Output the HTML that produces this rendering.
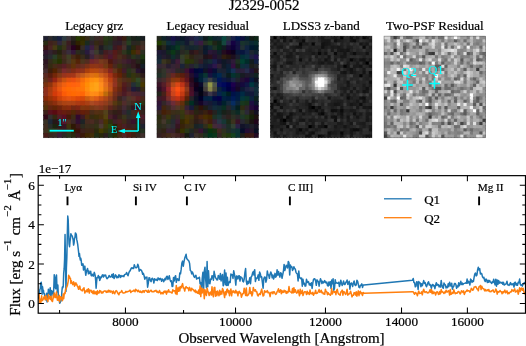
<!DOCTYPE html>
<html lang="en"><head><meta charset="utf-8"><title>J2329-0052</title>
<style>html,body{margin:0;padding:0;background:#fff}svg{display:block}text{font-family:'Liberation Serif','Times New Roman',Times,serif;fill:#000;stroke:#000;stroke-width:0.22px;paint-order:stroke fill}text.c{fill:#00ffff;stroke:#00ffff;stroke-width:0.08px}</style></head><body>
<svg width="526" height="346" viewBox="0 0 526 346">
<rect width="526" height="346" fill="#fff"/>
<text x="264.2" y="10.3" font-size="15.0" text-anchor="middle">J2329-0052</text>
<text x="94.2" y="29.8" font-size="13.0" text-anchor="middle">Legacy grz</text>
<g>
<rect x="43.30" y="36.10" width="5.82" height="5.82" fill="#1e1e2f"/>
<rect x="47.92" y="36.10" width="5.82" height="5.82" fill="#29282c"/>
<rect x="52.55" y="36.10" width="5.82" height="5.82" fill="#1a2430"/>
<rect x="57.17" y="36.10" width="5.82" height="5.82" fill="#161e3e"/>
<rect x="61.79" y="36.10" width="5.82" height="5.82" fill="#2c3b42"/>
<rect x="66.41" y="36.10" width="5.82" height="5.82" fill="#3b3438"/>
<rect x="71.04" y="36.10" width="5.82" height="5.82" fill="#28251f"/>
<rect x="75.66" y="36.10" width="5.82" height="5.82" fill="#263901"/>
<rect x="80.28" y="36.10" width="5.82" height="5.82" fill="#2e2b00"/>
<rect x="84.90" y="36.10" width="5.82" height="5.82" fill="#352a16"/>
<rect x="89.53" y="36.10" width="5.82" height="5.82" fill="#2e312b"/>
<rect x="94.15" y="36.10" width="5.82" height="5.82" fill="#382b27"/>
<rect x="98.77" y="36.10" width="5.82" height="5.82" fill="#3d2925"/>
<rect x="103.40" y="36.10" width="5.82" height="5.82" fill="#293a17"/>
<rect x="108.02" y="36.10" width="5.82" height="5.82" fill="#243318"/>
<rect x="112.64" y="36.10" width="5.82" height="5.82" fill="#32241e"/>
<rect x="117.26" y="36.10" width="5.82" height="5.82" fill="#32151e"/>
<rect x="121.89" y="36.10" width="5.82" height="5.82" fill="#381c10"/>
<rect x="126.51" y="36.10" width="5.82" height="5.82" fill="#1f3120"/>
<rect x="131.13" y="36.10" width="5.82" height="5.82" fill="#1a2118"/>
<rect x="135.75" y="36.10" width="5.82" height="5.82" fill="#14231b"/>
<rect x="140.38" y="36.10" width="4.62" height="5.82" fill="#171c20"/>
<rect x="43.30" y="40.72" width="5.82" height="5.82" fill="#282a11"/>
<rect x="47.92" y="40.72" width="5.82" height="5.82" fill="#41201c"/>
<rect x="52.55" y="40.72" width="5.82" height="5.82" fill="#3e281d"/>
<rect x="57.17" y="40.72" width="5.82" height="5.82" fill="#30273d"/>
<rect x="61.79" y="40.72" width="5.82" height="5.82" fill="#393627"/>
<rect x="66.41" y="40.72" width="5.82" height="5.82" fill="#3b1d20"/>
<rect x="71.04" y="40.72" width="5.82" height="5.82" fill="#201815"/>
<rect x="75.66" y="40.72" width="5.82" height="5.82" fill="#2f2100"/>
<rect x="80.28" y="40.72" width="5.82" height="5.82" fill="#352e00"/>
<rect x="84.90" y="40.72" width="5.82" height="5.82" fill="#1b2b1f"/>
<rect x="89.53" y="40.72" width="5.82" height="5.82" fill="#2f232b"/>
<rect x="94.15" y="40.72" width="5.82" height="5.82" fill="#352813"/>
<rect x="98.77" y="40.72" width="5.82" height="5.82" fill="#36221c"/>
<rect x="103.40" y="40.72" width="5.82" height="5.82" fill="#273115"/>
<rect x="108.02" y="40.72" width="5.82" height="5.82" fill="#262d21"/>
<rect x="112.64" y="40.72" width="5.82" height="5.82" fill="#301e28"/>
<rect x="117.26" y="40.72" width="5.82" height="5.82" fill="#2d1d29"/>
<rect x="121.89" y="40.72" width="5.82" height="5.82" fill="#3a2b25"/>
<rect x="126.51" y="40.72" width="5.82" height="5.82" fill="#263d20"/>
<rect x="131.13" y="40.72" width="5.82" height="5.82" fill="#2a2623"/>
<rect x="135.75" y="40.72" width="5.82" height="5.82" fill="#29281e"/>
<rect x="140.38" y="40.72" width="4.62" height="5.82" fill="#3b2f27"/>
<rect x="43.30" y="45.35" width="5.82" height="5.82" fill="#381313"/>
<rect x="47.92" y="45.35" width="5.82" height="5.82" fill="#4a2423"/>
<rect x="52.55" y="45.35" width="5.82" height="5.82" fill="#463a12"/>
<rect x="57.17" y="45.35" width="5.82" height="5.82" fill="#233114"/>
<rect x="61.79" y="45.35" width="5.82" height="5.82" fill="#393417"/>
<rect x="66.41" y="45.35" width="5.82" height="5.82" fill="#3a1d2d"/>
<rect x="71.04" y="45.35" width="5.82" height="5.82" fill="#290121"/>
<rect x="75.66" y="45.35" width="5.82" height="5.82" fill="#260c05"/>
<rect x="80.28" y="45.35" width="5.82" height="5.82" fill="#362b24"/>
<rect x="84.90" y="45.35" width="5.82" height="5.82" fill="#212546"/>
<rect x="89.53" y="45.35" width="5.82" height="5.82" fill="#3d1e42"/>
<rect x="94.15" y="45.35" width="5.82" height="5.82" fill="#3f2f20"/>
<rect x="98.77" y="45.35" width="5.82" height="5.82" fill="#201a23"/>
<rect x="103.40" y="45.35" width="5.82" height="5.82" fill="#272f27"/>
<rect x="108.02" y="45.35" width="5.82" height="5.82" fill="#24342f"/>
<rect x="112.64" y="45.35" width="5.82" height="5.82" fill="#3a1a22"/>
<rect x="117.26" y="45.35" width="5.82" height="5.82" fill="#481919"/>
<rect x="121.89" y="45.35" width="5.82" height="5.82" fill="#452f2b"/>
<rect x="126.51" y="45.35" width="5.82" height="5.82" fill="#182624"/>
<rect x="131.13" y="45.35" width="5.82" height="5.82" fill="#29290d"/>
<rect x="135.75" y="45.35" width="5.82" height="5.82" fill="#411f17"/>
<rect x="140.38" y="45.35" width="4.62" height="5.82" fill="#472e27"/>
<rect x="43.30" y="49.97" width="5.82" height="5.82" fill="#30162d"/>
<rect x="47.92" y="49.97" width="5.82" height="5.82" fill="#32222e"/>
<rect x="52.55" y="49.97" width="5.82" height="5.82" fill="#2e1e1d"/>
<rect x="57.17" y="49.97" width="5.82" height="5.82" fill="#25220d"/>
<rect x="61.79" y="49.97" width="5.82" height="5.82" fill="#392626"/>
<rect x="66.41" y="49.97" width="5.82" height="5.82" fill="#392c3b"/>
<rect x="71.04" y="49.97" width="5.82" height="5.82" fill="#331738"/>
<rect x="75.66" y="49.97" width="5.82" height="5.82" fill="#2b2a1c"/>
<rect x="80.28" y="49.97" width="5.82" height="5.82" fill="#262525"/>
<rect x="84.90" y="49.97" width="5.82" height="5.82" fill="#291b3d"/>
<rect x="89.53" y="49.97" width="5.82" height="5.82" fill="#433143"/>
<rect x="94.15" y="49.97" width="5.82" height="5.82" fill="#3c3b2c"/>
<rect x="98.77" y="49.97" width="5.82" height="5.82" fill="#272328"/>
<rect x="103.40" y="49.97" width="5.82" height="5.82" fill="#441c1f"/>
<rect x="108.02" y="49.97" width="5.82" height="5.82" fill="#45232c"/>
<rect x="112.64" y="49.97" width="5.82" height="5.82" fill="#551a18"/>
<rect x="117.26" y="49.97" width="5.82" height="5.82" fill="#412319"/>
<rect x="121.89" y="49.97" width="5.82" height="5.82" fill="#2f351e"/>
<rect x="126.51" y="49.97" width="5.82" height="5.82" fill="#1a2b16"/>
<rect x="131.13" y="49.97" width="5.82" height="5.82" fill="#3d2e01"/>
<rect x="135.75" y="49.97" width="5.82" height="5.82" fill="#502813"/>
<rect x="140.38" y="49.97" width="4.62" height="5.82" fill="#2c2e21"/>
<rect x="43.30" y="54.59" width="5.82" height="5.82" fill="#251e2b"/>
<rect x="47.92" y="54.59" width="5.82" height="5.82" fill="#292b2f"/>
<rect x="52.55" y="54.59" width="5.82" height="5.82" fill="#293e26"/>
<rect x="57.17" y="54.59" width="5.82" height="5.82" fill="#2f300e"/>
<rect x="61.79" y="54.59" width="5.82" height="5.82" fill="#422b1f"/>
<rect x="66.41" y="54.59" width="5.82" height="5.82" fill="#3f3f24"/>
<rect x="71.04" y="54.59" width="5.82" height="5.82" fill="#472a16"/>
<rect x="75.66" y="54.59" width="5.82" height="5.82" fill="#3c1f09"/>
<rect x="80.28" y="54.59" width="5.82" height="5.82" fill="#382b19"/>
<rect x="84.90" y="54.59" width="5.82" height="5.82" fill="#291e22"/>
<rect x="89.53" y="54.59" width="5.82" height="5.82" fill="#3e243c"/>
<rect x="94.15" y="54.59" width="5.82" height="5.82" fill="#512e29"/>
<rect x="98.77" y="54.59" width="5.82" height="5.82" fill="#492a1e"/>
<rect x="103.40" y="54.59" width="5.82" height="5.82" fill="#541e1f"/>
<rect x="108.02" y="54.59" width="5.82" height="5.82" fill="#4d182f"/>
<rect x="112.64" y="54.59" width="5.82" height="5.82" fill="#541e1b"/>
<rect x="117.26" y="54.59" width="5.82" height="5.82" fill="#492d1b"/>
<rect x="121.89" y="54.59" width="5.82" height="5.82" fill="#40221b"/>
<rect x="126.51" y="54.59" width="5.82" height="5.82" fill="#2d221e"/>
<rect x="131.13" y="54.59" width="5.82" height="5.82" fill="#29351d"/>
<rect x="135.75" y="54.59" width="5.82" height="5.82" fill="#292a25"/>
<rect x="140.38" y="54.59" width="4.62" height="5.82" fill="#1c360f"/>
<rect x="43.30" y="59.21" width="5.82" height="5.82" fill="#2d1520"/>
<rect x="47.92" y="59.21" width="5.82" height="5.82" fill="#332b1b"/>
<rect x="52.55" y="59.21" width="5.82" height="5.82" fill="#2e3812"/>
<rect x="57.17" y="59.21" width="5.82" height="5.82" fill="#253200"/>
<rect x="61.79" y="59.21" width="5.82" height="5.82" fill="#3c2a1b"/>
<rect x="66.41" y="59.21" width="5.82" height="5.82" fill="#493927"/>
<rect x="71.04" y="59.21" width="5.82" height="5.82" fill="#573710"/>
<rect x="75.66" y="59.21" width="5.82" height="5.82" fill="#532308"/>
<rect x="80.28" y="59.21" width="5.82" height="5.82" fill="#4c351d"/>
<rect x="84.90" y="59.21" width="5.82" height="5.82" fill="#522c20"/>
<rect x="89.53" y="59.21" width="5.82" height="5.82" fill="#71262c"/>
<rect x="94.15" y="59.21" width="5.82" height="5.82" fill="#742d27"/>
<rect x="98.77" y="59.21" width="5.82" height="5.82" fill="#773a1c"/>
<rect x="103.40" y="59.21" width="5.82" height="5.82" fill="#6d331b"/>
<rect x="108.02" y="59.21" width="5.82" height="5.82" fill="#4d170f"/>
<rect x="112.64" y="59.21" width="5.82" height="5.82" fill="#482026"/>
<rect x="117.26" y="59.21" width="5.82" height="5.82" fill="#442923"/>
<rect x="121.89" y="59.21" width="5.82" height="5.82" fill="#41222d"/>
<rect x="126.51" y="59.21" width="5.82" height="5.82" fill="#391a2e"/>
<rect x="131.13" y="59.21" width="5.82" height="5.82" fill="#321820"/>
<rect x="135.75" y="59.21" width="5.82" height="5.82" fill="#27241a"/>
<rect x="140.38" y="59.21" width="4.62" height="5.82" fill="#14210f"/>
<rect x="43.30" y="63.84" width="5.82" height="5.82" fill="#341d22"/>
<rect x="47.92" y="63.84" width="5.82" height="5.82" fill="#352a11"/>
<rect x="52.55" y="63.84" width="5.82" height="5.82" fill="#462a17"/>
<rect x="57.17" y="63.84" width="5.82" height="5.82" fill="#4b231b"/>
<rect x="61.79" y="63.84" width="5.82" height="5.82" fill="#571e25"/>
<rect x="66.41" y="63.84" width="5.82" height="5.82" fill="#582919"/>
<rect x="71.04" y="63.84" width="5.82" height="5.82" fill="#61320a"/>
<rect x="75.66" y="63.84" width="5.82" height="5.82" fill="#642b1c"/>
<rect x="80.28" y="63.84" width="5.82" height="5.82" fill="#6a2f21"/>
<rect x="84.90" y="63.84" width="5.82" height="5.82" fill="#7a3117"/>
<rect x="89.53" y="63.84" width="5.82" height="5.82" fill="#8e3415"/>
<rect x="94.15" y="63.84" width="5.82" height="5.82" fill="#8d3617"/>
<rect x="98.77" y="63.84" width="5.82" height="5.82" fill="#87311a"/>
<rect x="103.40" y="63.84" width="5.82" height="5.82" fill="#703913"/>
<rect x="108.02" y="63.84" width="5.82" height="5.82" fill="#64220b"/>
<rect x="112.64" y="63.84" width="5.82" height="5.82" fill="#49281f"/>
<rect x="117.26" y="63.84" width="5.82" height="5.82" fill="#39310f"/>
<rect x="121.89" y="63.84" width="5.82" height="5.82" fill="#362720"/>
<rect x="126.51" y="63.84" width="5.82" height="5.82" fill="#2d2520"/>
<rect x="131.13" y="63.84" width="5.82" height="5.82" fill="#341a20"/>
<rect x="135.75" y="63.84" width="5.82" height="5.82" fill="#241115"/>
<rect x="140.38" y="63.84" width="4.62" height="5.82" fill="#141e27"/>
<rect x="43.30" y="68.46" width="5.82" height="5.82" fill="#442c2d"/>
<rect x="47.92" y="68.46" width="5.82" height="5.82" fill="#3c1d0b"/>
<rect x="52.55" y="68.46" width="5.82" height="5.82" fill="#512200"/>
<rect x="57.17" y="68.46" width="5.82" height="5.82" fill="#592d1b"/>
<rect x="61.79" y="68.46" width="5.82" height="5.82" fill="#772a2c"/>
<rect x="66.41" y="68.46" width="5.82" height="5.82" fill="#6f2f23"/>
<rect x="71.04" y="68.46" width="5.82" height="5.82" fill="#7d2b16"/>
<rect x="75.66" y="68.46" width="5.82" height="5.82" fill="#8c2f1c"/>
<rect x="80.28" y="68.46" width="5.82" height="5.82" fill="#8f331a"/>
<rect x="84.90" y="68.46" width="5.82" height="5.82" fill="#a83f0d"/>
<rect x="89.53" y="68.46" width="5.82" height="5.82" fill="#b8480e"/>
<rect x="94.15" y="68.46" width="5.82" height="5.82" fill="#b64a10"/>
<rect x="98.77" y="68.46" width="5.82" height="5.82" fill="#ab461f"/>
<rect x="103.40" y="68.46" width="5.82" height="5.82" fill="#9a3a18"/>
<rect x="108.02" y="68.46" width="5.82" height="5.82" fill="#812621"/>
<rect x="112.64" y="68.46" width="5.82" height="5.82" fill="#633619"/>
<rect x="117.26" y="68.46" width="5.82" height="5.82" fill="#4e230a"/>
<rect x="121.89" y="68.46" width="5.82" height="5.82" fill="#401b2b"/>
<rect x="126.51" y="68.46" width="5.82" height="5.82" fill="#28341a"/>
<rect x="131.13" y="68.46" width="5.82" height="5.82" fill="#373225"/>
<rect x="135.75" y="68.46" width="5.82" height="5.82" fill="#28142e"/>
<rect x="140.38" y="68.46" width="4.62" height="5.82" fill="#1c0e1c"/>
<rect x="43.30" y="73.08" width="5.82" height="5.82" fill="#5a2922"/>
<rect x="47.92" y="73.08" width="5.82" height="5.82" fill="#571d0e"/>
<rect x="52.55" y="73.08" width="5.82" height="5.82" fill="#732708"/>
<rect x="57.17" y="73.08" width="5.82" height="5.82" fill="#813815"/>
<rect x="61.79" y="73.08" width="5.82" height="5.82" fill="#98341d"/>
<rect x="66.41" y="73.08" width="5.82" height="5.82" fill="#a23618"/>
<rect x="71.04" y="73.08" width="5.82" height="5.82" fill="#a4371a"/>
<rect x="75.66" y="73.08" width="5.82" height="5.82" fill="#b74e1f"/>
<rect x="80.28" y="73.08" width="5.82" height="5.82" fill="#c25b1b"/>
<rect x="84.90" y="73.08" width="5.82" height="5.82" fill="#d46717"/>
<rect x="89.53" y="73.08" width="5.82" height="5.82" fill="#de7014"/>
<rect x="94.15" y="73.08" width="5.82" height="5.82" fill="#db720c"/>
<rect x="98.77" y="73.08" width="5.82" height="5.82" fill="#ce601a"/>
<rect x="103.40" y="73.08" width="5.82" height="5.82" fill="#bf4f19"/>
<rect x="108.02" y="73.08" width="5.82" height="5.82" fill="#a53216"/>
<rect x="112.64" y="73.08" width="5.82" height="5.82" fill="#7a280e"/>
<rect x="117.26" y="73.08" width="5.82" height="5.82" fill="#612205"/>
<rect x="121.89" y="73.08" width="5.82" height="5.82" fill="#432313"/>
<rect x="126.51" y="73.08" width="5.82" height="5.82" fill="#253116"/>
<rect x="131.13" y="73.08" width="5.82" height="5.82" fill="#34350e"/>
<rect x="135.75" y="73.08" width="5.82" height="5.82" fill="#342b18"/>
<rect x="140.38" y="73.08" width="4.62" height="5.82" fill="#2d1b18"/>
<rect x="43.30" y="77.70" width="5.82" height="5.82" fill="#5e301a"/>
<rect x="47.92" y="77.70" width="5.82" height="5.82" fill="#6b241d"/>
<rect x="52.55" y="77.70" width="5.82" height="5.82" fill="#942514"/>
<rect x="57.17" y="77.70" width="5.82" height="5.82" fill="#af4015"/>
<rect x="61.79" y="77.70" width="5.82" height="5.82" fill="#c7520f"/>
<rect x="66.41" y="77.70" width="5.82" height="5.82" fill="#e0510f"/>
<rect x="71.04" y="77.70" width="5.82" height="5.82" fill="#e84f11"/>
<rect x="75.66" y="77.70" width="5.82" height="5.82" fill="#e75c11"/>
<rect x="80.28" y="77.70" width="5.82" height="5.82" fill="#f66d0b"/>
<rect x="84.90" y="77.70" width="5.82" height="5.82" fill="#ff8009"/>
<rect x="89.53" y="77.70" width="5.82" height="5.82" fill="#ff8e0e"/>
<rect x="94.15" y="77.70" width="5.82" height="5.82" fill="#ff930f"/>
<rect x="98.77" y="77.70" width="5.82" height="5.82" fill="#f5811a"/>
<rect x="103.40" y="77.70" width="5.82" height="5.82" fill="#da621a"/>
<rect x="108.02" y="77.70" width="5.82" height="5.82" fill="#bb4212"/>
<rect x="112.64" y="77.70" width="5.82" height="5.82" fill="#8d341b"/>
<rect x="117.26" y="77.70" width="5.82" height="5.82" fill="#613414"/>
<rect x="121.89" y="77.70" width="5.82" height="5.82" fill="#522d1c"/>
<rect x="126.51" y="77.70" width="5.82" height="5.82" fill="#4a2f15"/>
<rect x="131.13" y="77.70" width="5.82" height="5.82" fill="#383811"/>
<rect x="135.75" y="77.70" width="5.82" height="5.82" fill="#314826"/>
<rect x="140.38" y="77.70" width="4.62" height="5.82" fill="#43331b"/>
<rect x="43.30" y="82.33" width="5.82" height="5.82" fill="#79310f"/>
<rect x="47.92" y="82.33" width="5.82" height="5.82" fill="#8e350e"/>
<rect x="52.55" y="82.33" width="5.82" height="5.82" fill="#bb4210"/>
<rect x="57.17" y="82.33" width="5.82" height="5.82" fill="#d85614"/>
<rect x="61.79" y="82.33" width="5.82" height="5.82" fill="#f06010"/>
<rect x="66.41" y="82.33" width="5.82" height="5.82" fill="#ff6309"/>
<rect x="71.04" y="82.33" width="5.82" height="5.82" fill="#ff620f"/>
<rect x="75.66" y="82.33" width="5.82" height="5.82" fill="#ff660e"/>
<rect x="80.28" y="82.33" width="5.82" height="5.82" fill="#ff7906"/>
<rect x="84.90" y="82.33" width="5.82" height="5.82" fill="#ff8d05"/>
<rect x="89.53" y="82.33" width="5.82" height="5.82" fill="#ff9d12"/>
<rect x="94.15" y="82.33" width="5.82" height="5.82" fill="#ffa418"/>
<rect x="98.77" y="82.33" width="5.82" height="5.82" fill="#ff8d1e"/>
<rect x="103.40" y="82.33" width="5.82" height="5.82" fill="#e56d1d"/>
<rect x="108.02" y="82.33" width="5.82" height="5.82" fill="#bd4f1c"/>
<rect x="112.64" y="82.33" width="5.82" height="5.82" fill="#913422"/>
<rect x="117.26" y="82.33" width="5.82" height="5.82" fill="#683212"/>
<rect x="121.89" y="82.33" width="5.82" height="5.82" fill="#531d1d"/>
<rect x="126.51" y="82.33" width="5.82" height="5.82" fill="#462721"/>
<rect x="131.13" y="82.33" width="5.82" height="5.82" fill="#242f36"/>
<rect x="135.75" y="82.33" width="5.82" height="5.82" fill="#263d26"/>
<rect x="140.38" y="82.33" width="4.62" height="5.82" fill="#483700"/>
<rect x="43.30" y="86.95" width="5.82" height="5.82" fill="#8d2f1a"/>
<rect x="47.92" y="86.95" width="5.82" height="5.82" fill="#a73c10"/>
<rect x="52.55" y="86.95" width="5.82" height="5.82" fill="#cd420f"/>
<rect x="57.17" y="86.95" width="5.82" height="5.82" fill="#e85610"/>
<rect x="61.79" y="86.95" width="5.82" height="5.82" fill="#ff6509"/>
<rect x="66.41" y="86.95" width="5.82" height="5.82" fill="#ff6c03"/>
<rect x="71.04" y="86.95" width="5.82" height="5.82" fill="#ff6d0a"/>
<rect x="75.66" y="86.95" width="5.82" height="5.82" fill="#ff730a"/>
<rect x="80.28" y="86.95" width="5.82" height="5.82" fill="#ff7707"/>
<rect x="84.90" y="86.95" width="5.82" height="5.82" fill="#ff8d0d"/>
<rect x="89.53" y="86.95" width="5.82" height="5.82" fill="#ffa012"/>
<rect x="94.15" y="86.95" width="5.82" height="5.82" fill="#ffa319"/>
<rect x="98.77" y="86.95" width="5.82" height="5.82" fill="#ff9015"/>
<rect x="103.40" y="86.95" width="5.82" height="5.82" fill="#df7414"/>
<rect x="108.02" y="86.95" width="5.82" height="5.82" fill="#c35416"/>
<rect x="112.64" y="86.95" width="5.82" height="5.82" fill="#842f13"/>
<rect x="117.26" y="86.95" width="5.82" height="5.82" fill="#65280f"/>
<rect x="121.89" y="86.95" width="5.82" height="5.82" fill="#4d171e"/>
<rect x="126.51" y="86.95" width="5.82" height="5.82" fill="#412329"/>
<rect x="131.13" y="86.95" width="5.82" height="5.82" fill="#1f1a39"/>
<rect x="135.75" y="86.95" width="5.82" height="5.82" fill="#221e2a"/>
<rect x="140.38" y="86.95" width="4.62" height="5.82" fill="#3a2a13"/>
<rect x="43.30" y="91.57" width="5.82" height="5.82" fill="#8d301d"/>
<rect x="47.92" y="91.57" width="5.82" height="5.82" fill="#ac3c12"/>
<rect x="52.55" y="91.57" width="5.82" height="5.82" fill="#d33a0a"/>
<rect x="57.17" y="91.57" width="5.82" height="5.82" fill="#e3480e"/>
<rect x="61.79" y="91.57" width="5.82" height="5.82" fill="#fb5b07"/>
<rect x="66.41" y="91.57" width="5.82" height="5.82" fill="#ff6506"/>
<rect x="71.04" y="91.57" width="5.82" height="5.82" fill="#ff6902"/>
<rect x="75.66" y="91.57" width="5.82" height="5.82" fill="#ff6908"/>
<rect x="80.28" y="91.57" width="5.82" height="5.82" fill="#ff6607"/>
<rect x="84.90" y="91.57" width="5.82" height="5.82" fill="#ff7f11"/>
<rect x="89.53" y="91.57" width="5.82" height="5.82" fill="#ff8d16"/>
<rect x="94.15" y="91.57" width="5.82" height="5.82" fill="#ff8a16"/>
<rect x="98.77" y="91.57" width="5.82" height="5.82" fill="#ee7a0c"/>
<rect x="103.40" y="91.57" width="5.82" height="5.82" fill="#bc6a0b"/>
<rect x="108.02" y="91.57" width="5.82" height="5.82" fill="#a04a10"/>
<rect x="112.64" y="91.57" width="5.82" height="5.82" fill="#742e1b"/>
<rect x="117.26" y="91.57" width="5.82" height="5.82" fill="#5b261f"/>
<rect x="121.89" y="91.57" width="5.82" height="5.82" fill="#4c1b25"/>
<rect x="126.51" y="91.57" width="5.82" height="5.82" fill="#582928"/>
<rect x="131.13" y="91.57" width="5.82" height="5.82" fill="#4c252f"/>
<rect x="135.75" y="91.57" width="5.82" height="5.82" fill="#462430"/>
<rect x="140.38" y="91.57" width="4.62" height="5.82" fill="#3d2731"/>
<rect x="43.30" y="96.20" width="5.82" height="5.82" fill="#872908"/>
<rect x="47.92" y="96.20" width="5.82" height="5.82" fill="#993307"/>
<rect x="52.55" y="96.20" width="5.82" height="5.82" fill="#b03108"/>
<rect x="57.17" y="96.20" width="5.82" height="5.82" fill="#cb430a"/>
<rect x="61.79" y="96.20" width="5.82" height="5.82" fill="#dc4d0d"/>
<rect x="66.41" y="96.20" width="5.82" height="5.82" fill="#e45311"/>
<rect x="71.04" y="96.20" width="5.82" height="5.82" fill="#e35009"/>
<rect x="75.66" y="96.20" width="5.82" height="5.82" fill="#dd4709"/>
<rect x="80.28" y="96.20" width="5.82" height="5.82" fill="#d44909"/>
<rect x="84.90" y="96.20" width="5.82" height="5.82" fill="#cc5c10"/>
<rect x="89.53" y="96.20" width="5.82" height="5.82" fill="#dd6713"/>
<rect x="94.15" y="96.20" width="5.82" height="5.82" fill="#dc5c16"/>
<rect x="98.77" y="96.20" width="5.82" height="5.82" fill="#c54e14"/>
<rect x="103.40" y="96.20" width="5.82" height="5.82" fill="#ac4716"/>
<rect x="108.02" y="96.20" width="5.82" height="5.82" fill="#8e3b1c"/>
<rect x="112.64" y="96.20" width="5.82" height="5.82" fill="#672b1a"/>
<rect x="117.26" y="96.20" width="5.82" height="5.82" fill="#3b2420"/>
<rect x="121.89" y="96.20" width="5.82" height="5.82" fill="#422d33"/>
<rect x="126.51" y="96.20" width="5.82" height="5.82" fill="#4e3728"/>
<rect x="131.13" y="96.20" width="5.82" height="5.82" fill="#5a3029"/>
<rect x="135.75" y="96.20" width="5.82" height="5.82" fill="#5a1f22"/>
<rect x="140.38" y="96.20" width="4.62" height="5.82" fill="#46271b"/>
<rect x="43.30" y="100.82" width="5.82" height="5.82" fill="#682d0d"/>
<rect x="47.92" y="100.82" width="5.82" height="5.82" fill="#7a2d0c"/>
<rect x="52.55" y="100.82" width="5.82" height="5.82" fill="#8b2e0e"/>
<rect x="57.17" y="100.82" width="5.82" height="5.82" fill="#9c3e16"/>
<rect x="61.79" y="100.82" width="5.82" height="5.82" fill="#ab4213"/>
<rect x="66.41" y="100.82" width="5.82" height="5.82" fill="#ac4417"/>
<rect x="71.04" y="100.82" width="5.82" height="5.82" fill="#ae4215"/>
<rect x="75.66" y="100.82" width="5.82" height="5.82" fill="#ab3a14"/>
<rect x="80.28" y="100.82" width="5.82" height="5.82" fill="#aa370e"/>
<rect x="84.90" y="100.82" width="5.82" height="5.82" fill="#a93f14"/>
<rect x="89.53" y="100.82" width="5.82" height="5.82" fill="#aa4a23"/>
<rect x="94.15" y="100.82" width="5.82" height="5.82" fill="#a84220"/>
<rect x="98.77" y="100.82" width="5.82" height="5.82" fill="#9d3d1f"/>
<rect x="103.40" y="100.82" width="5.82" height="5.82" fill="#903c1c"/>
<rect x="108.02" y="100.82" width="5.82" height="5.82" fill="#783b20"/>
<rect x="112.64" y="100.82" width="5.82" height="5.82" fill="#563810"/>
<rect x="117.26" y="100.82" width="5.82" height="5.82" fill="#3f3014"/>
<rect x="121.89" y="100.82" width="5.82" height="5.82" fill="#512c2b"/>
<rect x="126.51" y="100.82" width="5.82" height="5.82" fill="#423329"/>
<rect x="131.13" y="100.82" width="5.82" height="5.82" fill="#472a1e"/>
<rect x="135.75" y="100.82" width="5.82" height="5.82" fill="#41201a"/>
<rect x="140.38" y="100.82" width="4.62" height="5.82" fill="#303114"/>
<rect x="43.30" y="105.44" width="5.82" height="5.82" fill="#533108"/>
<rect x="47.92" y="105.44" width="5.82" height="5.82" fill="#622410"/>
<rect x="52.55" y="105.44" width="5.82" height="5.82" fill="#5f2406"/>
<rect x="57.17" y="105.44" width="5.82" height="5.82" fill="#6e230c"/>
<rect x="61.79" y="105.44" width="5.82" height="5.82" fill="#802c0c"/>
<rect x="66.41" y="105.44" width="5.82" height="5.82" fill="#872a0e"/>
<rect x="71.04" y="105.44" width="5.82" height="5.82" fill="#722813"/>
<rect x="75.66" y="105.44" width="5.82" height="5.82" fill="#7c2513"/>
<rect x="80.28" y="105.44" width="5.82" height="5.82" fill="#7d360f"/>
<rect x="84.90" y="105.44" width="5.82" height="5.82" fill="#80320d"/>
<rect x="89.53" y="105.44" width="5.82" height="5.82" fill="#783816"/>
<rect x="94.15" y="105.44" width="5.82" height="5.82" fill="#7f3b1d"/>
<rect x="98.77" y="105.44" width="5.82" height="5.82" fill="#80341c"/>
<rect x="103.40" y="105.44" width="5.82" height="5.82" fill="#703518"/>
<rect x="108.02" y="105.44" width="5.82" height="5.82" fill="#5d251d"/>
<rect x="112.64" y="105.44" width="5.82" height="5.82" fill="#4a2919"/>
<rect x="117.26" y="105.44" width="5.82" height="5.82" fill="#3b241f"/>
<rect x="121.89" y="105.44" width="5.82" height="5.82" fill="#422a34"/>
<rect x="126.51" y="105.44" width="5.82" height="5.82" fill="#312923"/>
<rect x="131.13" y="105.44" width="5.82" height="5.82" fill="#301622"/>
<rect x="135.75" y="105.44" width="5.82" height="5.82" fill="#380c1e"/>
<rect x="140.38" y="105.44" width="4.62" height="5.82" fill="#2f1c15"/>
<rect x="43.30" y="110.06" width="5.82" height="5.82" fill="#3d2019"/>
<rect x="47.92" y="110.06" width="5.82" height="5.82" fill="#58111d"/>
<rect x="52.55" y="110.06" width="5.82" height="5.82" fill="#590b12"/>
<rect x="57.17" y="110.06" width="5.82" height="5.82" fill="#671816"/>
<rect x="61.79" y="110.06" width="5.82" height="5.82" fill="#661d0f"/>
<rect x="66.41" y="110.06" width="5.82" height="5.82" fill="#5e1f0e"/>
<rect x="71.04" y="110.06" width="5.82" height="5.82" fill="#522706"/>
<rect x="75.66" y="110.06" width="5.82" height="5.82" fill="#571d13"/>
<rect x="80.28" y="110.06" width="5.82" height="5.82" fill="#641e0a"/>
<rect x="84.90" y="110.06" width="5.82" height="5.82" fill="#5e220c"/>
<rect x="89.53" y="110.06" width="5.82" height="5.82" fill="#4a2c19"/>
<rect x="94.15" y="110.06" width="5.82" height="5.82" fill="#542f14"/>
<rect x="98.77" y="110.06" width="5.82" height="5.82" fill="#4f3012"/>
<rect x="103.40" y="110.06" width="5.82" height="5.82" fill="#52411b"/>
<rect x="108.02" y="110.06" width="5.82" height="5.82" fill="#3e251d"/>
<rect x="112.64" y="110.06" width="5.82" height="5.82" fill="#301f16"/>
<rect x="117.26" y="110.06" width="5.82" height="5.82" fill="#361b1a"/>
<rect x="121.89" y="110.06" width="5.82" height="5.82" fill="#342532"/>
<rect x="126.51" y="110.06" width="5.82" height="5.82" fill="#212d2c"/>
<rect x="131.13" y="110.06" width="5.82" height="5.82" fill="#3d2a22"/>
<rect x="135.75" y="110.06" width="5.82" height="5.82" fill="#511e10"/>
<rect x="140.38" y="110.06" width="4.62" height="5.82" fill="#34231d"/>
<rect x="43.30" y="114.69" width="5.82" height="5.82" fill="#300918"/>
<rect x="47.92" y="114.69" width="5.82" height="5.82" fill="#332f2e"/>
<rect x="52.55" y="114.69" width="5.82" height="5.82" fill="#342710"/>
<rect x="57.17" y="114.69" width="5.82" height="5.82" fill="#531c26"/>
<rect x="61.79" y="114.69" width="5.82" height="5.82" fill="#570f23"/>
<rect x="66.41" y="114.69" width="5.82" height="5.82" fill="#431909"/>
<rect x="71.04" y="114.69" width="5.82" height="5.82" fill="#3d2a15"/>
<rect x="75.66" y="114.69" width="5.82" height="5.82" fill="#32092d"/>
<rect x="80.28" y="114.69" width="5.82" height="5.82" fill="#3e1a23"/>
<rect x="84.90" y="114.69" width="5.82" height="5.82" fill="#4f2c0a"/>
<rect x="89.53" y="114.69" width="5.82" height="5.82" fill="#372c10"/>
<rect x="94.15" y="114.69" width="5.82" height="5.82" fill="#3c2e09"/>
<rect x="98.77" y="114.69" width="5.82" height="5.82" fill="#482e0b"/>
<rect x="103.40" y="114.69" width="5.82" height="5.82" fill="#544210"/>
<rect x="108.02" y="114.69" width="5.82" height="5.82" fill="#491f2a"/>
<rect x="112.64" y="114.69" width="5.82" height="5.82" fill="#361523"/>
<rect x="117.26" y="114.69" width="5.82" height="5.82" fill="#342418"/>
<rect x="121.89" y="114.69" width="5.82" height="5.82" fill="#39341b"/>
<rect x="126.51" y="114.69" width="5.82" height="5.82" fill="#2d2b29"/>
<rect x="131.13" y="114.69" width="5.82" height="5.82" fill="#372b26"/>
<rect x="135.75" y="114.69" width="5.82" height="5.82" fill="#491f12"/>
<rect x="140.38" y="114.69" width="4.62" height="5.82" fill="#4c1c28"/>
<rect x="43.30" y="119.31" width="5.82" height="5.82" fill="#373023"/>
<rect x="47.92" y="119.31" width="5.82" height="5.82" fill="#1d2635"/>
<rect x="52.55" y="119.31" width="5.82" height="5.82" fill="#251816"/>
<rect x="57.17" y="119.31" width="5.82" height="5.82" fill="#351221"/>
<rect x="61.79" y="119.31" width="5.82" height="5.82" fill="#57182e"/>
<rect x="66.41" y="119.31" width="5.82" height="5.82" fill="#4a2b1f"/>
<rect x="71.04" y="119.31" width="5.82" height="5.82" fill="#3b2625"/>
<rect x="75.66" y="119.31" width="5.82" height="5.82" fill="#30102f"/>
<rect x="80.28" y="119.31" width="5.82" height="5.82" fill="#1d2325"/>
<rect x="84.90" y="119.31" width="5.82" height="5.82" fill="#452a1f"/>
<rect x="89.53" y="119.31" width="5.82" height="5.82" fill="#4b2a22"/>
<rect x="94.15" y="119.31" width="5.82" height="5.82" fill="#392a1b"/>
<rect x="98.77" y="119.31" width="5.82" height="5.82" fill="#4a2a29"/>
<rect x="103.40" y="119.31" width="5.82" height="5.82" fill="#473401"/>
<rect x="108.02" y="119.31" width="5.82" height="5.82" fill="#2e2e0f"/>
<rect x="112.64" y="119.31" width="5.82" height="5.82" fill="#3f2126"/>
<rect x="117.26" y="119.31" width="5.82" height="5.82" fill="#4c201f"/>
<rect x="121.89" y="119.31" width="5.82" height="5.82" fill="#402a18"/>
<rect x="126.51" y="119.31" width="5.82" height="5.82" fill="#361f24"/>
<rect x="131.13" y="119.31" width="5.82" height="5.82" fill="#39132a"/>
<rect x="135.75" y="119.31" width="5.82" height="5.82" fill="#242618"/>
<rect x="140.38" y="119.31" width="4.62" height="5.82" fill="#362229"/>
<rect x="43.30" y="123.93" width="5.82" height="5.82" fill="#3e2c1f"/>
<rect x="47.92" y="123.93" width="5.82" height="5.82" fill="#262c28"/>
<rect x="52.55" y="123.93" width="5.82" height="5.82" fill="#1a2410"/>
<rect x="57.17" y="123.93" width="5.82" height="5.82" fill="#2e1816"/>
<rect x="61.79" y="123.93" width="5.82" height="5.82" fill="#351422"/>
<rect x="66.41" y="123.93" width="5.82" height="5.82" fill="#3c320b"/>
<rect x="71.04" y="123.93" width="5.82" height="5.82" fill="#2e1805"/>
<rect x="75.66" y="123.93" width="5.82" height="5.82" fill="#3d181b"/>
<rect x="80.28" y="123.93" width="5.82" height="5.82" fill="#2d2b1e"/>
<rect x="84.90" y="123.93" width="5.82" height="5.82" fill="#3b2c1b"/>
<rect x="89.53" y="123.93" width="5.82" height="5.82" fill="#382d1b"/>
<rect x="94.15" y="123.93" width="5.82" height="5.82" fill="#343216"/>
<rect x="98.77" y="123.93" width="5.82" height="5.82" fill="#4c3a32"/>
<rect x="103.40" y="123.93" width="5.82" height="5.82" fill="#3d380b"/>
<rect x="108.02" y="123.93" width="5.82" height="5.82" fill="#29460c"/>
<rect x="112.64" y="123.93" width="5.82" height="5.82" fill="#282108"/>
<rect x="117.26" y="123.93" width="5.82" height="5.82" fill="#4a1f13"/>
<rect x="121.89" y="123.93" width="5.82" height="5.82" fill="#491f24"/>
<rect x="126.51" y="123.93" width="5.82" height="5.82" fill="#3a1e1e"/>
<rect x="131.13" y="123.93" width="5.82" height="5.82" fill="#372421"/>
<rect x="135.75" y="123.93" width="5.82" height="5.82" fill="#1c3319"/>
<rect x="140.38" y="123.93" width="4.62" height="5.82" fill="#1e222f"/>
<rect x="43.30" y="128.55" width="5.82" height="5.82" fill="#3d301e"/>
<rect x="47.92" y="128.55" width="5.82" height="5.82" fill="#2f3d1c"/>
<rect x="52.55" y="128.55" width="5.82" height="5.82" fill="#39351e"/>
<rect x="57.17" y="128.55" width="5.82" height="5.82" fill="#412421"/>
<rect x="61.79" y="128.55" width="5.82" height="5.82" fill="#381e20"/>
<rect x="66.41" y="128.55" width="5.82" height="5.82" fill="#3e2a14"/>
<rect x="71.04" y="128.55" width="5.82" height="5.82" fill="#301d03"/>
<rect x="75.66" y="128.55" width="5.82" height="5.82" fill="#391109"/>
<rect x="80.28" y="128.55" width="5.82" height="5.82" fill="#3d211c"/>
<rect x="84.90" y="128.55" width="5.82" height="5.82" fill="#3d2514"/>
<rect x="89.53" y="128.55" width="5.82" height="5.82" fill="#3e2516"/>
<rect x="94.15" y="128.55" width="5.82" height="5.82" fill="#2a2a0d"/>
<rect x="98.77" y="128.55" width="5.82" height="5.82" fill="#433b00"/>
<rect x="103.40" y="128.55" width="5.82" height="5.82" fill="#313409"/>
<rect x="108.02" y="128.55" width="5.82" height="5.82" fill="#273a20"/>
<rect x="112.64" y="128.55" width="5.82" height="5.82" fill="#202008"/>
<rect x="117.26" y="128.55" width="5.82" height="5.82" fill="#44190b"/>
<rect x="121.89" y="128.55" width="5.82" height="5.82" fill="#541f0d"/>
<rect x="126.51" y="128.55" width="5.82" height="5.82" fill="#4e220c"/>
<rect x="131.13" y="128.55" width="5.82" height="5.82" fill="#3f210f"/>
<rect x="135.75" y="128.55" width="5.82" height="5.82" fill="#1e2916"/>
<rect x="140.38" y="128.55" width="4.62" height="5.82" fill="#233120"/>
<rect x="43.30" y="133.18" width="5.82" height="4.62" fill="#471d19"/>
<rect x="47.92" y="133.18" width="5.82" height="4.62" fill="#3a251e"/>
<rect x="52.55" y="133.18" width="5.82" height="4.62" fill="#382a24"/>
<rect x="57.17" y="133.18" width="5.82" height="4.62" fill="#3c1e36"/>
<rect x="61.79" y="133.18" width="5.82" height="4.62" fill="#2d2924"/>
<rect x="66.41" y="133.18" width="5.82" height="4.62" fill="#2a331c"/>
<rect x="71.04" y="133.18" width="5.82" height="4.62" fill="#2b2910"/>
<rect x="75.66" y="133.18" width="5.82" height="4.62" fill="#3b181c"/>
<rect x="80.28" y="133.18" width="5.82" height="4.62" fill="#3a1908"/>
<rect x="84.90" y="133.18" width="5.82" height="4.62" fill="#3f2700"/>
<rect x="89.53" y="133.18" width="5.82" height="4.62" fill="#422e09"/>
<rect x="94.15" y="133.18" width="5.82" height="4.62" fill="#212e15"/>
<rect x="98.77" y="133.18" width="5.82" height="4.62" fill="#28280a"/>
<rect x="103.40" y="133.18" width="5.82" height="4.62" fill="#2b1f1f"/>
<rect x="108.02" y="133.18" width="5.82" height="4.62" fill="#1d331a"/>
<rect x="112.64" y="133.18" width="5.82" height="4.62" fill="#282b03"/>
<rect x="117.26" y="133.18" width="5.82" height="4.62" fill="#442712"/>
<rect x="121.89" y="133.18" width="5.82" height="4.62" fill="#522526"/>
<rect x="126.51" y="133.18" width="5.82" height="4.62" fill="#521912"/>
<rect x="131.13" y="133.18" width="5.82" height="4.62" fill="#3e1e0f"/>
<rect x="135.75" y="133.18" width="5.82" height="4.62" fill="#36251c"/>
<rect x="140.38" y="133.18" width="4.62" height="4.62" fill="#3f302c"/>
</g>
<rect x="43.30" y="36.10" width="101.70" height="101.70" fill="none" stroke="#000" stroke-opacity="0.55" stroke-width="0.5"/>
<text x="207.8" y="29.8" font-size="13.0" text-anchor="middle">Legacy residual</text>
<g>
<rect x="156.90" y="36.10" width="5.82" height="5.82" fill="#22271c"/>
<rect x="161.52" y="36.10" width="5.82" height="5.82" fill="#0e2428"/>
<rect x="166.15" y="36.10" width="5.82" height="5.82" fill="#141a2e"/>
<rect x="170.77" y="36.10" width="5.82" height="5.82" fill="#161048"/>
<rect x="175.39" y="36.10" width="5.82" height="5.82" fill="#131333"/>
<rect x="180.01" y="36.10" width="5.82" height="5.82" fill="#081728"/>
<rect x="184.64" y="36.10" width="5.82" height="5.82" fill="#151834"/>
<rect x="189.26" y="36.10" width="5.82" height="5.82" fill="#221e3f"/>
<rect x="193.88" y="36.10" width="5.82" height="5.82" fill="#1f284d"/>
<rect x="198.50" y="36.10" width="5.82" height="5.82" fill="#152c3e"/>
<rect x="203.13" y="36.10" width="5.82" height="5.82" fill="#0f1b1f"/>
<rect x="207.75" y="36.10" width="5.82" height="5.82" fill="#082f22"/>
<rect x="212.37" y="36.10" width="5.82" height="5.82" fill="#0d262f"/>
<rect x="217.00" y="36.10" width="5.82" height="5.82" fill="#132834"/>
<rect x="221.62" y="36.10" width="5.82" height="5.82" fill="#094940"/>
<rect x="226.24" y="36.10" width="5.82" height="5.82" fill="#26363b"/>
<rect x="230.86" y="36.10" width="5.82" height="5.82" fill="#182049"/>
<rect x="235.49" y="36.10" width="5.82" height="5.82" fill="#00194b"/>
<rect x="240.11" y="36.10" width="5.82" height="5.82" fill="#0d0f3f"/>
<rect x="244.73" y="36.10" width="5.82" height="5.82" fill="#071f2d"/>
<rect x="249.35" y="36.10" width="5.82" height="5.82" fill="#111c15"/>
<rect x="253.98" y="36.10" width="4.62" height="5.82" fill="#0d2516"/>
<rect x="156.90" y="40.72" width="5.82" height="5.82" fill="#203b00"/>
<rect x="161.52" y="40.72" width="5.82" height="5.82" fill="#24361d"/>
<rect x="166.15" y="40.72" width="5.82" height="5.82" fill="#0f2e3a"/>
<rect x="170.77" y="40.72" width="5.82" height="5.82" fill="#18223f"/>
<rect x="175.39" y="40.72" width="5.82" height="5.82" fill="#0c2a29"/>
<rect x="180.01" y="40.72" width="5.82" height="5.82" fill="#112830"/>
<rect x="184.64" y="40.72" width="5.82" height="5.82" fill="#141930"/>
<rect x="189.26" y="40.72" width="5.82" height="5.82" fill="#293133"/>
<rect x="193.88" y="40.72" width="5.82" height="5.82" fill="#292145"/>
<rect x="198.50" y="40.72" width="5.82" height="5.82" fill="#391b3f"/>
<rect x="203.13" y="40.72" width="5.82" height="5.82" fill="#262f24"/>
<rect x="207.75" y="40.72" width="5.82" height="5.82" fill="#203d1c"/>
<rect x="212.37" y="40.72" width="5.82" height="5.82" fill="#1f2316"/>
<rect x="217.00" y="40.72" width="5.82" height="5.82" fill="#0e2418"/>
<rect x="221.62" y="40.72" width="5.82" height="5.82" fill="#15473e"/>
<rect x="226.24" y="40.72" width="5.82" height="5.82" fill="#29254b"/>
<rect x="230.86" y="40.72" width="5.82" height="5.82" fill="#160242"/>
<rect x="235.49" y="40.72" width="5.82" height="5.82" fill="#121443"/>
<rect x="240.11" y="40.72" width="5.82" height="5.82" fill="#19332c"/>
<rect x="244.73" y="40.72" width="5.82" height="5.82" fill="#162d30"/>
<rect x="249.35" y="40.72" width="5.82" height="5.82" fill="#0a2732"/>
<rect x="253.98" y="40.72" width="4.62" height="5.82" fill="#082d2c"/>
<rect x="156.90" y="45.35" width="5.82" height="5.82" fill="#19170d"/>
<rect x="161.52" y="45.35" width="5.82" height="5.82" fill="#25231e"/>
<rect x="166.15" y="45.35" width="5.82" height="5.82" fill="#0a1d25"/>
<rect x="170.77" y="45.35" width="5.82" height="5.82" fill="#062825"/>
<rect x="175.39" y="45.35" width="5.82" height="5.82" fill="#0a3821"/>
<rect x="180.01" y="45.35" width="5.82" height="5.82" fill="#242e27"/>
<rect x="184.64" y="45.35" width="5.82" height="5.82" fill="#19252c"/>
<rect x="189.26" y="45.35" width="5.82" height="5.82" fill="#14252f"/>
<rect x="193.88" y="45.35" width="5.82" height="5.82" fill="#18282d"/>
<rect x="198.50" y="45.35" width="5.82" height="5.82" fill="#242527"/>
<rect x="203.13" y="45.35" width="5.82" height="5.82" fill="#0c1a2a"/>
<rect x="207.75" y="45.35" width="5.82" height="5.82" fill="#112835"/>
<rect x="212.37" y="45.35" width="5.82" height="5.82" fill="#1d3224"/>
<rect x="217.00" y="45.35" width="5.82" height="5.82" fill="#072a18"/>
<rect x="221.62" y="45.35" width="5.82" height="5.82" fill="#121b21"/>
<rect x="226.24" y="45.35" width="5.82" height="5.82" fill="#180934"/>
<rect x="230.86" y="45.35" width="5.82" height="5.82" fill="#0e0038"/>
<rect x="235.49" y="45.35" width="5.82" height="5.82" fill="#151242"/>
<rect x="240.11" y="45.35" width="5.82" height="5.82" fill="#212f33"/>
<rect x="244.73" y="45.35" width="5.82" height="5.82" fill="#102340"/>
<rect x="249.35" y="45.35" width="5.82" height="5.82" fill="#00182e"/>
<rect x="253.98" y="45.35" width="4.62" height="5.82" fill="#001b27"/>
<rect x="156.90" y="49.97" width="5.82" height="5.82" fill="#1e1835"/>
<rect x="161.52" y="49.97" width="5.82" height="5.82" fill="#1b182c"/>
<rect x="166.15" y="49.97" width="5.82" height="5.82" fill="#11261f"/>
<rect x="170.77" y="49.97" width="5.82" height="5.82" fill="#0b3716"/>
<rect x="175.39" y="49.97" width="5.82" height="5.82" fill="#142522"/>
<rect x="180.01" y="49.97" width="5.82" height="5.82" fill="#292823"/>
<rect x="184.64" y="49.97" width="5.82" height="5.82" fill="#263021"/>
<rect x="189.26" y="49.97" width="5.82" height="5.82" fill="#28161c"/>
<rect x="193.88" y="49.97" width="5.82" height="5.82" fill="#371b1b"/>
<rect x="198.50" y="49.97" width="5.82" height="5.82" fill="#262022"/>
<rect x="203.13" y="49.97" width="5.82" height="5.82" fill="#0c192d"/>
<rect x="207.75" y="49.97" width="5.82" height="5.82" fill="#2a1736"/>
<rect x="212.37" y="49.97" width="5.82" height="5.82" fill="#22172f"/>
<rect x="217.00" y="49.97" width="5.82" height="5.82" fill="#101f2a"/>
<rect x="221.62" y="49.97" width="5.82" height="5.82" fill="#240c1f"/>
<rect x="226.24" y="49.97" width="5.82" height="5.82" fill="#1b001f"/>
<rect x="230.86" y="49.97" width="5.82" height="5.82" fill="#0c001d"/>
<rect x="235.49" y="49.97" width="5.82" height="5.82" fill="#0a183a"/>
<rect x="240.11" y="49.97" width="5.82" height="5.82" fill="#08153e"/>
<rect x="244.73" y="49.97" width="5.82" height="5.82" fill="#122447"/>
<rect x="249.35" y="49.97" width="5.82" height="5.82" fill="#1d2630"/>
<rect x="253.98" y="49.97" width="4.62" height="5.82" fill="#10222f"/>
<rect x="156.90" y="54.59" width="5.82" height="5.82" fill="#162133"/>
<rect x="161.52" y="54.59" width="5.82" height="5.82" fill="#231c2f"/>
<rect x="166.15" y="54.59" width="5.82" height="5.82" fill="#1c1b25"/>
<rect x="170.77" y="54.59" width="5.82" height="5.82" fill="#0f2d2b"/>
<rect x="175.39" y="54.59" width="5.82" height="5.82" fill="#1e2128"/>
<rect x="180.01" y="54.59" width="5.82" height="5.82" fill="#343f29"/>
<rect x="184.64" y="54.59" width="5.82" height="5.82" fill="#383815"/>
<rect x="189.26" y="54.59" width="5.82" height="5.82" fill="#2e2514"/>
<rect x="193.88" y="54.59" width="5.82" height="5.82" fill="#302822"/>
<rect x="198.50" y="54.59" width="5.82" height="5.82" fill="#2f2927"/>
<rect x="203.13" y="54.59" width="5.82" height="5.82" fill="#1e1219"/>
<rect x="207.75" y="54.59" width="5.82" height="5.82" fill="#29111b"/>
<rect x="212.37" y="54.59" width="5.82" height="5.82" fill="#221031"/>
<rect x="217.00" y="54.59" width="5.82" height="5.82" fill="#201b29"/>
<rect x="221.62" y="54.59" width="5.82" height="5.82" fill="#301d0e"/>
<rect x="226.24" y="54.59" width="5.82" height="5.82" fill="#25150e"/>
<rect x="230.86" y="54.59" width="5.82" height="5.82" fill="#1d0f1e"/>
<rect x="235.49" y="54.59" width="5.82" height="5.82" fill="#1a1e30"/>
<rect x="240.11" y="54.59" width="5.82" height="5.82" fill="#033038"/>
<rect x="244.73" y="54.59" width="5.82" height="5.82" fill="#0b3140"/>
<rect x="249.35" y="54.59" width="5.82" height="5.82" fill="#202042"/>
<rect x="253.98" y="54.59" width="4.62" height="5.82" fill="#1f134c"/>
<rect x="156.90" y="59.21" width="5.82" height="5.82" fill="#182b38"/>
<rect x="161.52" y="59.21" width="5.82" height="5.82" fill="#3b361f"/>
<rect x="166.15" y="59.21" width="5.82" height="5.82" fill="#2f2918"/>
<rect x="170.77" y="59.21" width="5.82" height="5.82" fill="#201c2e"/>
<rect x="175.39" y="59.21" width="5.82" height="5.82" fill="#3e1c37"/>
<rect x="180.01" y="59.21" width="5.82" height="5.82" fill="#353b33"/>
<rect x="184.64" y="59.21" width="5.82" height="5.82" fill="#283806"/>
<rect x="189.26" y="59.21" width="5.82" height="5.82" fill="#2c340d"/>
<rect x="193.88" y="59.21" width="5.82" height="5.82" fill="#2b2a20"/>
<rect x="198.50" y="59.21" width="5.82" height="5.82" fill="#311c27"/>
<rect x="203.13" y="59.21" width="5.82" height="5.82" fill="#15202c"/>
<rect x="207.75" y="59.21" width="5.82" height="5.82" fill="#152b33"/>
<rect x="212.37" y="59.21" width="5.82" height="5.82" fill="#1a1f4a"/>
<rect x="217.00" y="59.21" width="5.82" height="5.82" fill="#181433"/>
<rect x="221.62" y="59.21" width="5.82" height="5.82" fill="#0f1826"/>
<rect x="226.24" y="59.21" width="5.82" height="5.82" fill="#1a192d"/>
<rect x="230.86" y="59.21" width="5.82" height="5.82" fill="#2d1b37"/>
<rect x="235.49" y="59.21" width="5.82" height="5.82" fill="#1d3020"/>
<rect x="240.11" y="59.21" width="5.82" height="5.82" fill="#014032"/>
<rect x="244.73" y="59.21" width="5.82" height="5.82" fill="#012c29"/>
<rect x="249.35" y="59.21" width="5.82" height="5.82" fill="#131c1f"/>
<rect x="253.98" y="59.21" width="4.62" height="5.82" fill="#101e40"/>
<rect x="156.90" y="63.84" width="5.82" height="5.82" fill="#352736"/>
<rect x="161.52" y="63.84" width="5.82" height="5.82" fill="#392b30"/>
<rect x="166.15" y="63.84" width="5.82" height="5.82" fill="#281e2e"/>
<rect x="170.77" y="63.84" width="5.82" height="5.82" fill="#342434"/>
<rect x="175.39" y="63.84" width="5.82" height="5.82" fill="#3a212e"/>
<rect x="180.01" y="63.84" width="5.82" height="5.82" fill="#1b2338"/>
<rect x="184.64" y="63.84" width="5.82" height="5.82" fill="#28281f"/>
<rect x="189.26" y="63.84" width="5.82" height="5.82" fill="#272133"/>
<rect x="193.88" y="63.84" width="5.82" height="5.82" fill="#222f2e"/>
<rect x="198.50" y="63.84" width="5.82" height="5.82" fill="#1a2139"/>
<rect x="203.13" y="63.84" width="5.82" height="5.82" fill="#111b32"/>
<rect x="207.75" y="63.84" width="5.82" height="5.82" fill="#19143c"/>
<rect x="212.37" y="63.84" width="5.82" height="5.82" fill="#2d174a"/>
<rect x="217.00" y="63.84" width="5.82" height="5.82" fill="#322134"/>
<rect x="221.62" y="63.84" width="5.82" height="5.82" fill="#101a27"/>
<rect x="226.24" y="63.84" width="5.82" height="5.82" fill="#0e2037"/>
<rect x="230.86" y="63.84" width="5.82" height="5.82" fill="#33103e"/>
<rect x="235.49" y="63.84" width="5.82" height="5.82" fill="#162219"/>
<rect x="240.11" y="63.84" width="5.82" height="5.82" fill="#0d303c"/>
<rect x="244.73" y="63.84" width="5.82" height="5.82" fill="#132a3f"/>
<rect x="249.35" y="63.84" width="5.82" height="5.82" fill="#1d1f1b"/>
<rect x="253.98" y="63.84" width="4.62" height="5.82" fill="#222428"/>
<rect x="156.90" y="68.46" width="5.82" height="5.82" fill="#2a2923"/>
<rect x="161.52" y="68.46" width="5.82" height="5.82" fill="#32352a"/>
<rect x="166.15" y="68.46" width="5.82" height="5.82" fill="#422c34"/>
<rect x="170.77" y="68.46" width="5.82" height="5.82" fill="#3e2538"/>
<rect x="175.39" y="68.46" width="5.82" height="5.82" fill="#2c2726"/>
<rect x="180.01" y="68.46" width="5.82" height="5.82" fill="#2b2327"/>
<rect x="184.64" y="68.46" width="5.82" height="5.82" fill="#3d1131"/>
<rect x="189.26" y="68.46" width="5.82" height="5.82" fill="#1c0038"/>
<rect x="193.88" y="68.46" width="5.82" height="5.82" fill="#000736"/>
<rect x="198.50" y="68.46" width="5.82" height="5.82" fill="#000a3e"/>
<rect x="203.13" y="68.46" width="5.82" height="5.82" fill="#101324"/>
<rect x="207.75" y="68.46" width="5.82" height="5.82" fill="#1c0434"/>
<rect x="212.37" y="68.46" width="5.82" height="5.82" fill="#070e35"/>
<rect x="217.00" y="68.46" width="5.82" height="5.82" fill="#192334"/>
<rect x="221.62" y="68.46" width="5.82" height="5.82" fill="#1b2132"/>
<rect x="226.24" y="68.46" width="5.82" height="5.82" fill="#082237"/>
<rect x="230.86" y="68.46" width="5.82" height="5.82" fill="#152f52"/>
<rect x="235.49" y="68.46" width="5.82" height="5.82" fill="#28203a"/>
<rect x="240.11" y="68.46" width="5.82" height="5.82" fill="#2b203c"/>
<rect x="244.73" y="68.46" width="5.82" height="5.82" fill="#252b4b"/>
<rect x="249.35" y="68.46" width="5.82" height="5.82" fill="#201436"/>
<rect x="253.98" y="68.46" width="4.62" height="5.82" fill="#231319"/>
<rect x="156.90" y="73.08" width="5.82" height="5.82" fill="#203027"/>
<rect x="161.52" y="73.08" width="5.82" height="5.82" fill="#30342b"/>
<rect x="166.15" y="73.08" width="5.82" height="5.82" fill="#4a3027"/>
<rect x="170.77" y="73.08" width="5.82" height="5.82" fill="#672722"/>
<rect x="175.39" y="73.08" width="5.82" height="5.82" fill="#59270f"/>
<rect x="180.01" y="73.08" width="5.82" height="5.82" fill="#5a1d0d"/>
<rect x="184.64" y="73.08" width="5.82" height="5.82" fill="#4d1820"/>
<rect x="189.26" y="73.08" width="5.82" height="5.82" fill="#240e2d"/>
<rect x="193.88" y="73.08" width="5.82" height="5.82" fill="#0c0b3d"/>
<rect x="198.50" y="73.08" width="5.82" height="5.82" fill="#002034"/>
<rect x="203.13" y="73.08" width="5.82" height="5.82" fill="#0a3431"/>
<rect x="207.75" y="73.08" width="5.82" height="5.82" fill="#161340"/>
<rect x="212.37" y="73.08" width="5.82" height="5.82" fill="#001d3e"/>
<rect x="217.00" y="73.08" width="5.82" height="5.82" fill="#002850"/>
<rect x="221.62" y="73.08" width="5.82" height="5.82" fill="#182737"/>
<rect x="226.24" y="73.08" width="5.82" height="5.82" fill="#0b1c1e"/>
<rect x="230.86" y="73.08" width="5.82" height="5.82" fill="#04332f"/>
<rect x="235.49" y="73.08" width="5.82" height="5.82" fill="#112b26"/>
<rect x="240.11" y="73.08" width="5.82" height="5.82" fill="#171c22"/>
<rect x="244.73" y="73.08" width="5.82" height="5.82" fill="#20192c"/>
<rect x="249.35" y="73.08" width="5.82" height="5.82" fill="#191e2c"/>
<rect x="253.98" y="73.08" width="4.62" height="5.82" fill="#102421"/>
<rect x="156.90" y="77.70" width="5.82" height="5.82" fill="#3a292f"/>
<rect x="161.52" y="77.70" width="5.82" height="5.82" fill="#472c2b"/>
<rect x="166.15" y="77.70" width="5.82" height="5.82" fill="#622c21"/>
<rect x="170.77" y="77.70" width="5.82" height="5.82" fill="#823810"/>
<rect x="175.39" y="77.70" width="5.82" height="5.82" fill="#8e350c"/>
<rect x="180.01" y="77.70" width="5.82" height="5.82" fill="#812513"/>
<rect x="184.64" y="77.70" width="5.82" height="5.82" fill="#5f151d"/>
<rect x="189.26" y="77.70" width="5.82" height="5.82" fill="#28091b"/>
<rect x="193.88" y="77.70" width="5.82" height="5.82" fill="#030b24"/>
<rect x="198.50" y="77.70" width="5.82" height="5.82" fill="#002138"/>
<rect x="203.13" y="77.70" width="5.82" height="5.82" fill="#1b364d"/>
<rect x="207.75" y="77.70" width="5.82" height="5.82" fill="#3c4043"/>
<rect x="212.37" y="77.70" width="5.82" height="5.82" fill="#182940"/>
<rect x="217.00" y="77.70" width="5.82" height="5.82" fill="#001755"/>
<rect x="221.62" y="77.70" width="5.82" height="5.82" fill="#0c1746"/>
<rect x="226.24" y="77.70" width="5.82" height="5.82" fill="#0f1737"/>
<rect x="230.86" y="77.70" width="5.82" height="5.82" fill="#1c2543"/>
<rect x="235.49" y="77.70" width="5.82" height="5.82" fill="#1f212d"/>
<rect x="240.11" y="77.70" width="5.82" height="5.82" fill="#230f34"/>
<rect x="244.73" y="77.70" width="5.82" height="5.82" fill="#1d0539"/>
<rect x="249.35" y="77.70" width="5.82" height="5.82" fill="#08193b"/>
<rect x="253.98" y="77.70" width="4.62" height="5.82" fill="#0e1021"/>
<rect x="156.90" y="82.33" width="5.82" height="5.82" fill="#3b1427"/>
<rect x="161.52" y="82.33" width="5.82" height="5.82" fill="#561f28"/>
<rect x="166.15" y="82.33" width="5.82" height="5.82" fill="#7c2c21"/>
<rect x="170.77" y="82.33" width="5.82" height="5.82" fill="#b24819"/>
<rect x="175.39" y="82.33" width="5.82" height="5.82" fill="#d94716"/>
<rect x="180.01" y="82.33" width="5.82" height="5.82" fill="#be3418"/>
<rect x="184.64" y="82.33" width="5.82" height="5.82" fill="#7d261a"/>
<rect x="189.26" y="82.33" width="5.82" height="5.82" fill="#2f0d26"/>
<rect x="193.88" y="82.33" width="5.82" height="5.82" fill="#150017"/>
<rect x="198.50" y="82.33" width="5.82" height="5.82" fill="#0a092b"/>
<rect x="203.13" y="82.33" width="5.82" height="5.82" fill="#464d45"/>
<rect x="207.75" y="82.33" width="5.82" height="5.82" fill="#929648"/>
<rect x="212.37" y="82.33" width="5.82" height="5.82" fill="#4e554a"/>
<rect x="217.00" y="82.33" width="5.82" height="5.82" fill="#09105b"/>
<rect x="221.62" y="82.33" width="5.82" height="5.82" fill="#00085b"/>
<rect x="226.24" y="82.33" width="5.82" height="5.82" fill="#00004c"/>
<rect x="230.86" y="82.33" width="5.82" height="5.82" fill="#1d004c"/>
<rect x="235.49" y="82.33" width="5.82" height="5.82" fill="#180b32"/>
<rect x="240.11" y="82.33" width="5.82" height="5.82" fill="#150a3d"/>
<rect x="244.73" y="82.33" width="5.82" height="5.82" fill="#101743"/>
<rect x="249.35" y="82.33" width="5.82" height="5.82" fill="#00373e"/>
<rect x="253.98" y="82.33" width="4.62" height="5.82" fill="#0d2432"/>
<rect x="156.90" y="86.95" width="5.82" height="5.82" fill="#2d1024"/>
<rect x="161.52" y="86.95" width="5.82" height="5.82" fill="#4f1529"/>
<rect x="166.15" y="86.95" width="5.82" height="5.82" fill="#942429"/>
<rect x="170.77" y="86.95" width="5.82" height="5.82" fill="#d6491c"/>
<rect x="175.39" y="86.95" width="5.82" height="5.82" fill="#fb5012"/>
<rect x="180.01" y="86.95" width="5.82" height="5.82" fill="#d84617"/>
<rect x="184.64" y="86.95" width="5.82" height="5.82" fill="#8e381c"/>
<rect x="189.26" y="86.95" width="5.82" height="5.82" fill="#441025"/>
<rect x="193.88" y="86.95" width="5.82" height="5.82" fill="#0b001e"/>
<rect x="198.50" y="86.95" width="5.82" height="5.82" fill="#000518"/>
<rect x="203.13" y="86.95" width="5.82" height="5.82" fill="#433e3b"/>
<rect x="207.75" y="86.95" width="5.82" height="5.82" fill="#86844c"/>
<rect x="212.37" y="86.95" width="5.82" height="5.82" fill="#4e4c39"/>
<rect x="217.00" y="86.95" width="5.82" height="5.82" fill="#0b223b"/>
<rect x="221.62" y="86.95" width="5.82" height="5.82" fill="#001249"/>
<rect x="226.24" y="86.95" width="5.82" height="5.82" fill="#000040"/>
<rect x="230.86" y="86.95" width="5.82" height="5.82" fill="#120043"/>
<rect x="235.49" y="86.95" width="5.82" height="5.82" fill="#160827"/>
<rect x="240.11" y="86.95" width="5.82" height="5.82" fill="#0d1833"/>
<rect x="244.73" y="86.95" width="5.82" height="5.82" fill="#1d2041"/>
<rect x="249.35" y="86.95" width="5.82" height="5.82" fill="#232a42"/>
<rect x="253.98" y="86.95" width="4.62" height="5.82" fill="#102e3a"/>
<rect x="156.90" y="91.57" width="5.82" height="5.82" fill="#22231b"/>
<rect x="161.52" y="91.57" width="5.82" height="5.82" fill="#482119"/>
<rect x="166.15" y="91.57" width="5.82" height="5.82" fill="#88271c"/>
<rect x="170.77" y="91.57" width="5.82" height="5.82" fill="#ca441c"/>
<rect x="175.39" y="91.57" width="5.82" height="5.82" fill="#ef4511"/>
<rect x="180.01" y="91.57" width="5.82" height="5.82" fill="#c43a12"/>
<rect x="184.64" y="91.57" width="5.82" height="5.82" fill="#7c2b0e"/>
<rect x="189.26" y="91.57" width="5.82" height="5.82" fill="#4a102a"/>
<rect x="193.88" y="91.57" width="5.82" height="5.82" fill="#1a0f29"/>
<rect x="198.50" y="91.57" width="5.82" height="5.82" fill="#040413"/>
<rect x="203.13" y="91.57" width="5.82" height="5.82" fill="#1f172a"/>
<rect x="207.75" y="91.57" width="5.82" height="5.82" fill="#3b3649"/>
<rect x="212.37" y="91.57" width="5.82" height="5.82" fill="#22213a"/>
<rect x="217.00" y="91.57" width="5.82" height="5.82" fill="#06234d"/>
<rect x="221.62" y="91.57" width="5.82" height="5.82" fill="#002d39"/>
<rect x="226.24" y="91.57" width="5.82" height="5.82" fill="#001e22"/>
<rect x="230.86" y="91.57" width="5.82" height="5.82" fill="#001249"/>
<rect x="235.49" y="91.57" width="5.82" height="5.82" fill="#001a44"/>
<rect x="240.11" y="91.57" width="5.82" height="5.82" fill="#002a43"/>
<rect x="244.73" y="91.57" width="5.82" height="5.82" fill="#0c1c36"/>
<rect x="249.35" y="91.57" width="5.82" height="5.82" fill="#13193a"/>
<rect x="253.98" y="91.57" width="4.62" height="5.82" fill="#132a38"/>
<rect x="156.90" y="96.20" width="5.82" height="5.82" fill="#3d1a2a"/>
<rect x="161.52" y="96.20" width="5.82" height="5.82" fill="#471823"/>
<rect x="166.15" y="96.20" width="5.82" height="5.82" fill="#752d2b"/>
<rect x="170.77" y="96.20" width="5.82" height="5.82" fill="#a6351f"/>
<rect x="175.39" y="96.20" width="5.82" height="5.82" fill="#bd3114"/>
<rect x="180.01" y="96.20" width="5.82" height="5.82" fill="#9e2a11"/>
<rect x="184.64" y="96.20" width="5.82" height="5.82" fill="#572009"/>
<rect x="189.26" y="96.20" width="5.82" height="5.82" fill="#272228"/>
<rect x="193.88" y="96.20" width="5.82" height="5.82" fill="#0a1124"/>
<rect x="198.50" y="96.20" width="5.82" height="5.82" fill="#000028"/>
<rect x="203.13" y="96.20" width="5.82" height="5.82" fill="#042243"/>
<rect x="207.75" y="96.20" width="5.82" height="5.82" fill="#022541"/>
<rect x="212.37" y="96.20" width="5.82" height="5.82" fill="#000844"/>
<rect x="217.00" y="96.20" width="5.82" height="5.82" fill="#060047"/>
<rect x="221.62" y="96.20" width="5.82" height="5.82" fill="#012041"/>
<rect x="226.24" y="96.20" width="5.82" height="5.82" fill="#001c3e"/>
<rect x="230.86" y="96.20" width="5.82" height="5.82" fill="#001b56"/>
<rect x="235.49" y="96.20" width="5.82" height="5.82" fill="#001d43"/>
<rect x="240.11" y="96.20" width="5.82" height="5.82" fill="#04363b"/>
<rect x="244.73" y="96.20" width="5.82" height="5.82" fill="#08352d"/>
<rect x="249.35" y="96.20" width="5.82" height="5.82" fill="#0d243d"/>
<rect x="253.98" y="96.20" width="4.62" height="5.82" fill="#0b211d"/>
<rect x="156.90" y="100.82" width="5.82" height="5.82" fill="#301335"/>
<rect x="161.52" y="100.82" width="5.82" height="5.82" fill="#322729"/>
<rect x="166.15" y="100.82" width="5.82" height="5.82" fill="#492938"/>
<rect x="170.77" y="100.82" width="5.82" height="5.82" fill="#6c2c37"/>
<rect x="175.39" y="100.82" width="5.82" height="5.82" fill="#762e1d"/>
<rect x="180.01" y="100.82" width="5.82" height="5.82" fill="#622f0c"/>
<rect x="184.64" y="100.82" width="5.82" height="5.82" fill="#292c14"/>
<rect x="189.26" y="100.82" width="5.82" height="5.82" fill="#012e22"/>
<rect x="193.88" y="100.82" width="5.82" height="5.82" fill="#0f1321"/>
<rect x="198.50" y="100.82" width="5.82" height="5.82" fill="#160428"/>
<rect x="203.13" y="100.82" width="5.82" height="5.82" fill="#1e183c"/>
<rect x="207.75" y="100.82" width="5.82" height="5.82" fill="#161934"/>
<rect x="212.37" y="100.82" width="5.82" height="5.82" fill="#0b1d3a"/>
<rect x="217.00" y="100.82" width="5.82" height="5.82" fill="#090f37"/>
<rect x="221.62" y="100.82" width="5.82" height="5.82" fill="#00212c"/>
<rect x="226.24" y="100.82" width="5.82" height="5.82" fill="#142a3c"/>
<rect x="230.86" y="100.82" width="5.82" height="5.82" fill="#072c60"/>
<rect x="235.49" y="100.82" width="5.82" height="5.82" fill="#0d253a"/>
<rect x="240.11" y="100.82" width="5.82" height="5.82" fill="#17371e"/>
<rect x="244.73" y="100.82" width="5.82" height="5.82" fill="#193119"/>
<rect x="249.35" y="100.82" width="5.82" height="5.82" fill="#1c0e40"/>
<rect x="253.98" y="100.82" width="4.62" height="5.82" fill="#0c162b"/>
<rect x="156.90" y="105.44" width="5.82" height="5.82" fill="#2b1a3c"/>
<rect x="161.52" y="105.44" width="5.82" height="5.82" fill="#41250f"/>
<rect x="166.15" y="105.44" width="5.82" height="5.82" fill="#3c2920"/>
<rect x="170.77" y="105.44" width="5.82" height="5.82" fill="#502e32"/>
<rect x="175.39" y="105.44" width="5.82" height="5.82" fill="#523726"/>
<rect x="180.01" y="105.44" width="5.82" height="5.82" fill="#4a3515"/>
<rect x="184.64" y="105.44" width="5.82" height="5.82" fill="#362135"/>
<rect x="189.26" y="105.44" width="5.82" height="5.82" fill="#181a39"/>
<rect x="193.88" y="105.44" width="5.82" height="5.82" fill="#212014"/>
<rect x="198.50" y="105.44" width="5.82" height="5.82" fill="#2d1209"/>
<rect x="203.13" y="105.44" width="5.82" height="5.82" fill="#1e1c16"/>
<rect x="207.75" y="105.44" width="5.82" height="5.82" fill="#1b202f"/>
<rect x="212.37" y="105.44" width="5.82" height="5.82" fill="#132b3a"/>
<rect x="217.00" y="105.44" width="5.82" height="5.82" fill="#112a32"/>
<rect x="221.62" y="105.44" width="5.82" height="5.82" fill="#092e21"/>
<rect x="226.24" y="105.44" width="5.82" height="5.82" fill="#26242d"/>
<rect x="230.86" y="105.44" width="5.82" height="5.82" fill="#102a3b"/>
<rect x="235.49" y="105.44" width="5.82" height="5.82" fill="#041f1e"/>
<rect x="240.11" y="105.44" width="5.82" height="5.82" fill="#2e2b12"/>
<rect x="244.73" y="105.44" width="5.82" height="5.82" fill="#2d232a"/>
<rect x="249.35" y="105.44" width="5.82" height="5.82" fill="#240a3b"/>
<rect x="253.98" y="105.44" width="4.62" height="5.82" fill="#180032"/>
<rect x="156.90" y="110.06" width="5.82" height="5.82" fill="#362623"/>
<rect x="161.52" y="110.06" width="5.82" height="5.82" fill="#451f07"/>
<rect x="166.15" y="110.06" width="5.82" height="5.82" fill="#442710"/>
<rect x="170.77" y="110.06" width="5.82" height="5.82" fill="#3c2d19"/>
<rect x="175.39" y="110.06" width="5.82" height="5.82" fill="#372f1a"/>
<rect x="180.01" y="110.06" width="5.82" height="5.82" fill="#383811"/>
<rect x="184.64" y="110.06" width="5.82" height="5.82" fill="#462826"/>
<rect x="189.26" y="110.06" width="5.82" height="5.82" fill="#3e1d20"/>
<rect x="193.88" y="110.06" width="5.82" height="5.82" fill="#292412"/>
<rect x="198.50" y="110.06" width="5.82" height="5.82" fill="#2d1c17"/>
<rect x="203.13" y="110.06" width="5.82" height="5.82" fill="#392010"/>
<rect x="207.75" y="110.06" width="5.82" height="5.82" fill="#351212"/>
<rect x="212.37" y="110.06" width="5.82" height="5.82" fill="#242220"/>
<rect x="217.00" y="110.06" width="5.82" height="5.82" fill="#102c2c"/>
<rect x="221.62" y="110.06" width="5.82" height="5.82" fill="#182119"/>
<rect x="226.24" y="110.06" width="5.82" height="5.82" fill="#21211e"/>
<rect x="230.86" y="110.06" width="5.82" height="5.82" fill="#1b2d24"/>
<rect x="235.49" y="110.06" width="5.82" height="5.82" fill="#0c2a25"/>
<rect x="240.11" y="110.06" width="5.82" height="5.82" fill="#2d3924"/>
<rect x="244.73" y="110.06" width="5.82" height="5.82" fill="#2b2836"/>
<rect x="249.35" y="110.06" width="5.82" height="5.82" fill="#211b15"/>
<rect x="253.98" y="110.06" width="4.62" height="5.82" fill="#120f21"/>
<rect x="156.90" y="114.69" width="5.82" height="5.82" fill="#272a0d"/>
<rect x="161.52" y="114.69" width="5.82" height="5.82" fill="#3b2a1f"/>
<rect x="166.15" y="114.69" width="5.82" height="5.82" fill="#3a360d"/>
<rect x="170.77" y="114.69" width="5.82" height="5.82" fill="#2d2b22"/>
<rect x="175.39" y="114.69" width="5.82" height="5.82" fill="#392725"/>
<rect x="180.01" y="114.69" width="5.82" height="5.82" fill="#333611"/>
<rect x="184.64" y="114.69" width="5.82" height="5.82" fill="#48340a"/>
<rect x="189.26" y="114.69" width="5.82" height="5.82" fill="#3e330d"/>
<rect x="193.88" y="114.69" width="5.82" height="5.82" fill="#361d13"/>
<rect x="198.50" y="114.69" width="5.82" height="5.82" fill="#48250e"/>
<rect x="203.13" y="114.69" width="5.82" height="5.82" fill="#482e00"/>
<rect x="207.75" y="114.69" width="5.82" height="5.82" fill="#3f2600"/>
<rect x="212.37" y="114.69" width="5.82" height="5.82" fill="#1e3126"/>
<rect x="217.00" y="114.69" width="5.82" height="5.82" fill="#193735"/>
<rect x="221.62" y="114.69" width="5.82" height="5.82" fill="#292829"/>
<rect x="226.24" y="114.69" width="5.82" height="5.82" fill="#2e211e"/>
<rect x="230.86" y="114.69" width="5.82" height="5.82" fill="#2c3024"/>
<rect x="235.49" y="114.69" width="5.82" height="5.82" fill="#292728"/>
<rect x="240.11" y="114.69" width="5.82" height="5.82" fill="#1e3828"/>
<rect x="244.73" y="114.69" width="5.82" height="5.82" fill="#223618"/>
<rect x="249.35" y="114.69" width="5.82" height="5.82" fill="#152108"/>
<rect x="253.98" y="114.69" width="4.62" height="5.82" fill="#1d100d"/>
<rect x="156.90" y="119.31" width="5.82" height="5.82" fill="#302d16"/>
<rect x="161.52" y="119.31" width="5.82" height="5.82" fill="#44372c"/>
<rect x="166.15" y="119.31" width="5.82" height="5.82" fill="#2a331d"/>
<rect x="170.77" y="119.31" width="5.82" height="5.82" fill="#272a30"/>
<rect x="175.39" y="119.31" width="5.82" height="5.82" fill="#3d1d30"/>
<rect x="180.01" y="119.31" width="5.82" height="5.82" fill="#342802"/>
<rect x="184.64" y="119.31" width="5.82" height="5.82" fill="#493400"/>
<rect x="189.26" y="119.31" width="5.82" height="5.82" fill="#3b2b15"/>
<rect x="193.88" y="119.31" width="5.82" height="5.82" fill="#2c1e17"/>
<rect x="198.50" y="119.31" width="5.82" height="5.82" fill="#362220"/>
<rect x="203.13" y="119.31" width="5.82" height="5.82" fill="#492d1b"/>
<rect x="207.75" y="119.31" width="5.82" height="5.82" fill="#411e0d"/>
<rect x="212.37" y="119.31" width="5.82" height="5.82" fill="#362234"/>
<rect x="217.00" y="119.31" width="5.82" height="5.82" fill="#293545"/>
<rect x="221.62" y="119.31" width="5.82" height="5.82" fill="#163734"/>
<rect x="226.24" y="119.31" width="5.82" height="5.82" fill="#1c2a18"/>
<rect x="230.86" y="119.31" width="5.82" height="5.82" fill="#3a321e"/>
<rect x="235.49" y="119.31" width="5.82" height="5.82" fill="#381327"/>
<rect x="240.11" y="119.31" width="5.82" height="5.82" fill="#282832"/>
<rect x="244.73" y="119.31" width="5.82" height="5.82" fill="#26291e"/>
<rect x="249.35" y="119.31" width="5.82" height="5.82" fill="#1b1312"/>
<rect x="253.98" y="119.31" width="4.62" height="5.82" fill="#20051a"/>
<rect x="156.90" y="123.93" width="5.82" height="5.82" fill="#2a2e1b"/>
<rect x="161.52" y="123.93" width="5.82" height="5.82" fill="#322f20"/>
<rect x="166.15" y="123.93" width="5.82" height="5.82" fill="#33312e"/>
<rect x="170.77" y="123.93" width="5.82" height="5.82" fill="#2d2c33"/>
<rect x="175.39" y="123.93" width="5.82" height="5.82" fill="#371521"/>
<rect x="180.01" y="123.93" width="5.82" height="5.82" fill="#38220a"/>
<rect x="184.64" y="123.93" width="5.82" height="5.82" fill="#3b2b15"/>
<rect x="189.26" y="123.93" width="5.82" height="5.82" fill="#382f15"/>
<rect x="193.88" y="123.93" width="5.82" height="5.82" fill="#1a2325"/>
<rect x="198.50" y="123.93" width="5.82" height="5.82" fill="#1a282b"/>
<rect x="203.13" y="123.93" width="5.82" height="5.82" fill="#312e1c"/>
<rect x="207.75" y="123.93" width="5.82" height="5.82" fill="#393c02"/>
<rect x="212.37" y="123.93" width="5.82" height="5.82" fill="#442a37"/>
<rect x="217.00" y="123.93" width="5.82" height="5.82" fill="#3f2841"/>
<rect x="221.62" y="123.93" width="5.82" height="5.82" fill="#2c2b37"/>
<rect x="226.24" y="123.93" width="5.82" height="5.82" fill="#1c2e26"/>
<rect x="230.86" y="123.93" width="5.82" height="5.82" fill="#304033"/>
<rect x="235.49" y="123.93" width="5.82" height="5.82" fill="#2b2144"/>
<rect x="240.11" y="123.93" width="5.82" height="5.82" fill="#121328"/>
<rect x="244.73" y="123.93" width="5.82" height="5.82" fill="#161b2d"/>
<rect x="249.35" y="123.93" width="5.82" height="5.82" fill="#1e1f29"/>
<rect x="253.98" y="123.93" width="4.62" height="5.82" fill="#161222"/>
<rect x="156.90" y="128.55" width="5.82" height="5.82" fill="#31271e"/>
<rect x="161.52" y="128.55" width="5.82" height="5.82" fill="#302314"/>
<rect x="166.15" y="128.55" width="5.82" height="5.82" fill="#3a2233"/>
<rect x="170.77" y="128.55" width="5.82" height="5.82" fill="#38222f"/>
<rect x="175.39" y="128.55" width="5.82" height="5.82" fill="#2c1d10"/>
<rect x="180.01" y="128.55" width="5.82" height="5.82" fill="#353100"/>
<rect x="184.64" y="128.55" width="5.82" height="5.82" fill="#283616"/>
<rect x="189.26" y="128.55" width="5.82" height="5.82" fill="#222822"/>
<rect x="193.88" y="128.55" width="5.82" height="5.82" fill="#2e221e"/>
<rect x="198.50" y="128.55" width="5.82" height="5.82" fill="#361332"/>
<rect x="203.13" y="128.55" width="5.82" height="5.82" fill="#182123"/>
<rect x="207.75" y="128.55" width="5.82" height="5.82" fill="#09330d"/>
<rect x="212.37" y="128.55" width="5.82" height="5.82" fill="#162e11"/>
<rect x="217.00" y="128.55" width="5.82" height="5.82" fill="#402820"/>
<rect x="221.62" y="128.55" width="5.82" height="5.82" fill="#2e3120"/>
<rect x="226.24" y="128.55" width="5.82" height="5.82" fill="#202c27"/>
<rect x="230.86" y="128.55" width="5.82" height="5.82" fill="#183132"/>
<rect x="235.49" y="128.55" width="5.82" height="5.82" fill="#0d3232"/>
<rect x="240.11" y="128.55" width="5.82" height="5.82" fill="#060d29"/>
<rect x="244.73" y="128.55" width="5.82" height="5.82" fill="#220d32"/>
<rect x="249.35" y="128.55" width="5.82" height="5.82" fill="#261529"/>
<rect x="253.98" y="128.55" width="4.62" height="5.82" fill="#070f20"/>
<rect x="156.90" y="133.18" width="5.82" height="4.62" fill="#342122"/>
<rect x="161.52" y="133.18" width="5.82" height="4.62" fill="#3c241b"/>
<rect x="166.15" y="133.18" width="5.82" height="4.62" fill="#432c18"/>
<rect x="170.77" y="133.18" width="5.82" height="4.62" fill="#482c27"/>
<rect x="175.39" y="133.18" width="5.82" height="4.62" fill="#422423"/>
<rect x="180.01" y="133.18" width="5.82" height="4.62" fill="#3b1e1e"/>
<rect x="184.64" y="133.18" width="5.82" height="4.62" fill="#171a11"/>
<rect x="189.26" y="133.18" width="5.82" height="4.62" fill="#202232"/>
<rect x="193.88" y="133.18" width="5.82" height="4.62" fill="#3b302a"/>
<rect x="198.50" y="133.18" width="5.82" height="4.62" fill="#312b1c"/>
<rect x="203.13" y="133.18" width="5.82" height="4.62" fill="#1a311f"/>
<rect x="207.75" y="133.18" width="5.82" height="4.62" fill="#00341c"/>
<rect x="212.37" y="133.18" width="5.82" height="4.62" fill="#0b361a"/>
<rect x="217.00" y="133.18" width="5.82" height="4.62" fill="#342525"/>
<rect x="221.62" y="133.18" width="5.82" height="4.62" fill="#2e3715"/>
<rect x="226.24" y="133.18" width="5.82" height="4.62" fill="#21390d"/>
<rect x="230.86" y="133.18" width="5.82" height="4.62" fill="#15411d"/>
<rect x="235.49" y="133.18" width="5.82" height="4.62" fill="#0a3331"/>
<rect x="240.11" y="133.18" width="5.82" height="4.62" fill="#1f2019"/>
<rect x="244.73" y="133.18" width="5.82" height="4.62" fill="#35180f"/>
<rect x="249.35" y="133.18" width="5.82" height="4.62" fill="#3b1a15"/>
<rect x="253.98" y="133.18" width="4.62" height="4.62" fill="#230a22"/>
</g>
<rect x="156.90" y="36.10" width="101.70" height="101.70" fill="none" stroke="#000" stroke-opacity="0.55" stroke-width="0.5"/>
<text x="321.2" y="29.8" font-size="13.0" text-anchor="middle">LDSS3 z-band</text>
<g>
<rect x="270.30" y="36.10" width="4.38" height="4.38" fill="#2a2a2a"/>
<rect x="273.48" y="36.10" width="4.38" height="4.38" fill="#000000"/>
<rect x="276.66" y="36.10" width="4.38" height="4.38" fill="#2e2e2e"/>
<rect x="279.83" y="36.10" width="4.38" height="4.38" fill="#161616"/>
<rect x="283.01" y="36.10" width="4.38" height="4.38" fill="#0e0e0e"/>
<rect x="286.19" y="36.10" width="4.38" height="4.38" fill="#252525"/>
<rect x="289.37" y="36.10" width="4.38" height="4.38" fill="#2a2a2a"/>
<rect x="292.55" y="36.10" width="4.38" height="4.38" fill="#1d1d1d"/>
<rect x="295.73" y="36.10" width="4.38" height="4.38" fill="#151515"/>
<rect x="298.90" y="36.10" width="4.38" height="4.38" fill="#222222"/>
<rect x="302.08" y="36.10" width="4.38" height="4.38" fill="#212121"/>
<rect x="305.26" y="36.10" width="4.38" height="4.38" fill="#333333"/>
<rect x="308.44" y="36.10" width="4.38" height="4.38" fill="#2b2b2b"/>
<rect x="311.62" y="36.10" width="4.38" height="4.38" fill="#242424"/>
<rect x="314.79" y="36.10" width="4.38" height="4.38" fill="#2f2f2f"/>
<rect x="317.97" y="36.10" width="4.38" height="4.38" fill="#202020"/>
<rect x="321.15" y="36.10" width="4.38" height="4.38" fill="#171717"/>
<rect x="324.33" y="36.10" width="4.38" height="4.38" fill="#292929"/>
<rect x="327.51" y="36.10" width="4.38" height="4.38" fill="#292929"/>
<rect x="330.68" y="36.10" width="4.38" height="4.38" fill="#1f1f1f"/>
<rect x="333.86" y="36.10" width="4.38" height="4.38" fill="#191919"/>
<rect x="337.04" y="36.10" width="4.38" height="4.38" fill="#252525"/>
<rect x="340.22" y="36.10" width="4.38" height="4.38" fill="#040404"/>
<rect x="343.40" y="36.10" width="4.38" height="4.38" fill="#2a2a2a"/>
<rect x="346.58" y="36.10" width="4.38" height="4.38" fill="#282828"/>
<rect x="349.75" y="36.10" width="4.38" height="4.38" fill="#0e0e0e"/>
<rect x="352.93" y="36.10" width="4.38" height="4.38" fill="#232323"/>
<rect x="356.11" y="36.10" width="4.38" height="4.38" fill="#161616"/>
<rect x="359.29" y="36.10" width="4.38" height="4.38" fill="#2b2b2b"/>
<rect x="362.47" y="36.10" width="4.38" height="4.38" fill="#090909"/>
<rect x="365.64" y="36.10" width="4.38" height="4.38" fill="#171717"/>
<rect x="368.82" y="36.10" width="3.18" height="4.38" fill="#2b2b2b"/>
<rect x="270.30" y="39.28" width="4.38" height="4.38" fill="#1c1c1c"/>
<rect x="273.48" y="39.28" width="4.38" height="4.38" fill="#262626"/>
<rect x="276.66" y="39.28" width="4.38" height="4.38" fill="#1b1b1b"/>
<rect x="279.83" y="39.28" width="4.38" height="4.38" fill="#353535"/>
<rect x="283.01" y="39.28" width="4.38" height="4.38" fill="#141414"/>
<rect x="286.19" y="39.28" width="4.38" height="4.38" fill="#262626"/>
<rect x="289.37" y="39.28" width="4.38" height="4.38" fill="#151515"/>
<rect x="292.55" y="39.28" width="4.38" height="4.38" fill="#333333"/>
<rect x="295.73" y="39.28" width="4.38" height="4.38" fill="#222222"/>
<rect x="298.90" y="39.28" width="4.38" height="4.38" fill="#1e1e1e"/>
<rect x="302.08" y="39.28" width="4.38" height="4.38" fill="#0d0d0d"/>
<rect x="305.26" y="39.28" width="4.38" height="4.38" fill="#363636"/>
<rect x="308.44" y="39.28" width="4.38" height="4.38" fill="#2b2b2b"/>
<rect x="311.62" y="39.28" width="4.38" height="4.38" fill="#2b2b2b"/>
<rect x="314.79" y="39.28" width="4.38" height="4.38" fill="#303030"/>
<rect x="317.97" y="39.28" width="4.38" height="4.38" fill="#262626"/>
<rect x="321.15" y="39.28" width="4.38" height="4.38" fill="#1a1a1a"/>
<rect x="324.33" y="39.28" width="4.38" height="4.38" fill="#181818"/>
<rect x="327.51" y="39.28" width="4.38" height="4.38" fill="#181818"/>
<rect x="330.68" y="39.28" width="4.38" height="4.38" fill="#333333"/>
<rect x="333.86" y="39.28" width="4.38" height="4.38" fill="#101010"/>
<rect x="337.04" y="39.28" width="4.38" height="4.38" fill="#1b1b1b"/>
<rect x="340.22" y="39.28" width="4.38" height="4.38" fill="#1e1e1e"/>
<rect x="343.40" y="39.28" width="4.38" height="4.38" fill="#252525"/>
<rect x="346.58" y="39.28" width="4.38" height="4.38" fill="#292929"/>
<rect x="349.75" y="39.28" width="4.38" height="4.38" fill="#131313"/>
<rect x="352.93" y="39.28" width="4.38" height="4.38" fill="#0d0d0d"/>
<rect x="356.11" y="39.28" width="4.38" height="4.38" fill="#222222"/>
<rect x="359.29" y="39.28" width="4.38" height="4.38" fill="#313131"/>
<rect x="362.47" y="39.28" width="4.38" height="4.38" fill="#2b2b2b"/>
<rect x="365.64" y="39.28" width="4.38" height="4.38" fill="#252525"/>
<rect x="368.82" y="39.28" width="3.18" height="4.38" fill="#1e1e1e"/>
<rect x="270.30" y="42.46" width="4.38" height="4.38" fill="#2c2c2c"/>
<rect x="273.48" y="42.46" width="4.38" height="4.38" fill="#181818"/>
<rect x="276.66" y="42.46" width="4.38" height="4.38" fill="#242424"/>
<rect x="279.83" y="42.46" width="4.38" height="4.38" fill="#212121"/>
<rect x="283.01" y="42.46" width="4.38" height="4.38" fill="#292929"/>
<rect x="286.19" y="42.46" width="4.38" height="4.38" fill="#252525"/>
<rect x="289.37" y="42.46" width="4.38" height="4.38" fill="#414141"/>
<rect x="292.55" y="42.46" width="4.38" height="4.38" fill="#343434"/>
<rect x="295.73" y="42.46" width="4.38" height="4.38" fill="#343434"/>
<rect x="298.90" y="42.46" width="4.38" height="4.38" fill="#090909"/>
<rect x="302.08" y="42.46" width="4.38" height="4.38" fill="#1e1e1e"/>
<rect x="305.26" y="42.46" width="4.38" height="4.38" fill="#1b1b1b"/>
<rect x="308.44" y="42.46" width="4.38" height="4.38" fill="#282828"/>
<rect x="311.62" y="42.46" width="4.38" height="4.38" fill="#070707"/>
<rect x="314.79" y="42.46" width="4.38" height="4.38" fill="#303030"/>
<rect x="317.97" y="42.46" width="4.38" height="4.38" fill="#2f2f2f"/>
<rect x="321.15" y="42.46" width="4.38" height="4.38" fill="#121212"/>
<rect x="324.33" y="42.46" width="4.38" height="4.38" fill="#161616"/>
<rect x="327.51" y="42.46" width="4.38" height="4.38" fill="#181818"/>
<rect x="330.68" y="42.46" width="4.38" height="4.38" fill="#232323"/>
<rect x="333.86" y="42.46" width="4.38" height="4.38" fill="#2a2a2a"/>
<rect x="337.04" y="42.46" width="4.38" height="4.38" fill="#3b3b3b"/>
<rect x="340.22" y="42.46" width="4.38" height="4.38" fill="#202020"/>
<rect x="343.40" y="42.46" width="4.38" height="4.38" fill="#2b2b2b"/>
<rect x="346.58" y="42.46" width="4.38" height="4.38" fill="#242424"/>
<rect x="349.75" y="42.46" width="4.38" height="4.38" fill="#373737"/>
<rect x="352.93" y="42.46" width="4.38" height="4.38" fill="#2b2b2b"/>
<rect x="356.11" y="42.46" width="4.38" height="4.38" fill="#333333"/>
<rect x="359.29" y="42.46" width="4.38" height="4.38" fill="#151515"/>
<rect x="362.47" y="42.46" width="4.38" height="4.38" fill="#202020"/>
<rect x="365.64" y="42.46" width="4.38" height="4.38" fill="#181818"/>
<rect x="368.82" y="42.46" width="3.18" height="4.38" fill="#343434"/>
<rect x="270.30" y="45.63" width="4.38" height="4.38" fill="#1d1d1d"/>
<rect x="273.48" y="45.63" width="4.38" height="4.38" fill="#282828"/>
<rect x="276.66" y="45.63" width="4.38" height="4.38" fill="#1a1a1a"/>
<rect x="279.83" y="45.63" width="4.38" height="4.38" fill="#171717"/>
<rect x="283.01" y="45.63" width="4.38" height="4.38" fill="#282828"/>
<rect x="286.19" y="45.63" width="4.38" height="4.38" fill="#404040"/>
<rect x="289.37" y="45.63" width="4.38" height="4.38" fill="#1f1f1f"/>
<rect x="292.55" y="45.63" width="4.38" height="4.38" fill="#1b1b1b"/>
<rect x="295.73" y="45.63" width="4.38" height="4.38" fill="#141414"/>
<rect x="298.90" y="45.63" width="4.38" height="4.38" fill="#121212"/>
<rect x="302.08" y="45.63" width="4.38" height="4.38" fill="#282828"/>
<rect x="305.26" y="45.63" width="4.38" height="4.38" fill="#2c2c2c"/>
<rect x="308.44" y="45.63" width="4.38" height="4.38" fill="#222222"/>
<rect x="311.62" y="45.63" width="4.38" height="4.38" fill="#262626"/>
<rect x="314.79" y="45.63" width="4.38" height="4.38" fill="#232323"/>
<rect x="317.97" y="45.63" width="4.38" height="4.38" fill="#242424"/>
<rect x="321.15" y="45.63" width="4.38" height="4.38" fill="#101010"/>
<rect x="324.33" y="45.63" width="4.38" height="4.38" fill="#1d1d1d"/>
<rect x="327.51" y="45.63" width="4.38" height="4.38" fill="#232323"/>
<rect x="330.68" y="45.63" width="4.38" height="4.38" fill="#191919"/>
<rect x="333.86" y="45.63" width="4.38" height="4.38" fill="#1c1c1c"/>
<rect x="337.04" y="45.63" width="4.38" height="4.38" fill="#181818"/>
<rect x="340.22" y="45.63" width="4.38" height="4.38" fill="#1e1e1e"/>
<rect x="343.40" y="45.63" width="4.38" height="4.38" fill="#2c2c2c"/>
<rect x="346.58" y="45.63" width="4.38" height="4.38" fill="#1d1d1d"/>
<rect x="349.75" y="45.63" width="4.38" height="4.38" fill="#202020"/>
<rect x="352.93" y="45.63" width="4.38" height="4.38" fill="#2c2c2c"/>
<rect x="356.11" y="45.63" width="4.38" height="4.38" fill="#2a2a2a"/>
<rect x="359.29" y="45.63" width="4.38" height="4.38" fill="#363636"/>
<rect x="362.47" y="45.63" width="4.38" height="4.38" fill="#090909"/>
<rect x="365.64" y="45.63" width="4.38" height="4.38" fill="#2c2c2c"/>
<rect x="368.82" y="45.63" width="3.18" height="4.38" fill="#1c1c1c"/>
<rect x="270.30" y="48.81" width="4.38" height="4.38" fill="#2f2f2f"/>
<rect x="273.48" y="48.81" width="4.38" height="4.38" fill="#2f2f2f"/>
<rect x="276.66" y="48.81" width="4.38" height="4.38" fill="#242424"/>
<rect x="279.83" y="48.81" width="4.38" height="4.38" fill="#353535"/>
<rect x="283.01" y="48.81" width="4.38" height="4.38" fill="#1f1f1f"/>
<rect x="286.19" y="48.81" width="4.38" height="4.38" fill="#202020"/>
<rect x="289.37" y="48.81" width="4.38" height="4.38" fill="#2c2c2c"/>
<rect x="292.55" y="48.81" width="4.38" height="4.38" fill="#1b1b1b"/>
<rect x="295.73" y="48.81" width="4.38" height="4.38" fill="#3c3c3c"/>
<rect x="298.90" y="48.81" width="4.38" height="4.38" fill="#2e2e2e"/>
<rect x="302.08" y="48.81" width="4.38" height="4.38" fill="#3c3c3c"/>
<rect x="305.26" y="48.81" width="4.38" height="4.38" fill="#222222"/>
<rect x="308.44" y="48.81" width="4.38" height="4.38" fill="#1d1d1d"/>
<rect x="311.62" y="48.81" width="4.38" height="4.38" fill="#242424"/>
<rect x="314.79" y="48.81" width="4.38" height="4.38" fill="#2b2b2b"/>
<rect x="317.97" y="48.81" width="4.38" height="4.38" fill="#1b1b1b"/>
<rect x="321.15" y="48.81" width="4.38" height="4.38" fill="#272727"/>
<rect x="324.33" y="48.81" width="4.38" height="4.38" fill="#222222"/>
<rect x="327.51" y="48.81" width="4.38" height="4.38" fill="#363636"/>
<rect x="330.68" y="48.81" width="4.38" height="4.38" fill="#1a1a1a"/>
<rect x="333.86" y="48.81" width="4.38" height="4.38" fill="#2f2f2f"/>
<rect x="337.04" y="48.81" width="4.38" height="4.38" fill="#1a1a1a"/>
<rect x="340.22" y="48.81" width="4.38" height="4.38" fill="#161616"/>
<rect x="343.40" y="48.81" width="4.38" height="4.38" fill="#191919"/>
<rect x="346.58" y="48.81" width="4.38" height="4.38" fill="#141414"/>
<rect x="349.75" y="48.81" width="4.38" height="4.38" fill="#242424"/>
<rect x="352.93" y="48.81" width="4.38" height="4.38" fill="#2e2e2e"/>
<rect x="356.11" y="48.81" width="4.38" height="4.38" fill="#242424"/>
<rect x="359.29" y="48.81" width="4.38" height="4.38" fill="#2a2a2a"/>
<rect x="362.47" y="48.81" width="4.38" height="4.38" fill="#363636"/>
<rect x="365.64" y="48.81" width="4.38" height="4.38" fill="#252525"/>
<rect x="368.82" y="48.81" width="3.18" height="4.38" fill="#242424"/>
<rect x="270.30" y="51.99" width="4.38" height="4.38" fill="#2b2b2b"/>
<rect x="273.48" y="51.99" width="4.38" height="4.38" fill="#0d0d0d"/>
<rect x="276.66" y="51.99" width="4.38" height="4.38" fill="#2a2a2a"/>
<rect x="279.83" y="51.99" width="4.38" height="4.38" fill="#222222"/>
<rect x="283.01" y="51.99" width="4.38" height="4.38" fill="#303030"/>
<rect x="286.19" y="51.99" width="4.38" height="4.38" fill="#212121"/>
<rect x="289.37" y="51.99" width="4.38" height="4.38" fill="#181818"/>
<rect x="292.55" y="51.99" width="4.38" height="4.38" fill="#272727"/>
<rect x="295.73" y="51.99" width="4.38" height="4.38" fill="#1c1c1c"/>
<rect x="298.90" y="51.99" width="4.38" height="4.38" fill="#202020"/>
<rect x="302.08" y="51.99" width="4.38" height="4.38" fill="#232323"/>
<rect x="305.26" y="51.99" width="4.38" height="4.38" fill="#212121"/>
<rect x="308.44" y="51.99" width="4.38" height="4.38" fill="#202020"/>
<rect x="311.62" y="51.99" width="4.38" height="4.38" fill="#181818"/>
<rect x="314.79" y="51.99" width="4.38" height="4.38" fill="#202020"/>
<rect x="317.97" y="51.99" width="4.38" height="4.38" fill="#090909"/>
<rect x="321.15" y="51.99" width="4.38" height="4.38" fill="#212121"/>
<rect x="324.33" y="51.99" width="4.38" height="4.38" fill="#141414"/>
<rect x="327.51" y="51.99" width="4.38" height="4.38" fill="#303030"/>
<rect x="330.68" y="51.99" width="4.38" height="4.38" fill="#323232"/>
<rect x="333.86" y="51.99" width="4.38" height="4.38" fill="#0b0b0b"/>
<rect x="337.04" y="51.99" width="4.38" height="4.38" fill="#242424"/>
<rect x="340.22" y="51.99" width="4.38" height="4.38" fill="#212121"/>
<rect x="343.40" y="51.99" width="4.38" height="4.38" fill="#151515"/>
<rect x="346.58" y="51.99" width="4.38" height="4.38" fill="#282828"/>
<rect x="349.75" y="51.99" width="4.38" height="4.38" fill="#1c1c1c"/>
<rect x="352.93" y="51.99" width="4.38" height="4.38" fill="#0d0d0d"/>
<rect x="356.11" y="51.99" width="4.38" height="4.38" fill="#1f1f1f"/>
<rect x="359.29" y="51.99" width="4.38" height="4.38" fill="#202020"/>
<rect x="362.47" y="51.99" width="4.38" height="4.38" fill="#232323"/>
<rect x="365.64" y="51.99" width="4.38" height="4.38" fill="#131313"/>
<rect x="368.82" y="51.99" width="3.18" height="4.38" fill="#292929"/>
<rect x="270.30" y="55.17" width="4.38" height="4.38" fill="#1a1a1a"/>
<rect x="273.48" y="55.17" width="4.38" height="4.38" fill="#212121"/>
<rect x="276.66" y="55.17" width="4.38" height="4.38" fill="#1b1b1b"/>
<rect x="279.83" y="55.17" width="4.38" height="4.38" fill="#373737"/>
<rect x="283.01" y="55.17" width="4.38" height="4.38" fill="#252525"/>
<rect x="286.19" y="55.17" width="4.38" height="4.38" fill="#161616"/>
<rect x="289.37" y="55.17" width="4.38" height="4.38" fill="#191919"/>
<rect x="292.55" y="55.17" width="4.38" height="4.38" fill="#222222"/>
<rect x="295.73" y="55.17" width="4.38" height="4.38" fill="#3e3e3e"/>
<rect x="298.90" y="55.17" width="4.38" height="4.38" fill="#212121"/>
<rect x="302.08" y="55.17" width="4.38" height="4.38" fill="#242424"/>
<rect x="305.26" y="55.17" width="4.38" height="4.38" fill="#292929"/>
<rect x="308.44" y="55.17" width="4.38" height="4.38" fill="#222222"/>
<rect x="311.62" y="55.17" width="4.38" height="4.38" fill="#3f3f3f"/>
<rect x="314.79" y="55.17" width="4.38" height="4.38" fill="#1d1d1d"/>
<rect x="317.97" y="55.17" width="4.38" height="4.38" fill="#2c2c2c"/>
<rect x="321.15" y="55.17" width="4.38" height="4.38" fill="#252525"/>
<rect x="324.33" y="55.17" width="4.38" height="4.38" fill="#2b2b2b"/>
<rect x="327.51" y="55.17" width="4.38" height="4.38" fill="#151515"/>
<rect x="330.68" y="55.17" width="4.38" height="4.38" fill="#383838"/>
<rect x="333.86" y="55.17" width="4.38" height="4.38" fill="#212121"/>
<rect x="337.04" y="55.17" width="4.38" height="4.38" fill="#232323"/>
<rect x="340.22" y="55.17" width="4.38" height="4.38" fill="#171717"/>
<rect x="343.40" y="55.17" width="4.38" height="4.38" fill="#191919"/>
<rect x="346.58" y="55.17" width="4.38" height="4.38" fill="#292929"/>
<rect x="349.75" y="55.17" width="4.38" height="4.38" fill="#2e2e2e"/>
<rect x="352.93" y="55.17" width="4.38" height="4.38" fill="#2b2b2b"/>
<rect x="356.11" y="55.17" width="4.38" height="4.38" fill="#313131"/>
<rect x="359.29" y="55.17" width="4.38" height="4.38" fill="#2b2b2b"/>
<rect x="362.47" y="55.17" width="4.38" height="4.38" fill="#222222"/>
<rect x="365.64" y="55.17" width="4.38" height="4.38" fill="#2c2c2c"/>
<rect x="368.82" y="55.17" width="3.18" height="4.38" fill="#292929"/>
<rect x="270.30" y="58.35" width="4.38" height="4.38" fill="#323232"/>
<rect x="273.48" y="58.35" width="4.38" height="4.38" fill="#252525"/>
<rect x="276.66" y="58.35" width="4.38" height="4.38" fill="#1e1e1e"/>
<rect x="279.83" y="58.35" width="4.38" height="4.38" fill="#2b2b2b"/>
<rect x="283.01" y="58.35" width="4.38" height="4.38" fill="#3a3a3a"/>
<rect x="286.19" y="58.35" width="4.38" height="4.38" fill="#212121"/>
<rect x="289.37" y="58.35" width="4.38" height="4.38" fill="#222222"/>
<rect x="292.55" y="58.35" width="4.38" height="4.38" fill="#222222"/>
<rect x="295.73" y="58.35" width="4.38" height="4.38" fill="#323232"/>
<rect x="298.90" y="58.35" width="4.38" height="4.38" fill="#0d0d0d"/>
<rect x="302.08" y="58.35" width="4.38" height="4.38" fill="#282828"/>
<rect x="305.26" y="58.35" width="4.38" height="4.38" fill="#323232"/>
<rect x="308.44" y="58.35" width="4.38" height="4.38" fill="#1a1a1a"/>
<rect x="311.62" y="58.35" width="4.38" height="4.38" fill="#373737"/>
<rect x="314.79" y="58.35" width="4.38" height="4.38" fill="#2c2c2c"/>
<rect x="317.97" y="58.35" width="4.38" height="4.38" fill="#1f1f1f"/>
<rect x="321.15" y="58.35" width="4.38" height="4.38" fill="#282828"/>
<rect x="324.33" y="58.35" width="4.38" height="4.38" fill="#121212"/>
<rect x="327.51" y="58.35" width="4.38" height="4.38" fill="#1d1d1d"/>
<rect x="330.68" y="58.35" width="4.38" height="4.38" fill="#3a3a3a"/>
<rect x="333.86" y="58.35" width="4.38" height="4.38" fill="#181818"/>
<rect x="337.04" y="58.35" width="4.38" height="4.38" fill="#393939"/>
<rect x="340.22" y="58.35" width="4.38" height="4.38" fill="#212121"/>
<rect x="343.40" y="58.35" width="4.38" height="4.38" fill="#2e2e2e"/>
<rect x="346.58" y="58.35" width="4.38" height="4.38" fill="#232323"/>
<rect x="349.75" y="58.35" width="4.38" height="4.38" fill="#070707"/>
<rect x="352.93" y="58.35" width="4.38" height="4.38" fill="#1b1b1b"/>
<rect x="356.11" y="58.35" width="4.38" height="4.38" fill="#242424"/>
<rect x="359.29" y="58.35" width="4.38" height="4.38" fill="#141414"/>
<rect x="362.47" y="58.35" width="4.38" height="4.38" fill="#121212"/>
<rect x="365.64" y="58.35" width="4.38" height="4.38" fill="#262626"/>
<rect x="368.82" y="58.35" width="3.18" height="4.38" fill="#1a1a1a"/>
<rect x="270.30" y="61.53" width="4.38" height="4.38" fill="#2d2d2d"/>
<rect x="273.48" y="61.53" width="4.38" height="4.38" fill="#1d1d1d"/>
<rect x="276.66" y="61.53" width="4.38" height="4.38" fill="#2e2e2e"/>
<rect x="279.83" y="61.53" width="4.38" height="4.38" fill="#363636"/>
<rect x="283.01" y="61.53" width="4.38" height="4.38" fill="#252525"/>
<rect x="286.19" y="61.53" width="4.38" height="4.38" fill="#171717"/>
<rect x="289.37" y="61.53" width="4.38" height="4.38" fill="#151515"/>
<rect x="292.55" y="61.53" width="4.38" height="4.38" fill="#252525"/>
<rect x="295.73" y="61.53" width="4.38" height="4.38" fill="#303030"/>
<rect x="298.90" y="61.53" width="4.38" height="4.38" fill="#282828"/>
<rect x="302.08" y="61.53" width="4.38" height="4.38" fill="#2c2c2c"/>
<rect x="305.26" y="61.53" width="4.38" height="4.38" fill="#212121"/>
<rect x="308.44" y="61.53" width="4.38" height="4.38" fill="#2a2a2a"/>
<rect x="311.62" y="61.53" width="4.38" height="4.38" fill="#222222"/>
<rect x="314.79" y="61.53" width="4.38" height="4.38" fill="#252525"/>
<rect x="317.97" y="61.53" width="4.38" height="4.38" fill="#1a1a1a"/>
<rect x="321.15" y="61.53" width="4.38" height="4.38" fill="#161616"/>
<rect x="324.33" y="61.53" width="4.38" height="4.38" fill="#232323"/>
<rect x="327.51" y="61.53" width="4.38" height="4.38" fill="#1a1a1a"/>
<rect x="330.68" y="61.53" width="4.38" height="4.38" fill="#1a1a1a"/>
<rect x="333.86" y="61.53" width="4.38" height="4.38" fill="#2c2c2c"/>
<rect x="337.04" y="61.53" width="4.38" height="4.38" fill="#222222"/>
<rect x="340.22" y="61.53" width="4.38" height="4.38" fill="#464646"/>
<rect x="343.40" y="61.53" width="4.38" height="4.38" fill="#2d2d2d"/>
<rect x="346.58" y="61.53" width="4.38" height="4.38" fill="#1a1a1a"/>
<rect x="349.75" y="61.53" width="4.38" height="4.38" fill="#2b2b2b"/>
<rect x="352.93" y="61.53" width="4.38" height="4.38" fill="#262626"/>
<rect x="356.11" y="61.53" width="4.38" height="4.38" fill="#1a1a1a"/>
<rect x="359.29" y="61.53" width="4.38" height="4.38" fill="#2f2f2f"/>
<rect x="362.47" y="61.53" width="4.38" height="4.38" fill="#191919"/>
<rect x="365.64" y="61.53" width="4.38" height="4.38" fill="#000000"/>
<rect x="368.82" y="61.53" width="3.18" height="4.38" fill="#2c2c2c"/>
<rect x="270.30" y="64.70" width="4.38" height="4.38" fill="#1b1b1b"/>
<rect x="273.48" y="64.70" width="4.38" height="4.38" fill="#151515"/>
<rect x="276.66" y="64.70" width="4.38" height="4.38" fill="#373737"/>
<rect x="279.83" y="64.70" width="4.38" height="4.38" fill="#181818"/>
<rect x="283.01" y="64.70" width="4.38" height="4.38" fill="#292929"/>
<rect x="286.19" y="64.70" width="4.38" height="4.38" fill="#393939"/>
<rect x="289.37" y="64.70" width="4.38" height="4.38" fill="#292929"/>
<rect x="292.55" y="64.70" width="4.38" height="4.38" fill="#272727"/>
<rect x="295.73" y="64.70" width="4.38" height="4.38" fill="#292929"/>
<rect x="298.90" y="64.70" width="4.38" height="4.38" fill="#323232"/>
<rect x="302.08" y="64.70" width="4.38" height="4.38" fill="#1f1f1f"/>
<rect x="305.26" y="64.70" width="4.38" height="4.38" fill="#313131"/>
<rect x="308.44" y="64.70" width="4.38" height="4.38" fill="#323232"/>
<rect x="311.62" y="64.70" width="4.38" height="4.38" fill="#4a4a4a"/>
<rect x="314.79" y="64.70" width="4.38" height="4.38" fill="#2c2c2c"/>
<rect x="317.97" y="64.70" width="4.38" height="4.38" fill="#262626"/>
<rect x="321.15" y="64.70" width="4.38" height="4.38" fill="#3a3a3a"/>
<rect x="324.33" y="64.70" width="4.38" height="4.38" fill="#2a2a2a"/>
<rect x="327.51" y="64.70" width="4.38" height="4.38" fill="#2f2f2f"/>
<rect x="330.68" y="64.70" width="4.38" height="4.38" fill="#2a2a2a"/>
<rect x="333.86" y="64.70" width="4.38" height="4.38" fill="#343434"/>
<rect x="337.04" y="64.70" width="4.38" height="4.38" fill="#1c1c1c"/>
<rect x="340.22" y="64.70" width="4.38" height="4.38" fill="#222222"/>
<rect x="343.40" y="64.70" width="4.38" height="4.38" fill="#040404"/>
<rect x="346.58" y="64.70" width="4.38" height="4.38" fill="#171717"/>
<rect x="349.75" y="64.70" width="4.38" height="4.38" fill="#353535"/>
<rect x="352.93" y="64.70" width="4.38" height="4.38" fill="#1a1a1a"/>
<rect x="356.11" y="64.70" width="4.38" height="4.38" fill="#1a1a1a"/>
<rect x="359.29" y="64.70" width="4.38" height="4.38" fill="#131313"/>
<rect x="362.47" y="64.70" width="4.38" height="4.38" fill="#292929"/>
<rect x="365.64" y="64.70" width="4.38" height="4.38" fill="#242424"/>
<rect x="368.82" y="64.70" width="3.18" height="4.38" fill="#141414"/>
<rect x="270.30" y="67.88" width="4.38" height="4.38" fill="#2d2d2d"/>
<rect x="273.48" y="67.88" width="4.38" height="4.38" fill="#1d1d1d"/>
<rect x="276.66" y="67.88" width="4.38" height="4.38" fill="#3b3b3b"/>
<rect x="279.83" y="67.88" width="4.38" height="4.38" fill="#2d2d2d"/>
<rect x="283.01" y="67.88" width="4.38" height="4.38" fill="#282828"/>
<rect x="286.19" y="67.88" width="4.38" height="4.38" fill="#262626"/>
<rect x="289.37" y="67.88" width="4.38" height="4.38" fill="#2b2b2b"/>
<rect x="292.55" y="67.88" width="4.38" height="4.38" fill="#393939"/>
<rect x="295.73" y="67.88" width="4.38" height="4.38" fill="#2b2b2b"/>
<rect x="298.90" y="67.88" width="4.38" height="4.38" fill="#3b3b3b"/>
<rect x="302.08" y="67.88" width="4.38" height="4.38" fill="#353535"/>
<rect x="305.26" y="67.88" width="4.38" height="4.38" fill="#404040"/>
<rect x="308.44" y="67.88" width="4.38" height="4.38" fill="#3c3c3c"/>
<rect x="311.62" y="67.88" width="4.38" height="4.38" fill="#373737"/>
<rect x="314.79" y="67.88" width="4.38" height="4.38" fill="#252525"/>
<rect x="317.97" y="67.88" width="4.38" height="4.38" fill="#434343"/>
<rect x="321.15" y="67.88" width="4.38" height="4.38" fill="#484848"/>
<rect x="324.33" y="67.88" width="4.38" height="4.38" fill="#3c3c3c"/>
<rect x="327.51" y="67.88" width="4.38" height="4.38" fill="#3b3b3b"/>
<rect x="330.68" y="67.88" width="4.38" height="4.38" fill="#282828"/>
<rect x="333.86" y="67.88" width="4.38" height="4.38" fill="#252525"/>
<rect x="337.04" y="67.88" width="4.38" height="4.38" fill="#1b1b1b"/>
<rect x="340.22" y="67.88" width="4.38" height="4.38" fill="#343434"/>
<rect x="343.40" y="67.88" width="4.38" height="4.38" fill="#252525"/>
<rect x="346.58" y="67.88" width="4.38" height="4.38" fill="#1c1c1c"/>
<rect x="349.75" y="67.88" width="4.38" height="4.38" fill="#121212"/>
<rect x="352.93" y="67.88" width="4.38" height="4.38" fill="#202020"/>
<rect x="356.11" y="67.88" width="4.38" height="4.38" fill="#333333"/>
<rect x="359.29" y="67.88" width="4.38" height="4.38" fill="#282828"/>
<rect x="362.47" y="67.88" width="4.38" height="4.38" fill="#191919"/>
<rect x="365.64" y="67.88" width="4.38" height="4.38" fill="#333333"/>
<rect x="368.82" y="67.88" width="3.18" height="4.38" fill="#333333"/>
<rect x="270.30" y="71.06" width="4.38" height="4.38" fill="#323232"/>
<rect x="273.48" y="71.06" width="4.38" height="4.38" fill="#2c2c2c"/>
<rect x="276.66" y="71.06" width="4.38" height="4.38" fill="#323232"/>
<rect x="279.83" y="71.06" width="4.38" height="4.38" fill="#222222"/>
<rect x="283.01" y="71.06" width="4.38" height="4.38" fill="#424242"/>
<rect x="286.19" y="71.06" width="4.38" height="4.38" fill="#383838"/>
<rect x="289.37" y="71.06" width="4.38" height="4.38" fill="#515151"/>
<rect x="292.55" y="71.06" width="4.38" height="4.38" fill="#222222"/>
<rect x="295.73" y="71.06" width="4.38" height="4.38" fill="#424242"/>
<rect x="298.90" y="71.06" width="4.38" height="4.38" fill="#434343"/>
<rect x="302.08" y="71.06" width="4.38" height="4.38" fill="#323232"/>
<rect x="305.26" y="71.06" width="4.38" height="4.38" fill="#3d3d3d"/>
<rect x="308.44" y="71.06" width="4.38" height="4.38" fill="#464646"/>
<rect x="311.62" y="71.06" width="4.38" height="4.38" fill="#4e4e4e"/>
<rect x="314.79" y="71.06" width="4.38" height="4.38" fill="#4e4e4e"/>
<rect x="317.97" y="71.06" width="4.38" height="4.38" fill="#5d5d5d"/>
<rect x="321.15" y="71.06" width="4.38" height="4.38" fill="#696969"/>
<rect x="324.33" y="71.06" width="4.38" height="4.38" fill="#606060"/>
<rect x="327.51" y="71.06" width="4.38" height="4.38" fill="#434343"/>
<rect x="330.68" y="71.06" width="4.38" height="4.38" fill="#373737"/>
<rect x="333.86" y="71.06" width="4.38" height="4.38" fill="#303030"/>
<rect x="337.04" y="71.06" width="4.38" height="4.38" fill="#353535"/>
<rect x="340.22" y="71.06" width="4.38" height="4.38" fill="#181818"/>
<rect x="343.40" y="71.06" width="4.38" height="4.38" fill="#131313"/>
<rect x="346.58" y="71.06" width="4.38" height="4.38" fill="#242424"/>
<rect x="349.75" y="71.06" width="4.38" height="4.38" fill="#151515"/>
<rect x="352.93" y="71.06" width="4.38" height="4.38" fill="#1b1b1b"/>
<rect x="356.11" y="71.06" width="4.38" height="4.38" fill="#232323"/>
<rect x="359.29" y="71.06" width="4.38" height="4.38" fill="#282828"/>
<rect x="362.47" y="71.06" width="4.38" height="4.38" fill="#151515"/>
<rect x="365.64" y="71.06" width="4.38" height="4.38" fill="#2c2c2c"/>
<rect x="368.82" y="71.06" width="3.18" height="4.38" fill="#0d0d0d"/>
<rect x="270.30" y="74.24" width="4.38" height="4.38" fill="#161616"/>
<rect x="273.48" y="74.24" width="4.38" height="4.38" fill="#2f2f2f"/>
<rect x="276.66" y="74.24" width="4.38" height="4.38" fill="#272727"/>
<rect x="279.83" y="74.24" width="4.38" height="4.38" fill="#282828"/>
<rect x="283.01" y="74.24" width="4.38" height="4.38" fill="#353535"/>
<rect x="286.19" y="74.24" width="4.38" height="4.38" fill="#4b4b4b"/>
<rect x="289.37" y="74.24" width="4.38" height="4.38" fill="#4e4e4e"/>
<rect x="292.55" y="74.24" width="4.38" height="4.38" fill="#525252"/>
<rect x="295.73" y="74.24" width="4.38" height="4.38" fill="#5c5c5c"/>
<rect x="298.90" y="74.24" width="4.38" height="4.38" fill="#404040"/>
<rect x="302.08" y="74.24" width="4.38" height="4.38" fill="#3d3d3d"/>
<rect x="305.26" y="74.24" width="4.38" height="4.38" fill="#3d3d3d"/>
<rect x="308.44" y="74.24" width="4.38" height="4.38" fill="#5a5a5a"/>
<rect x="311.62" y="74.24" width="4.38" height="4.38" fill="#6d6d6d"/>
<rect x="314.79" y="74.24" width="4.38" height="4.38" fill="#929292"/>
<rect x="317.97" y="74.24" width="4.38" height="4.38" fill="#9d9d9d"/>
<rect x="321.15" y="74.24" width="4.38" height="4.38" fill="#989898"/>
<rect x="324.33" y="74.24" width="4.38" height="4.38" fill="#848484"/>
<rect x="327.51" y="74.24" width="4.38" height="4.38" fill="#535353"/>
<rect x="330.68" y="74.24" width="4.38" height="4.38" fill="#4a4a4a"/>
<rect x="333.86" y="74.24" width="4.38" height="4.38" fill="#3b3b3b"/>
<rect x="337.04" y="74.24" width="4.38" height="4.38" fill="#222222"/>
<rect x="340.22" y="74.24" width="4.38" height="4.38" fill="#252525"/>
<rect x="343.40" y="74.24" width="4.38" height="4.38" fill="#222222"/>
<rect x="346.58" y="74.24" width="4.38" height="4.38" fill="#383838"/>
<rect x="349.75" y="74.24" width="4.38" height="4.38" fill="#414141"/>
<rect x="352.93" y="74.24" width="4.38" height="4.38" fill="#212121"/>
<rect x="356.11" y="74.24" width="4.38" height="4.38" fill="#222222"/>
<rect x="359.29" y="74.24" width="4.38" height="4.38" fill="#060606"/>
<rect x="362.47" y="74.24" width="4.38" height="4.38" fill="#252525"/>
<rect x="365.64" y="74.24" width="4.38" height="4.38" fill="#222222"/>
<rect x="368.82" y="74.24" width="3.18" height="4.38" fill="#151515"/>
<rect x="270.30" y="77.42" width="4.38" height="4.38" fill="#242424"/>
<rect x="273.48" y="77.42" width="4.38" height="4.38" fill="#2b2b2b"/>
<rect x="276.66" y="77.42" width="4.38" height="4.38" fill="#212121"/>
<rect x="279.83" y="77.42" width="4.38" height="4.38" fill="#444444"/>
<rect x="283.01" y="77.42" width="4.38" height="4.38" fill="#575757"/>
<rect x="286.19" y="77.42" width="4.38" height="4.38" fill="#4d4d4d"/>
<rect x="289.37" y="77.42" width="4.38" height="4.38" fill="#5e5e5e"/>
<rect x="292.55" y="77.42" width="4.38" height="4.38" fill="#7d7d7d"/>
<rect x="295.73" y="77.42" width="4.38" height="4.38" fill="#6f6f6f"/>
<rect x="298.90" y="77.42" width="4.38" height="4.38" fill="#525252"/>
<rect x="302.08" y="77.42" width="4.38" height="4.38" fill="#505050"/>
<rect x="305.26" y="77.42" width="4.38" height="4.38" fill="#4e4e4e"/>
<rect x="308.44" y="77.42" width="4.38" height="4.38" fill="#5a5a5a"/>
<rect x="311.62" y="77.42" width="4.38" height="4.38" fill="#8c8c8c"/>
<rect x="314.79" y="77.42" width="4.38" height="4.38" fill="#c8c8c8"/>
<rect x="317.97" y="77.42" width="4.38" height="4.38" fill="#ffffff"/>
<rect x="321.15" y="77.42" width="4.38" height="4.38" fill="#ffffff"/>
<rect x="324.33" y="77.42" width="4.38" height="4.38" fill="#bdbdbd"/>
<rect x="327.51" y="77.42" width="4.38" height="4.38" fill="#808080"/>
<rect x="330.68" y="77.42" width="4.38" height="4.38" fill="#5b5b5b"/>
<rect x="333.86" y="77.42" width="4.38" height="4.38" fill="#404040"/>
<rect x="337.04" y="77.42" width="4.38" height="4.38" fill="#1e1e1e"/>
<rect x="340.22" y="77.42" width="4.38" height="4.38" fill="#323232"/>
<rect x="343.40" y="77.42" width="4.38" height="4.38" fill="#252525"/>
<rect x="346.58" y="77.42" width="4.38" height="4.38" fill="#363636"/>
<rect x="349.75" y="77.42" width="4.38" height="4.38" fill="#232323"/>
<rect x="352.93" y="77.42" width="4.38" height="4.38" fill="#282828"/>
<rect x="356.11" y="77.42" width="4.38" height="4.38" fill="#262626"/>
<rect x="359.29" y="77.42" width="4.38" height="4.38" fill="#363636"/>
<rect x="362.47" y="77.42" width="4.38" height="4.38" fill="#242424"/>
<rect x="365.64" y="77.42" width="4.38" height="4.38" fill="#1f1f1f"/>
<rect x="368.82" y="77.42" width="3.18" height="4.38" fill="#262626"/>
<rect x="270.30" y="80.59" width="4.38" height="4.38" fill="#272727"/>
<rect x="273.48" y="80.59" width="4.38" height="4.38" fill="#2e2e2e"/>
<rect x="276.66" y="80.59" width="4.38" height="4.38" fill="#4a4a4a"/>
<rect x="279.83" y="80.59" width="4.38" height="4.38" fill="#3c3c3c"/>
<rect x="283.01" y="80.59" width="4.38" height="4.38" fill="#595959"/>
<rect x="286.19" y="80.59" width="4.38" height="4.38" fill="#737373"/>
<rect x="289.37" y="80.59" width="4.38" height="4.38" fill="#979797"/>
<rect x="292.55" y="80.59" width="4.38" height="4.38" fill="#8a8a8a"/>
<rect x="295.73" y="80.59" width="4.38" height="4.38" fill="#868686"/>
<rect x="298.90" y="80.59" width="4.38" height="4.38" fill="#777777"/>
<rect x="302.08" y="80.59" width="4.38" height="4.38" fill="#686868"/>
<rect x="305.26" y="80.59" width="4.38" height="4.38" fill="#585858"/>
<rect x="308.44" y="80.59" width="4.38" height="4.38" fill="#606060"/>
<rect x="311.62" y="80.59" width="4.38" height="4.38" fill="#8e8e8e"/>
<rect x="314.79" y="80.59" width="4.38" height="4.38" fill="#f6f6f6"/>
<rect x="317.97" y="80.59" width="4.38" height="4.38" fill="#ffffff"/>
<rect x="321.15" y="80.59" width="4.38" height="4.38" fill="#ffffff"/>
<rect x="324.33" y="80.59" width="4.38" height="4.38" fill="#dfdfdf"/>
<rect x="327.51" y="80.59" width="4.38" height="4.38" fill="#8a8a8a"/>
<rect x="330.68" y="80.59" width="4.38" height="4.38" fill="#464646"/>
<rect x="333.86" y="80.59" width="4.38" height="4.38" fill="#363636"/>
<rect x="337.04" y="80.59" width="4.38" height="4.38" fill="#2b2b2b"/>
<rect x="340.22" y="80.59" width="4.38" height="4.38" fill="#2b2b2b"/>
<rect x="343.40" y="80.59" width="4.38" height="4.38" fill="#242424"/>
<rect x="346.58" y="80.59" width="4.38" height="4.38" fill="#141414"/>
<rect x="349.75" y="80.59" width="4.38" height="4.38" fill="#303030"/>
<rect x="352.93" y="80.59" width="4.38" height="4.38" fill="#373737"/>
<rect x="356.11" y="80.59" width="4.38" height="4.38" fill="#1f1f1f"/>
<rect x="359.29" y="80.59" width="4.38" height="4.38" fill="#272727"/>
<rect x="362.47" y="80.59" width="4.38" height="4.38" fill="#252525"/>
<rect x="365.64" y="80.59" width="4.38" height="4.38" fill="#2b2b2b"/>
<rect x="368.82" y="80.59" width="3.18" height="4.38" fill="#101010"/>
<rect x="270.30" y="83.77" width="4.38" height="4.38" fill="#363636"/>
<rect x="273.48" y="83.77" width="4.38" height="4.38" fill="#2d2d2d"/>
<rect x="276.66" y="83.77" width="4.38" height="4.38" fill="#2f2f2f"/>
<rect x="279.83" y="83.77" width="4.38" height="4.38" fill="#424242"/>
<rect x="283.01" y="83.77" width="4.38" height="4.38" fill="#686868"/>
<rect x="286.19" y="83.77" width="4.38" height="4.38" fill="#737373"/>
<rect x="289.37" y="83.77" width="4.38" height="4.38" fill="#959595"/>
<rect x="292.55" y="83.77" width="4.38" height="4.38" fill="#9f9f9f"/>
<rect x="295.73" y="83.77" width="4.38" height="4.38" fill="#848484"/>
<rect x="298.90" y="83.77" width="4.38" height="4.38" fill="#8f8f8f"/>
<rect x="302.08" y="83.77" width="4.38" height="4.38" fill="#6d6d6d"/>
<rect x="305.26" y="83.77" width="4.38" height="4.38" fill="#5a5a5a"/>
<rect x="308.44" y="83.77" width="4.38" height="4.38" fill="#737373"/>
<rect x="311.62" y="83.77" width="4.38" height="4.38" fill="#868686"/>
<rect x="314.79" y="83.77" width="4.38" height="4.38" fill="#e0e0e0"/>
<rect x="317.97" y="83.77" width="4.38" height="4.38" fill="#ffffff"/>
<rect x="321.15" y="83.77" width="4.38" height="4.38" fill="#ffffff"/>
<rect x="324.33" y="83.77" width="4.38" height="4.38" fill="#b4b4b4"/>
<rect x="327.51" y="83.77" width="4.38" height="4.38" fill="#565656"/>
<rect x="330.68" y="83.77" width="4.38" height="4.38" fill="#434343"/>
<rect x="333.86" y="83.77" width="4.38" height="4.38" fill="#464646"/>
<rect x="337.04" y="83.77" width="4.38" height="4.38" fill="#282828"/>
<rect x="340.22" y="83.77" width="4.38" height="4.38" fill="#252525"/>
<rect x="343.40" y="83.77" width="4.38" height="4.38" fill="#2c2c2c"/>
<rect x="346.58" y="83.77" width="4.38" height="4.38" fill="#181818"/>
<rect x="349.75" y="83.77" width="4.38" height="4.38" fill="#252525"/>
<rect x="352.93" y="83.77" width="4.38" height="4.38" fill="#2c2c2c"/>
<rect x="356.11" y="83.77" width="4.38" height="4.38" fill="#282828"/>
<rect x="359.29" y="83.77" width="4.38" height="4.38" fill="#272727"/>
<rect x="362.47" y="83.77" width="4.38" height="4.38" fill="#1b1b1b"/>
<rect x="365.64" y="83.77" width="4.38" height="4.38" fill="#282828"/>
<rect x="368.82" y="83.77" width="3.18" height="4.38" fill="#1d1d1d"/>
<rect x="270.30" y="86.95" width="4.38" height="4.38" fill="#1e1e1e"/>
<rect x="273.48" y="86.95" width="4.38" height="4.38" fill="#111111"/>
<rect x="276.66" y="86.95" width="4.38" height="4.38" fill="#2d2d2d"/>
<rect x="279.83" y="86.95" width="4.38" height="4.38" fill="#454545"/>
<rect x="283.01" y="86.95" width="4.38" height="4.38" fill="#626262"/>
<rect x="286.19" y="86.95" width="4.38" height="4.38" fill="#7e7e7e"/>
<rect x="289.37" y="86.95" width="4.38" height="4.38" fill="#7f7f7f"/>
<rect x="292.55" y="86.95" width="4.38" height="4.38" fill="#888888"/>
<rect x="295.73" y="86.95" width="4.38" height="4.38" fill="#979797"/>
<rect x="298.90" y="86.95" width="4.38" height="4.38" fill="#656565"/>
<rect x="302.08" y="86.95" width="4.38" height="4.38" fill="#6a6a6a"/>
<rect x="305.26" y="86.95" width="4.38" height="4.38" fill="#505050"/>
<rect x="308.44" y="86.95" width="4.38" height="4.38" fill="#616161"/>
<rect x="311.62" y="86.95" width="4.38" height="4.38" fill="#7d7d7d"/>
<rect x="314.79" y="86.95" width="4.38" height="4.38" fill="#adadad"/>
<rect x="317.97" y="86.95" width="4.38" height="4.38" fill="#d5d5d5"/>
<rect x="321.15" y="86.95" width="4.38" height="4.38" fill="#bababa"/>
<rect x="324.33" y="86.95" width="4.38" height="4.38" fill="#9b9b9b"/>
<rect x="327.51" y="86.95" width="4.38" height="4.38" fill="#666666"/>
<rect x="330.68" y="86.95" width="4.38" height="4.38" fill="#494949"/>
<rect x="333.86" y="86.95" width="4.38" height="4.38" fill="#444444"/>
<rect x="337.04" y="86.95" width="4.38" height="4.38" fill="#292929"/>
<rect x="340.22" y="86.95" width="4.38" height="4.38" fill="#1e1e1e"/>
<rect x="343.40" y="86.95" width="4.38" height="4.38" fill="#1b1b1b"/>
<rect x="346.58" y="86.95" width="4.38" height="4.38" fill="#1f1f1f"/>
<rect x="349.75" y="86.95" width="4.38" height="4.38" fill="#2b2b2b"/>
<rect x="352.93" y="86.95" width="4.38" height="4.38" fill="#181818"/>
<rect x="356.11" y="86.95" width="4.38" height="4.38" fill="#303030"/>
<rect x="359.29" y="86.95" width="4.38" height="4.38" fill="#262626"/>
<rect x="362.47" y="86.95" width="4.38" height="4.38" fill="#1f1f1f"/>
<rect x="365.64" y="86.95" width="4.38" height="4.38" fill="#121212"/>
<rect x="368.82" y="86.95" width="3.18" height="4.38" fill="#252525"/>
<rect x="270.30" y="90.13" width="4.38" height="4.38" fill="#343434"/>
<rect x="273.48" y="90.13" width="4.38" height="4.38" fill="#3d3d3d"/>
<rect x="276.66" y="90.13" width="4.38" height="4.38" fill="#333333"/>
<rect x="279.83" y="90.13" width="4.38" height="4.38" fill="#3e3e3e"/>
<rect x="283.01" y="90.13" width="4.38" height="4.38" fill="#636363"/>
<rect x="286.19" y="90.13" width="4.38" height="4.38" fill="#676767"/>
<rect x="289.37" y="90.13" width="4.38" height="4.38" fill="#5c5c5c"/>
<rect x="292.55" y="90.13" width="4.38" height="4.38" fill="#6d6d6d"/>
<rect x="295.73" y="90.13" width="4.38" height="4.38" fill="#656565"/>
<rect x="298.90" y="90.13" width="4.38" height="4.38" fill="#585858"/>
<rect x="302.08" y="90.13" width="4.38" height="4.38" fill="#303030"/>
<rect x="305.26" y="90.13" width="4.38" height="4.38" fill="#4f4f4f"/>
<rect x="308.44" y="90.13" width="4.38" height="4.38" fill="#414141"/>
<rect x="311.62" y="90.13" width="4.38" height="4.38" fill="#575757"/>
<rect x="314.79" y="90.13" width="4.38" height="4.38" fill="#686868"/>
<rect x="317.97" y="90.13" width="4.38" height="4.38" fill="#858585"/>
<rect x="321.15" y="90.13" width="4.38" height="4.38" fill="#747474"/>
<rect x="324.33" y="90.13" width="4.38" height="4.38" fill="#595959"/>
<rect x="327.51" y="90.13" width="4.38" height="4.38" fill="#525252"/>
<rect x="330.68" y="90.13" width="4.38" height="4.38" fill="#4c4c4c"/>
<rect x="333.86" y="90.13" width="4.38" height="4.38" fill="#2c2c2c"/>
<rect x="337.04" y="90.13" width="4.38" height="4.38" fill="#3a3a3a"/>
<rect x="340.22" y="90.13" width="4.38" height="4.38" fill="#292929"/>
<rect x="343.40" y="90.13" width="4.38" height="4.38" fill="#1d1d1d"/>
<rect x="346.58" y="90.13" width="4.38" height="4.38" fill="#353535"/>
<rect x="349.75" y="90.13" width="4.38" height="4.38" fill="#181818"/>
<rect x="352.93" y="90.13" width="4.38" height="4.38" fill="#2e2e2e"/>
<rect x="356.11" y="90.13" width="4.38" height="4.38" fill="#1c1c1c"/>
<rect x="359.29" y="90.13" width="4.38" height="4.38" fill="#272727"/>
<rect x="362.47" y="90.13" width="4.38" height="4.38" fill="#131313"/>
<rect x="365.64" y="90.13" width="4.38" height="4.38" fill="#181818"/>
<rect x="368.82" y="90.13" width="3.18" height="4.38" fill="#2f2f2f"/>
<rect x="270.30" y="93.31" width="4.38" height="4.38" fill="#202020"/>
<rect x="273.48" y="93.31" width="4.38" height="4.38" fill="#2d2d2d"/>
<rect x="276.66" y="93.31" width="4.38" height="4.38" fill="#1a1a1a"/>
<rect x="279.83" y="93.31" width="4.38" height="4.38" fill="#232323"/>
<rect x="283.01" y="93.31" width="4.38" height="4.38" fill="#363636"/>
<rect x="286.19" y="93.31" width="4.38" height="4.38" fill="#373737"/>
<rect x="289.37" y="93.31" width="4.38" height="4.38" fill="#404040"/>
<rect x="292.55" y="93.31" width="4.38" height="4.38" fill="#4b4b4b"/>
<rect x="295.73" y="93.31" width="4.38" height="4.38" fill="#474747"/>
<rect x="298.90" y="93.31" width="4.38" height="4.38" fill="#404040"/>
<rect x="302.08" y="93.31" width="4.38" height="4.38" fill="#505050"/>
<rect x="305.26" y="93.31" width="4.38" height="4.38" fill="#464646"/>
<rect x="308.44" y="93.31" width="4.38" height="4.38" fill="#4a4a4a"/>
<rect x="311.62" y="93.31" width="4.38" height="4.38" fill="#404040"/>
<rect x="314.79" y="93.31" width="4.38" height="4.38" fill="#424242"/>
<rect x="317.97" y="93.31" width="4.38" height="4.38" fill="#3b3b3b"/>
<rect x="321.15" y="93.31" width="4.38" height="4.38" fill="#474747"/>
<rect x="324.33" y="93.31" width="4.38" height="4.38" fill="#2b2b2b"/>
<rect x="327.51" y="93.31" width="4.38" height="4.38" fill="#333333"/>
<rect x="330.68" y="93.31" width="4.38" height="4.38" fill="#3b3b3b"/>
<rect x="333.86" y="93.31" width="4.38" height="4.38" fill="#3f3f3f"/>
<rect x="337.04" y="93.31" width="4.38" height="4.38" fill="#333333"/>
<rect x="340.22" y="93.31" width="4.38" height="4.38" fill="#1a1a1a"/>
<rect x="343.40" y="93.31" width="4.38" height="4.38" fill="#292929"/>
<rect x="346.58" y="93.31" width="4.38" height="4.38" fill="#191919"/>
<rect x="349.75" y="93.31" width="4.38" height="4.38" fill="#2c2c2c"/>
<rect x="352.93" y="93.31" width="4.38" height="4.38" fill="#212121"/>
<rect x="356.11" y="93.31" width="4.38" height="4.38" fill="#2c2c2c"/>
<rect x="359.29" y="93.31" width="4.38" height="4.38" fill="#414141"/>
<rect x="362.47" y="93.31" width="4.38" height="4.38" fill="#2d2d2d"/>
<rect x="365.64" y="93.31" width="4.38" height="4.38" fill="#3e3e3e"/>
<rect x="368.82" y="93.31" width="3.18" height="4.38" fill="#242424"/>
<rect x="270.30" y="96.48" width="4.38" height="4.38" fill="#393939"/>
<rect x="273.48" y="96.48" width="4.38" height="4.38" fill="#1f1f1f"/>
<rect x="276.66" y="96.48" width="4.38" height="4.38" fill="#292929"/>
<rect x="279.83" y="96.48" width="4.38" height="4.38" fill="#191919"/>
<rect x="283.01" y="96.48" width="4.38" height="4.38" fill="#2c2c2c"/>
<rect x="286.19" y="96.48" width="4.38" height="4.38" fill="#3d3d3d"/>
<rect x="289.37" y="96.48" width="4.38" height="4.38" fill="#343434"/>
<rect x="292.55" y="96.48" width="4.38" height="4.38" fill="#303030"/>
<rect x="295.73" y="96.48" width="4.38" height="4.38" fill="#252525"/>
<rect x="298.90" y="96.48" width="4.38" height="4.38" fill="#383838"/>
<rect x="302.08" y="96.48" width="4.38" height="4.38" fill="#3b3b3b"/>
<rect x="305.26" y="96.48" width="4.38" height="4.38" fill="#373737"/>
<rect x="308.44" y="96.48" width="4.38" height="4.38" fill="#343434"/>
<rect x="311.62" y="96.48" width="4.38" height="4.38" fill="#242424"/>
<rect x="314.79" y="96.48" width="4.38" height="4.38" fill="#4c4c4c"/>
<rect x="317.97" y="96.48" width="4.38" height="4.38" fill="#373737"/>
<rect x="321.15" y="96.48" width="4.38" height="4.38" fill="#353535"/>
<rect x="324.33" y="96.48" width="4.38" height="4.38" fill="#3d3d3d"/>
<rect x="327.51" y="96.48" width="4.38" height="4.38" fill="#161616"/>
<rect x="330.68" y="96.48" width="4.38" height="4.38" fill="#2b2b2b"/>
<rect x="333.86" y="96.48" width="4.38" height="4.38" fill="#262626"/>
<rect x="337.04" y="96.48" width="4.38" height="4.38" fill="#2a2a2a"/>
<rect x="340.22" y="96.48" width="4.38" height="4.38" fill="#343434"/>
<rect x="343.40" y="96.48" width="4.38" height="4.38" fill="#282828"/>
<rect x="346.58" y="96.48" width="4.38" height="4.38" fill="#0c0c0c"/>
<rect x="349.75" y="96.48" width="4.38" height="4.38" fill="#1e1e1e"/>
<rect x="352.93" y="96.48" width="4.38" height="4.38" fill="#252525"/>
<rect x="356.11" y="96.48" width="4.38" height="4.38" fill="#242424"/>
<rect x="359.29" y="96.48" width="4.38" height="4.38" fill="#131313"/>
<rect x="362.47" y="96.48" width="4.38" height="4.38" fill="#0e0e0e"/>
<rect x="365.64" y="96.48" width="4.38" height="4.38" fill="#292929"/>
<rect x="368.82" y="96.48" width="3.18" height="4.38" fill="#262626"/>
<rect x="270.30" y="99.66" width="4.38" height="4.38" fill="#393939"/>
<rect x="273.48" y="99.66" width="4.38" height="4.38" fill="#010101"/>
<rect x="276.66" y="99.66" width="4.38" height="4.38" fill="#212121"/>
<rect x="279.83" y="99.66" width="4.38" height="4.38" fill="#404040"/>
<rect x="283.01" y="99.66" width="4.38" height="4.38" fill="#272727"/>
<rect x="286.19" y="99.66" width="4.38" height="4.38" fill="#2d2d2d"/>
<rect x="289.37" y="99.66" width="4.38" height="4.38" fill="#1e1e1e"/>
<rect x="292.55" y="99.66" width="4.38" height="4.38" fill="#3d3d3d"/>
<rect x="295.73" y="99.66" width="4.38" height="4.38" fill="#1c1c1c"/>
<rect x="298.90" y="99.66" width="4.38" height="4.38" fill="#2e2e2e"/>
<rect x="302.08" y="99.66" width="4.38" height="4.38" fill="#2c2c2c"/>
<rect x="305.26" y="99.66" width="4.38" height="4.38" fill="#1d1d1d"/>
<rect x="308.44" y="99.66" width="4.38" height="4.38" fill="#353535"/>
<rect x="311.62" y="99.66" width="4.38" height="4.38" fill="#1a1a1a"/>
<rect x="314.79" y="99.66" width="4.38" height="4.38" fill="#242424"/>
<rect x="317.97" y="99.66" width="4.38" height="4.38" fill="#2d2d2d"/>
<rect x="321.15" y="99.66" width="4.38" height="4.38" fill="#282828"/>
<rect x="324.33" y="99.66" width="4.38" height="4.38" fill="#313131"/>
<rect x="327.51" y="99.66" width="4.38" height="4.38" fill="#343434"/>
<rect x="330.68" y="99.66" width="4.38" height="4.38" fill="#232323"/>
<rect x="333.86" y="99.66" width="4.38" height="4.38" fill="#1f1f1f"/>
<rect x="337.04" y="99.66" width="4.38" height="4.38" fill="#1d1d1d"/>
<rect x="340.22" y="99.66" width="4.38" height="4.38" fill="#1e1e1e"/>
<rect x="343.40" y="99.66" width="4.38" height="4.38" fill="#2c2c2c"/>
<rect x="346.58" y="99.66" width="4.38" height="4.38" fill="#202020"/>
<rect x="349.75" y="99.66" width="4.38" height="4.38" fill="#272727"/>
<rect x="352.93" y="99.66" width="4.38" height="4.38" fill="#212121"/>
<rect x="356.11" y="99.66" width="4.38" height="4.38" fill="#181818"/>
<rect x="359.29" y="99.66" width="4.38" height="4.38" fill="#2c2c2c"/>
<rect x="362.47" y="99.66" width="4.38" height="4.38" fill="#151515"/>
<rect x="365.64" y="99.66" width="4.38" height="4.38" fill="#222222"/>
<rect x="368.82" y="99.66" width="3.18" height="4.38" fill="#343434"/>
<rect x="270.30" y="102.84" width="4.38" height="4.38" fill="#101010"/>
<rect x="273.48" y="102.84" width="4.38" height="4.38" fill="#1d1d1d"/>
<rect x="276.66" y="102.84" width="4.38" height="4.38" fill="#121212"/>
<rect x="279.83" y="102.84" width="4.38" height="4.38" fill="#202020"/>
<rect x="283.01" y="102.84" width="4.38" height="4.38" fill="#1f1f1f"/>
<rect x="286.19" y="102.84" width="4.38" height="4.38" fill="#282828"/>
<rect x="289.37" y="102.84" width="4.38" height="4.38" fill="#3a3a3a"/>
<rect x="292.55" y="102.84" width="4.38" height="4.38" fill="#2b2b2b"/>
<rect x="295.73" y="102.84" width="4.38" height="4.38" fill="#2f2f2f"/>
<rect x="298.90" y="102.84" width="4.38" height="4.38" fill="#262626"/>
<rect x="302.08" y="102.84" width="4.38" height="4.38" fill="#232323"/>
<rect x="305.26" y="102.84" width="4.38" height="4.38" fill="#1c1c1c"/>
<rect x="308.44" y="102.84" width="4.38" height="4.38" fill="#111111"/>
<rect x="311.62" y="102.84" width="4.38" height="4.38" fill="#282828"/>
<rect x="314.79" y="102.84" width="4.38" height="4.38" fill="#3b3b3b"/>
<rect x="317.97" y="102.84" width="4.38" height="4.38" fill="#2d2d2d"/>
<rect x="321.15" y="102.84" width="4.38" height="4.38" fill="#212121"/>
<rect x="324.33" y="102.84" width="4.38" height="4.38" fill="#3a3a3a"/>
<rect x="327.51" y="102.84" width="4.38" height="4.38" fill="#202020"/>
<rect x="330.68" y="102.84" width="4.38" height="4.38" fill="#1d1d1d"/>
<rect x="333.86" y="102.84" width="4.38" height="4.38" fill="#151515"/>
<rect x="337.04" y="102.84" width="4.38" height="4.38" fill="#171717"/>
<rect x="340.22" y="102.84" width="4.38" height="4.38" fill="#1f1f1f"/>
<rect x="343.40" y="102.84" width="4.38" height="4.38" fill="#3a3a3a"/>
<rect x="346.58" y="102.84" width="4.38" height="4.38" fill="#202020"/>
<rect x="349.75" y="102.84" width="4.38" height="4.38" fill="#161616"/>
<rect x="352.93" y="102.84" width="4.38" height="4.38" fill="#1b1b1b"/>
<rect x="356.11" y="102.84" width="4.38" height="4.38" fill="#1f1f1f"/>
<rect x="359.29" y="102.84" width="4.38" height="4.38" fill="#0d0d0d"/>
<rect x="362.47" y="102.84" width="4.38" height="4.38" fill="#242424"/>
<rect x="365.64" y="102.84" width="4.38" height="4.38" fill="#2a2a2a"/>
<rect x="368.82" y="102.84" width="3.18" height="4.38" fill="#262626"/>
<rect x="270.30" y="106.02" width="4.38" height="4.38" fill="#0e0e0e"/>
<rect x="273.48" y="106.02" width="4.38" height="4.38" fill="#323232"/>
<rect x="276.66" y="106.02" width="4.38" height="4.38" fill="#303030"/>
<rect x="279.83" y="106.02" width="4.38" height="4.38" fill="#111111"/>
<rect x="283.01" y="106.02" width="4.38" height="4.38" fill="#262626"/>
<rect x="286.19" y="106.02" width="4.38" height="4.38" fill="#252525"/>
<rect x="289.37" y="106.02" width="4.38" height="4.38" fill="#2b2b2b"/>
<rect x="292.55" y="106.02" width="4.38" height="4.38" fill="#272727"/>
<rect x="295.73" y="106.02" width="4.38" height="4.38" fill="#1e1e1e"/>
<rect x="298.90" y="106.02" width="4.38" height="4.38" fill="#272727"/>
<rect x="302.08" y="106.02" width="4.38" height="4.38" fill="#262626"/>
<rect x="305.26" y="106.02" width="4.38" height="4.38" fill="#232323"/>
<rect x="308.44" y="106.02" width="4.38" height="4.38" fill="#0e0e0e"/>
<rect x="311.62" y="106.02" width="4.38" height="4.38" fill="#000000"/>
<rect x="314.79" y="106.02" width="4.38" height="4.38" fill="#1b1b1b"/>
<rect x="317.97" y="106.02" width="4.38" height="4.38" fill="#111111"/>
<rect x="321.15" y="106.02" width="4.38" height="4.38" fill="#272727"/>
<rect x="324.33" y="106.02" width="4.38" height="4.38" fill="#2d2d2d"/>
<rect x="327.51" y="106.02" width="4.38" height="4.38" fill="#272727"/>
<rect x="330.68" y="106.02" width="4.38" height="4.38" fill="#1f1f1f"/>
<rect x="333.86" y="106.02" width="4.38" height="4.38" fill="#232323"/>
<rect x="337.04" y="106.02" width="4.38" height="4.38" fill="#303030"/>
<rect x="340.22" y="106.02" width="4.38" height="4.38" fill="#191919"/>
<rect x="343.40" y="106.02" width="4.38" height="4.38" fill="#2d2d2d"/>
<rect x="346.58" y="106.02" width="4.38" height="4.38" fill="#2b2b2b"/>
<rect x="349.75" y="106.02" width="4.38" height="4.38" fill="#252525"/>
<rect x="352.93" y="106.02" width="4.38" height="4.38" fill="#343434"/>
<rect x="356.11" y="106.02" width="4.38" height="4.38" fill="#191919"/>
<rect x="359.29" y="106.02" width="4.38" height="4.38" fill="#2d2d2d"/>
<rect x="362.47" y="106.02" width="4.38" height="4.38" fill="#171717"/>
<rect x="365.64" y="106.02" width="4.38" height="4.38" fill="#191919"/>
<rect x="368.82" y="106.02" width="3.18" height="4.38" fill="#151515"/>
<rect x="270.30" y="109.20" width="4.38" height="4.38" fill="#232323"/>
<rect x="273.48" y="109.20" width="4.38" height="4.38" fill="#151515"/>
<rect x="276.66" y="109.20" width="4.38" height="4.38" fill="#2f2f2f"/>
<rect x="279.83" y="109.20" width="4.38" height="4.38" fill="#393939"/>
<rect x="283.01" y="109.20" width="4.38" height="4.38" fill="#262626"/>
<rect x="286.19" y="109.20" width="4.38" height="4.38" fill="#373737"/>
<rect x="289.37" y="109.20" width="4.38" height="4.38" fill="#2a2a2a"/>
<rect x="292.55" y="109.20" width="4.38" height="4.38" fill="#3d3d3d"/>
<rect x="295.73" y="109.20" width="4.38" height="4.38" fill="#242424"/>
<rect x="298.90" y="109.20" width="4.38" height="4.38" fill="#101010"/>
<rect x="302.08" y="109.20" width="4.38" height="4.38" fill="#353535"/>
<rect x="305.26" y="109.20" width="4.38" height="4.38" fill="#212121"/>
<rect x="308.44" y="109.20" width="4.38" height="4.38" fill="#161616"/>
<rect x="311.62" y="109.20" width="4.38" height="4.38" fill="#1b1b1b"/>
<rect x="314.79" y="109.20" width="4.38" height="4.38" fill="#0f0f0f"/>
<rect x="317.97" y="109.20" width="4.38" height="4.38" fill="#212121"/>
<rect x="321.15" y="109.20" width="4.38" height="4.38" fill="#161616"/>
<rect x="324.33" y="109.20" width="4.38" height="4.38" fill="#353535"/>
<rect x="327.51" y="109.20" width="4.38" height="4.38" fill="#2b2b2b"/>
<rect x="330.68" y="109.20" width="4.38" height="4.38" fill="#0e0e0e"/>
<rect x="333.86" y="109.20" width="4.38" height="4.38" fill="#101010"/>
<rect x="337.04" y="109.20" width="4.38" height="4.38" fill="#1b1b1b"/>
<rect x="340.22" y="109.20" width="4.38" height="4.38" fill="#0b0b0b"/>
<rect x="343.40" y="109.20" width="4.38" height="4.38" fill="#212121"/>
<rect x="346.58" y="109.20" width="4.38" height="4.38" fill="#212121"/>
<rect x="349.75" y="109.20" width="4.38" height="4.38" fill="#191919"/>
<rect x="352.93" y="109.20" width="4.38" height="4.38" fill="#1b1b1b"/>
<rect x="356.11" y="109.20" width="4.38" height="4.38" fill="#282828"/>
<rect x="359.29" y="109.20" width="4.38" height="4.38" fill="#333333"/>
<rect x="362.47" y="109.20" width="4.38" height="4.38" fill="#343434"/>
<rect x="365.64" y="109.20" width="4.38" height="4.38" fill="#222222"/>
<rect x="368.82" y="109.20" width="3.18" height="4.38" fill="#2c2c2c"/>
<rect x="270.30" y="112.38" width="4.38" height="4.38" fill="#171717"/>
<rect x="273.48" y="112.38" width="4.38" height="4.38" fill="#2b2b2b"/>
<rect x="276.66" y="112.38" width="4.38" height="4.38" fill="#131313"/>
<rect x="279.83" y="112.38" width="4.38" height="4.38" fill="#171717"/>
<rect x="283.01" y="112.38" width="4.38" height="4.38" fill="#222222"/>
<rect x="286.19" y="112.38" width="4.38" height="4.38" fill="#292929"/>
<rect x="289.37" y="112.38" width="4.38" height="4.38" fill="#111111"/>
<rect x="292.55" y="112.38" width="4.38" height="4.38" fill="#1c1c1c"/>
<rect x="295.73" y="112.38" width="4.38" height="4.38" fill="#242424"/>
<rect x="298.90" y="112.38" width="4.38" height="4.38" fill="#252525"/>
<rect x="302.08" y="112.38" width="4.38" height="4.38" fill="#181818"/>
<rect x="305.26" y="112.38" width="4.38" height="4.38" fill="#242424"/>
<rect x="308.44" y="112.38" width="4.38" height="4.38" fill="#1f1f1f"/>
<rect x="311.62" y="112.38" width="4.38" height="4.38" fill="#333333"/>
<rect x="314.79" y="112.38" width="4.38" height="4.38" fill="#292929"/>
<rect x="317.97" y="112.38" width="4.38" height="4.38" fill="#121212"/>
<rect x="321.15" y="112.38" width="4.38" height="4.38" fill="#080808"/>
<rect x="324.33" y="112.38" width="4.38" height="4.38" fill="#232323"/>
<rect x="327.51" y="112.38" width="4.38" height="4.38" fill="#303030"/>
<rect x="330.68" y="112.38" width="4.38" height="4.38" fill="#242424"/>
<rect x="333.86" y="112.38" width="4.38" height="4.38" fill="#2d2d2d"/>
<rect x="337.04" y="112.38" width="4.38" height="4.38" fill="#1c1c1c"/>
<rect x="340.22" y="112.38" width="4.38" height="4.38" fill="#121212"/>
<rect x="343.40" y="112.38" width="4.38" height="4.38" fill="#2b2b2b"/>
<rect x="346.58" y="112.38" width="4.38" height="4.38" fill="#232323"/>
<rect x="349.75" y="112.38" width="4.38" height="4.38" fill="#2a2a2a"/>
<rect x="352.93" y="112.38" width="4.38" height="4.38" fill="#111111"/>
<rect x="356.11" y="112.38" width="4.38" height="4.38" fill="#242424"/>
<rect x="359.29" y="112.38" width="4.38" height="4.38" fill="#1a1a1a"/>
<rect x="362.47" y="112.38" width="4.38" height="4.38" fill="#2c2c2c"/>
<rect x="365.64" y="112.38" width="4.38" height="4.38" fill="#1b1b1b"/>
<rect x="368.82" y="112.38" width="3.18" height="4.38" fill="#1b1b1b"/>
<rect x="270.30" y="115.55" width="4.38" height="4.38" fill="#222222"/>
<rect x="273.48" y="115.55" width="4.38" height="4.38" fill="#191919"/>
<rect x="276.66" y="115.55" width="4.38" height="4.38" fill="#161616"/>
<rect x="279.83" y="115.55" width="4.38" height="4.38" fill="#161616"/>
<rect x="283.01" y="115.55" width="4.38" height="4.38" fill="#343434"/>
<rect x="286.19" y="115.55" width="4.38" height="4.38" fill="#0c0c0c"/>
<rect x="289.37" y="115.55" width="4.38" height="4.38" fill="#181818"/>
<rect x="292.55" y="115.55" width="4.38" height="4.38" fill="#2a2a2a"/>
<rect x="295.73" y="115.55" width="4.38" height="4.38" fill="#303030"/>
<rect x="298.90" y="115.55" width="4.38" height="4.38" fill="#202020"/>
<rect x="302.08" y="115.55" width="4.38" height="4.38" fill="#2c2c2c"/>
<rect x="305.26" y="115.55" width="4.38" height="4.38" fill="#2b2b2b"/>
<rect x="308.44" y="115.55" width="4.38" height="4.38" fill="#2e2e2e"/>
<rect x="311.62" y="115.55" width="4.38" height="4.38" fill="#232323"/>
<rect x="314.79" y="115.55" width="4.38" height="4.38" fill="#363636"/>
<rect x="317.97" y="115.55" width="4.38" height="4.38" fill="#252525"/>
<rect x="321.15" y="115.55" width="4.38" height="4.38" fill="#353535"/>
<rect x="324.33" y="115.55" width="4.38" height="4.38" fill="#151515"/>
<rect x="327.51" y="115.55" width="4.38" height="4.38" fill="#2e2e2e"/>
<rect x="330.68" y="115.55" width="4.38" height="4.38" fill="#131313"/>
<rect x="333.86" y="115.55" width="4.38" height="4.38" fill="#101010"/>
<rect x="337.04" y="115.55" width="4.38" height="4.38" fill="#282828"/>
<rect x="340.22" y="115.55" width="4.38" height="4.38" fill="#181818"/>
<rect x="343.40" y="115.55" width="4.38" height="4.38" fill="#282828"/>
<rect x="346.58" y="115.55" width="4.38" height="4.38" fill="#151515"/>
<rect x="349.75" y="115.55" width="4.38" height="4.38" fill="#363636"/>
<rect x="352.93" y="115.55" width="4.38" height="4.38" fill="#232323"/>
<rect x="356.11" y="115.55" width="4.38" height="4.38" fill="#151515"/>
<rect x="359.29" y="115.55" width="4.38" height="4.38" fill="#252525"/>
<rect x="362.47" y="115.55" width="4.38" height="4.38" fill="#2d2d2d"/>
<rect x="365.64" y="115.55" width="4.38" height="4.38" fill="#191919"/>
<rect x="368.82" y="115.55" width="3.18" height="4.38" fill="#292929"/>
<rect x="270.30" y="118.73" width="4.38" height="4.38" fill="#222222"/>
<rect x="273.48" y="118.73" width="4.38" height="4.38" fill="#1c1c1c"/>
<rect x="276.66" y="118.73" width="4.38" height="4.38" fill="#2a2a2a"/>
<rect x="279.83" y="118.73" width="4.38" height="4.38" fill="#101010"/>
<rect x="283.01" y="118.73" width="4.38" height="4.38" fill="#000000"/>
<rect x="286.19" y="118.73" width="4.38" height="4.38" fill="#1b1b1b"/>
<rect x="289.37" y="118.73" width="4.38" height="4.38" fill="#161616"/>
<rect x="292.55" y="118.73" width="4.38" height="4.38" fill="#383838"/>
<rect x="295.73" y="118.73" width="4.38" height="4.38" fill="#242424"/>
<rect x="298.90" y="118.73" width="4.38" height="4.38" fill="#171717"/>
<rect x="302.08" y="118.73" width="4.38" height="4.38" fill="#151515"/>
<rect x="305.26" y="118.73" width="4.38" height="4.38" fill="#292929"/>
<rect x="308.44" y="118.73" width="4.38" height="4.38" fill="#191919"/>
<rect x="311.62" y="118.73" width="4.38" height="4.38" fill="#1c1c1c"/>
<rect x="314.79" y="118.73" width="4.38" height="4.38" fill="#222222"/>
<rect x="317.97" y="118.73" width="4.38" height="4.38" fill="#242424"/>
<rect x="321.15" y="118.73" width="4.38" height="4.38" fill="#242424"/>
<rect x="324.33" y="118.73" width="4.38" height="4.38" fill="#242424"/>
<rect x="327.51" y="118.73" width="4.38" height="4.38" fill="#333333"/>
<rect x="330.68" y="118.73" width="4.38" height="4.38" fill="#373737"/>
<rect x="333.86" y="118.73" width="4.38" height="4.38" fill="#0f0f0f"/>
<rect x="337.04" y="118.73" width="4.38" height="4.38" fill="#424242"/>
<rect x="340.22" y="118.73" width="4.38" height="4.38" fill="#242424"/>
<rect x="343.40" y="118.73" width="4.38" height="4.38" fill="#323232"/>
<rect x="346.58" y="118.73" width="4.38" height="4.38" fill="#1a1a1a"/>
<rect x="349.75" y="118.73" width="4.38" height="4.38" fill="#272727"/>
<rect x="352.93" y="118.73" width="4.38" height="4.38" fill="#252525"/>
<rect x="356.11" y="118.73" width="4.38" height="4.38" fill="#242424"/>
<rect x="359.29" y="118.73" width="4.38" height="4.38" fill="#2d2d2d"/>
<rect x="362.47" y="118.73" width="4.38" height="4.38" fill="#2b2b2b"/>
<rect x="365.64" y="118.73" width="4.38" height="4.38" fill="#171717"/>
<rect x="368.82" y="118.73" width="3.18" height="4.38" fill="#212121"/>
<rect x="270.30" y="121.91" width="4.38" height="4.38" fill="#1f1f1f"/>
<rect x="273.48" y="121.91" width="4.38" height="4.38" fill="#202020"/>
<rect x="276.66" y="121.91" width="4.38" height="4.38" fill="#212121"/>
<rect x="279.83" y="121.91" width="4.38" height="4.38" fill="#161616"/>
<rect x="283.01" y="121.91" width="4.38" height="4.38" fill="#131313"/>
<rect x="286.19" y="121.91" width="4.38" height="4.38" fill="#363636"/>
<rect x="289.37" y="121.91" width="4.38" height="4.38" fill="#1e1e1e"/>
<rect x="292.55" y="121.91" width="4.38" height="4.38" fill="#242424"/>
<rect x="295.73" y="121.91" width="4.38" height="4.38" fill="#1a1a1a"/>
<rect x="298.90" y="121.91" width="4.38" height="4.38" fill="#333333"/>
<rect x="302.08" y="121.91" width="4.38" height="4.38" fill="#383838"/>
<rect x="305.26" y="121.91" width="4.38" height="4.38" fill="#202020"/>
<rect x="308.44" y="121.91" width="4.38" height="4.38" fill="#292929"/>
<rect x="311.62" y="121.91" width="4.38" height="4.38" fill="#1a1a1a"/>
<rect x="314.79" y="121.91" width="4.38" height="4.38" fill="#383838"/>
<rect x="317.97" y="121.91" width="4.38" height="4.38" fill="#2e2e2e"/>
<rect x="321.15" y="121.91" width="4.38" height="4.38" fill="#191919"/>
<rect x="324.33" y="121.91" width="4.38" height="4.38" fill="#323232"/>
<rect x="327.51" y="121.91" width="4.38" height="4.38" fill="#272727"/>
<rect x="330.68" y="121.91" width="4.38" height="4.38" fill="#282828"/>
<rect x="333.86" y="121.91" width="4.38" height="4.38" fill="#272727"/>
<rect x="337.04" y="121.91" width="4.38" height="4.38" fill="#1b1b1b"/>
<rect x="340.22" y="121.91" width="4.38" height="4.38" fill="#1c1c1c"/>
<rect x="343.40" y="121.91" width="4.38" height="4.38" fill="#2a2a2a"/>
<rect x="346.58" y="121.91" width="4.38" height="4.38" fill="#222222"/>
<rect x="349.75" y="121.91" width="4.38" height="4.38" fill="#171717"/>
<rect x="352.93" y="121.91" width="4.38" height="4.38" fill="#3b3b3b"/>
<rect x="356.11" y="121.91" width="4.38" height="4.38" fill="#202020"/>
<rect x="359.29" y="121.91" width="4.38" height="4.38" fill="#1c1c1c"/>
<rect x="362.47" y="121.91" width="4.38" height="4.38" fill="#1a1a1a"/>
<rect x="365.64" y="121.91" width="4.38" height="4.38" fill="#2b2b2b"/>
<rect x="368.82" y="121.91" width="3.18" height="4.38" fill="#2f2f2f"/>
<rect x="270.30" y="125.09" width="4.38" height="4.38" fill="#111111"/>
<rect x="273.48" y="125.09" width="4.38" height="4.38" fill="#1e1e1e"/>
<rect x="276.66" y="125.09" width="4.38" height="4.38" fill="#1d1d1d"/>
<rect x="279.83" y="125.09" width="4.38" height="4.38" fill="#232323"/>
<rect x="283.01" y="125.09" width="4.38" height="4.38" fill="#292929"/>
<rect x="286.19" y="125.09" width="4.38" height="4.38" fill="#0a0a0a"/>
<rect x="289.37" y="125.09" width="4.38" height="4.38" fill="#484848"/>
<rect x="292.55" y="125.09" width="4.38" height="4.38" fill="#181818"/>
<rect x="295.73" y="125.09" width="4.38" height="4.38" fill="#272727"/>
<rect x="298.90" y="125.09" width="4.38" height="4.38" fill="#2d2d2d"/>
<rect x="302.08" y="125.09" width="4.38" height="4.38" fill="#2d2d2d"/>
<rect x="305.26" y="125.09" width="4.38" height="4.38" fill="#262626"/>
<rect x="308.44" y="125.09" width="4.38" height="4.38" fill="#000000"/>
<rect x="311.62" y="125.09" width="4.38" height="4.38" fill="#161616"/>
<rect x="314.79" y="125.09" width="4.38" height="4.38" fill="#2c2c2c"/>
<rect x="317.97" y="125.09" width="4.38" height="4.38" fill="#181818"/>
<rect x="321.15" y="125.09" width="4.38" height="4.38" fill="#161616"/>
<rect x="324.33" y="125.09" width="4.38" height="4.38" fill="#060606"/>
<rect x="327.51" y="125.09" width="4.38" height="4.38" fill="#313131"/>
<rect x="330.68" y="125.09" width="4.38" height="4.38" fill="#292929"/>
<rect x="333.86" y="125.09" width="4.38" height="4.38" fill="#181818"/>
<rect x="337.04" y="125.09" width="4.38" height="4.38" fill="#212121"/>
<rect x="340.22" y="125.09" width="4.38" height="4.38" fill="#212121"/>
<rect x="343.40" y="125.09" width="4.38" height="4.38" fill="#151515"/>
<rect x="346.58" y="125.09" width="4.38" height="4.38" fill="#1f1f1f"/>
<rect x="349.75" y="125.09" width="4.38" height="4.38" fill="#252525"/>
<rect x="352.93" y="125.09" width="4.38" height="4.38" fill="#292929"/>
<rect x="356.11" y="125.09" width="4.38" height="4.38" fill="#323232"/>
<rect x="359.29" y="125.09" width="4.38" height="4.38" fill="#232323"/>
<rect x="362.47" y="125.09" width="4.38" height="4.38" fill="#1d1d1d"/>
<rect x="365.64" y="125.09" width="4.38" height="4.38" fill="#272727"/>
<rect x="368.82" y="125.09" width="3.18" height="4.38" fill="#1b1b1b"/>
<rect x="270.30" y="128.27" width="4.38" height="4.38" fill="#1e1e1e"/>
<rect x="273.48" y="128.27" width="4.38" height="4.38" fill="#242424"/>
<rect x="276.66" y="128.27" width="4.38" height="4.38" fill="#2a2a2a"/>
<rect x="279.83" y="128.27" width="4.38" height="4.38" fill="#151515"/>
<rect x="283.01" y="128.27" width="4.38" height="4.38" fill="#2a2a2a"/>
<rect x="286.19" y="128.27" width="4.38" height="4.38" fill="#282828"/>
<rect x="289.37" y="128.27" width="4.38" height="4.38" fill="#212121"/>
<rect x="292.55" y="128.27" width="4.38" height="4.38" fill="#272727"/>
<rect x="295.73" y="128.27" width="4.38" height="4.38" fill="#191919"/>
<rect x="298.90" y="128.27" width="4.38" height="4.38" fill="#080808"/>
<rect x="302.08" y="128.27" width="4.38" height="4.38" fill="#1f1f1f"/>
<rect x="305.26" y="128.27" width="4.38" height="4.38" fill="#171717"/>
<rect x="308.44" y="128.27" width="4.38" height="4.38" fill="#2d2d2d"/>
<rect x="311.62" y="128.27" width="4.38" height="4.38" fill="#252525"/>
<rect x="314.79" y="128.27" width="4.38" height="4.38" fill="#1c1c1c"/>
<rect x="317.97" y="128.27" width="4.38" height="4.38" fill="#232323"/>
<rect x="321.15" y="128.27" width="4.38" height="4.38" fill="#333333"/>
<rect x="324.33" y="128.27" width="4.38" height="4.38" fill="#303030"/>
<rect x="327.51" y="128.27" width="4.38" height="4.38" fill="#272727"/>
<rect x="330.68" y="128.27" width="4.38" height="4.38" fill="#272727"/>
<rect x="333.86" y="128.27" width="4.38" height="4.38" fill="#1f1f1f"/>
<rect x="337.04" y="128.27" width="4.38" height="4.38" fill="#212121"/>
<rect x="340.22" y="128.27" width="4.38" height="4.38" fill="#292929"/>
<rect x="343.40" y="128.27" width="4.38" height="4.38" fill="#212121"/>
<rect x="346.58" y="128.27" width="4.38" height="4.38" fill="#262626"/>
<rect x="349.75" y="128.27" width="4.38" height="4.38" fill="#151515"/>
<rect x="352.93" y="128.27" width="4.38" height="4.38" fill="#0e0e0e"/>
<rect x="356.11" y="128.27" width="4.38" height="4.38" fill="#0e0e0e"/>
<rect x="359.29" y="128.27" width="4.38" height="4.38" fill="#1d1d1d"/>
<rect x="362.47" y="128.27" width="4.38" height="4.38" fill="#323232"/>
<rect x="365.64" y="128.27" width="4.38" height="4.38" fill="#303030"/>
<rect x="368.82" y="128.27" width="3.18" height="4.38" fill="#161616"/>
<rect x="270.30" y="131.44" width="4.38" height="4.38" fill="#282828"/>
<rect x="273.48" y="131.44" width="4.38" height="4.38" fill="#121212"/>
<rect x="276.66" y="131.44" width="4.38" height="4.38" fill="#2f2f2f"/>
<rect x="279.83" y="131.44" width="4.38" height="4.38" fill="#242424"/>
<rect x="283.01" y="131.44" width="4.38" height="4.38" fill="#323232"/>
<rect x="286.19" y="131.44" width="4.38" height="4.38" fill="#262626"/>
<rect x="289.37" y="131.44" width="4.38" height="4.38" fill="#2d2d2d"/>
<rect x="292.55" y="131.44" width="4.38" height="4.38" fill="#262626"/>
<rect x="295.73" y="131.44" width="4.38" height="4.38" fill="#171717"/>
<rect x="298.90" y="131.44" width="4.38" height="4.38" fill="#1f1f1f"/>
<rect x="302.08" y="131.44" width="4.38" height="4.38" fill="#1a1a1a"/>
<rect x="305.26" y="131.44" width="4.38" height="4.38" fill="#2c2c2c"/>
<rect x="308.44" y="131.44" width="4.38" height="4.38" fill="#161616"/>
<rect x="311.62" y="131.44" width="4.38" height="4.38" fill="#101010"/>
<rect x="314.79" y="131.44" width="4.38" height="4.38" fill="#2a2a2a"/>
<rect x="317.97" y="131.44" width="4.38" height="4.38" fill="#303030"/>
<rect x="321.15" y="131.44" width="4.38" height="4.38" fill="#343434"/>
<rect x="324.33" y="131.44" width="4.38" height="4.38" fill="#2f2f2f"/>
<rect x="327.51" y="131.44" width="4.38" height="4.38" fill="#101010"/>
<rect x="330.68" y="131.44" width="4.38" height="4.38" fill="#1a1a1a"/>
<rect x="333.86" y="131.44" width="4.38" height="4.38" fill="#1c1c1c"/>
<rect x="337.04" y="131.44" width="4.38" height="4.38" fill="#222222"/>
<rect x="340.22" y="131.44" width="4.38" height="4.38" fill="#080808"/>
<rect x="343.40" y="131.44" width="4.38" height="4.38" fill="#222222"/>
<rect x="346.58" y="131.44" width="4.38" height="4.38" fill="#252525"/>
<rect x="349.75" y="131.44" width="4.38" height="4.38" fill="#171717"/>
<rect x="352.93" y="131.44" width="4.38" height="4.38" fill="#242424"/>
<rect x="356.11" y="131.44" width="4.38" height="4.38" fill="#313131"/>
<rect x="359.29" y="131.44" width="4.38" height="4.38" fill="#232323"/>
<rect x="362.47" y="131.44" width="4.38" height="4.38" fill="#2f2f2f"/>
<rect x="365.64" y="131.44" width="4.38" height="4.38" fill="#2e2e2e"/>
<rect x="368.82" y="131.44" width="3.18" height="4.38" fill="#272727"/>
<rect x="270.30" y="134.62" width="4.38" height="3.18" fill="#313131"/>
<rect x="273.48" y="134.62" width="4.38" height="3.18" fill="#1c1c1c"/>
<rect x="276.66" y="134.62" width="4.38" height="3.18" fill="#1a1a1a"/>
<rect x="279.83" y="134.62" width="4.38" height="3.18" fill="#2b2b2b"/>
<rect x="283.01" y="134.62" width="4.38" height="3.18" fill="#191919"/>
<rect x="286.19" y="134.62" width="4.38" height="3.18" fill="#272727"/>
<rect x="289.37" y="134.62" width="4.38" height="3.18" fill="#2f2f2f"/>
<rect x="292.55" y="134.62" width="4.38" height="3.18" fill="#232323"/>
<rect x="295.73" y="134.62" width="4.38" height="3.18" fill="#232323"/>
<rect x="298.90" y="134.62" width="4.38" height="3.18" fill="#2d2d2d"/>
<rect x="302.08" y="134.62" width="4.38" height="3.18" fill="#2b2b2b"/>
<rect x="305.26" y="134.62" width="4.38" height="3.18" fill="#101010"/>
<rect x="308.44" y="134.62" width="4.38" height="3.18" fill="#121212"/>
<rect x="311.62" y="134.62" width="4.38" height="3.18" fill="#323232"/>
<rect x="314.79" y="134.62" width="4.38" height="3.18" fill="#272727"/>
<rect x="317.97" y="134.62" width="4.38" height="3.18" fill="#090909"/>
<rect x="321.15" y="134.62" width="4.38" height="3.18" fill="#121212"/>
<rect x="324.33" y="134.62" width="4.38" height="3.18" fill="#222222"/>
<rect x="327.51" y="134.62" width="4.38" height="3.18" fill="#161616"/>
<rect x="330.68" y="134.62" width="4.38" height="3.18" fill="#282828"/>
<rect x="333.86" y="134.62" width="4.38" height="3.18" fill="#232323"/>
<rect x="337.04" y="134.62" width="4.38" height="3.18" fill="#282828"/>
<rect x="340.22" y="134.62" width="4.38" height="3.18" fill="#141414"/>
<rect x="343.40" y="134.62" width="4.38" height="3.18" fill="#2a2a2a"/>
<rect x="346.58" y="134.62" width="4.38" height="3.18" fill="#3a3a3a"/>
<rect x="349.75" y="134.62" width="4.38" height="3.18" fill="#191919"/>
<rect x="352.93" y="134.62" width="4.38" height="3.18" fill="#323232"/>
<rect x="356.11" y="134.62" width="4.38" height="3.18" fill="#2e2e2e"/>
<rect x="359.29" y="134.62" width="4.38" height="3.18" fill="#2a2a2a"/>
<rect x="362.47" y="134.62" width="4.38" height="3.18" fill="#212121"/>
<rect x="365.64" y="134.62" width="4.38" height="3.18" fill="#141414"/>
<rect x="368.82" y="134.62" width="3.18" height="3.18" fill="#181818"/>
</g>
<rect x="270.30" y="36.10" width="101.70" height="101.70" fill="none" stroke="#000" stroke-opacity="0.55" stroke-width="0.5"/>
<text x="434.9" y="29.8" font-size="13.0" text-anchor="middle">Two-PSF Residual</text>
<g>
<rect x="384.00" y="36.10" width="4.38" height="4.38" fill="#d7d7d7"/>
<rect x="387.18" y="36.10" width="4.38" height="4.38" fill="#d7d7d7"/>
<rect x="390.36" y="36.10" width="4.38" height="4.38" fill="#7b7b7b"/>
<rect x="393.53" y="36.10" width="4.38" height="4.38" fill="#3f3f3f"/>
<rect x="396.71" y="36.10" width="4.38" height="4.38" fill="#6d6d6d"/>
<rect x="399.89" y="36.10" width="4.38" height="4.38" fill="#c9c9c9"/>
<rect x="403.07" y="36.10" width="4.38" height="4.38" fill="#7d7d7d"/>
<rect x="406.25" y="36.10" width="4.38" height="4.38" fill="#636363"/>
<rect x="409.43" y="36.10" width="4.38" height="4.38" fill="#6a6a6a"/>
<rect x="412.60" y="36.10" width="4.38" height="4.38" fill="#9c9c9c"/>
<rect x="415.78" y="36.10" width="4.38" height="4.38" fill="#9b9b9b"/>
<rect x="418.96" y="36.10" width="4.38" height="4.38" fill="#bdbdbd"/>
<rect x="422.14" y="36.10" width="4.38" height="4.38" fill="#c1c1c1"/>
<rect x="425.32" y="36.10" width="4.38" height="4.38" fill="#797979"/>
<rect x="428.49" y="36.10" width="4.38" height="4.38" fill="#969696"/>
<rect x="431.67" y="36.10" width="4.38" height="4.38" fill="#717171"/>
<rect x="434.85" y="36.10" width="4.38" height="4.38" fill="#9f9f9f"/>
<rect x="438.03" y="36.10" width="4.38" height="4.38" fill="#717171"/>
<rect x="441.21" y="36.10" width="4.38" height="4.38" fill="#6f6f6f"/>
<rect x="444.38" y="36.10" width="4.38" height="4.38" fill="#ececec"/>
<rect x="447.56" y="36.10" width="4.38" height="4.38" fill="#9d9d9d"/>
<rect x="450.74" y="36.10" width="4.38" height="4.38" fill="#b4b4b4"/>
<rect x="453.92" y="36.10" width="4.38" height="4.38" fill="#fcfcfc"/>
<rect x="457.10" y="36.10" width="4.38" height="4.38" fill="#bababa"/>
<rect x="460.27" y="36.10" width="4.38" height="4.38" fill="#989898"/>
<rect x="463.45" y="36.10" width="4.38" height="4.38" fill="#9e9e9e"/>
<rect x="466.63" y="36.10" width="4.38" height="4.38" fill="#808080"/>
<rect x="469.81" y="36.10" width="4.38" height="4.38" fill="#c5c5c5"/>
<rect x="472.99" y="36.10" width="4.38" height="4.38" fill="#909090"/>
<rect x="476.17" y="36.10" width="4.38" height="4.38" fill="#dfdfdf"/>
<rect x="479.34" y="36.10" width="4.38" height="4.38" fill="#8f8f8f"/>
<rect x="482.52" y="36.10" width="3.18" height="4.38" fill="#8f8f8f"/>
<rect x="384.00" y="39.28" width="4.38" height="4.38" fill="#a3a3a3"/>
<rect x="387.18" y="39.28" width="4.38" height="4.38" fill="#d0d0d0"/>
<rect x="390.36" y="39.28" width="4.38" height="4.38" fill="#878787"/>
<rect x="393.53" y="39.28" width="4.38" height="4.38" fill="#a7a7a7"/>
<rect x="396.71" y="39.28" width="4.38" height="4.38" fill="#e5e5e5"/>
<rect x="399.89" y="39.28" width="4.38" height="4.38" fill="#939393"/>
<rect x="403.07" y="39.28" width="4.38" height="4.38" fill="#b0b0b0"/>
<rect x="406.25" y="39.28" width="4.38" height="4.38" fill="#d7d7d7"/>
<rect x="409.43" y="39.28" width="4.38" height="4.38" fill="#b1b1b1"/>
<rect x="412.60" y="39.28" width="4.38" height="4.38" fill="#848484"/>
<rect x="415.78" y="39.28" width="4.38" height="4.38" fill="#4e4e4e"/>
<rect x="418.96" y="39.28" width="4.38" height="4.38" fill="#f6f6f6"/>
<rect x="422.14" y="39.28" width="4.38" height="4.38" fill="#acacac"/>
<rect x="425.32" y="39.28" width="4.38" height="4.38" fill="#cccccc"/>
<rect x="428.49" y="39.28" width="4.38" height="4.38" fill="#8a8a8a"/>
<rect x="431.67" y="39.28" width="4.38" height="4.38" fill="#e1e1e1"/>
<rect x="434.85" y="39.28" width="4.38" height="4.38" fill="#b0b0b0"/>
<rect x="438.03" y="39.28" width="4.38" height="4.38" fill="#9e9e9e"/>
<rect x="441.21" y="39.28" width="4.38" height="4.38" fill="#7a7a7a"/>
<rect x="444.38" y="39.28" width="4.38" height="4.38" fill="#aaaaaa"/>
<rect x="447.56" y="39.28" width="4.38" height="4.38" fill="#8a8a8a"/>
<rect x="450.74" y="39.28" width="4.38" height="4.38" fill="#949494"/>
<rect x="453.92" y="39.28" width="4.38" height="4.38" fill="#5f5f5f"/>
<rect x="457.10" y="39.28" width="4.38" height="4.38" fill="#898989"/>
<rect x="460.27" y="39.28" width="4.38" height="4.38" fill="#a2a2a2"/>
<rect x="463.45" y="39.28" width="4.38" height="4.38" fill="#6d6d6d"/>
<rect x="466.63" y="39.28" width="4.38" height="4.38" fill="#9f9f9f"/>
<rect x="469.81" y="39.28" width="4.38" height="4.38" fill="#b5b5b5"/>
<rect x="472.99" y="39.28" width="4.38" height="4.38" fill="#909090"/>
<rect x="476.17" y="39.28" width="4.38" height="4.38" fill="#858585"/>
<rect x="479.34" y="39.28" width="4.38" height="4.38" fill="#858585"/>
<rect x="482.52" y="39.28" width="3.18" height="4.38" fill="#c0c0c0"/>
<rect x="384.00" y="42.46" width="4.38" height="4.38" fill="#8c8c8c"/>
<rect x="387.18" y="42.46" width="4.38" height="4.38" fill="#a1a1a1"/>
<rect x="390.36" y="42.46" width="4.38" height="4.38" fill="#999999"/>
<rect x="393.53" y="42.46" width="4.38" height="4.38" fill="#727272"/>
<rect x="396.71" y="42.46" width="4.38" height="4.38" fill="#e9e9e9"/>
<rect x="399.89" y="42.46" width="4.38" height="4.38" fill="#a3a3a3"/>
<rect x="403.07" y="42.46" width="4.38" height="4.38" fill="#696969"/>
<rect x="406.25" y="42.46" width="4.38" height="4.38" fill="#7a7a7a"/>
<rect x="409.43" y="42.46" width="4.38" height="4.38" fill="#a0a0a0"/>
<rect x="412.60" y="42.46" width="4.38" height="4.38" fill="#b3b3b3"/>
<rect x="415.78" y="42.46" width="4.38" height="4.38" fill="#696969"/>
<rect x="418.96" y="42.46" width="4.38" height="4.38" fill="#b7b7b7"/>
<rect x="422.14" y="42.46" width="4.38" height="4.38" fill="#686868"/>
<rect x="425.32" y="42.46" width="4.38" height="4.38" fill="#7e7e7e"/>
<rect x="428.49" y="42.46" width="4.38" height="4.38" fill="#bcbcbc"/>
<rect x="431.67" y="42.46" width="4.38" height="4.38" fill="#dcdcdc"/>
<rect x="434.85" y="42.46" width="4.38" height="4.38" fill="#999999"/>
<rect x="438.03" y="42.46" width="4.38" height="4.38" fill="#909090"/>
<rect x="441.21" y="42.46" width="4.38" height="4.38" fill="#cccccc"/>
<rect x="444.38" y="42.46" width="4.38" height="4.38" fill="#747474"/>
<rect x="447.56" y="42.46" width="4.38" height="4.38" fill="#a6a6a6"/>
<rect x="450.74" y="42.46" width="4.38" height="4.38" fill="#a5a5a5"/>
<rect x="453.92" y="42.46" width="4.38" height="4.38" fill="#c2c2c2"/>
<rect x="457.10" y="42.46" width="4.38" height="4.38" fill="#a7a7a7"/>
<rect x="460.27" y="42.46" width="4.38" height="4.38" fill="#929292"/>
<rect x="463.45" y="42.46" width="4.38" height="4.38" fill="#b3b3b3"/>
<rect x="466.63" y="42.46" width="4.38" height="4.38" fill="#717171"/>
<rect x="469.81" y="42.46" width="4.38" height="4.38" fill="#bbbbbb"/>
<rect x="472.99" y="42.46" width="4.38" height="4.38" fill="#838383"/>
<rect x="476.17" y="42.46" width="4.38" height="4.38" fill="#7a7a7a"/>
<rect x="479.34" y="42.46" width="4.38" height="4.38" fill="#8e8e8e"/>
<rect x="482.52" y="42.46" width="3.18" height="4.38" fill="#9e9e9e"/>
<rect x="384.00" y="45.63" width="4.38" height="4.38" fill="#b8b8b8"/>
<rect x="387.18" y="45.63" width="4.38" height="4.38" fill="#c1c1c1"/>
<rect x="390.36" y="45.63" width="4.38" height="4.38" fill="#989898"/>
<rect x="393.53" y="45.63" width="4.38" height="4.38" fill="#777777"/>
<rect x="396.71" y="45.63" width="4.38" height="4.38" fill="#bfbfbf"/>
<rect x="399.89" y="45.63" width="4.38" height="4.38" fill="#a6a6a6"/>
<rect x="403.07" y="45.63" width="4.38" height="4.38" fill="#4c4c4c"/>
<rect x="406.25" y="45.63" width="4.38" height="4.38" fill="#777777"/>
<rect x="409.43" y="45.63" width="4.38" height="4.38" fill="#a1a1a1"/>
<rect x="412.60" y="45.63" width="4.38" height="4.38" fill="#686868"/>
<rect x="415.78" y="45.63" width="4.38" height="4.38" fill="#828282"/>
<rect x="418.96" y="45.63" width="4.38" height="4.38" fill="#5b5b5b"/>
<rect x="422.14" y="45.63" width="4.38" height="4.38" fill="#ababab"/>
<rect x="425.32" y="45.63" width="4.38" height="4.38" fill="#a5a5a5"/>
<rect x="428.49" y="45.63" width="4.38" height="4.38" fill="#a3a3a3"/>
<rect x="431.67" y="45.63" width="4.38" height="4.38" fill="#d3d3d3"/>
<rect x="434.85" y="45.63" width="4.38" height="4.38" fill="#8f8f8f"/>
<rect x="438.03" y="45.63" width="4.38" height="4.38" fill="#919191"/>
<rect x="441.21" y="45.63" width="4.38" height="4.38" fill="#e8e8e8"/>
<rect x="444.38" y="45.63" width="4.38" height="4.38" fill="#6b6b6b"/>
<rect x="447.56" y="45.63" width="4.38" height="4.38" fill="#b8b8b8"/>
<rect x="450.74" y="45.63" width="4.38" height="4.38" fill="#6a6a6a"/>
<rect x="453.92" y="45.63" width="4.38" height="4.38" fill="#a5a5a5"/>
<rect x="457.10" y="45.63" width="4.38" height="4.38" fill="#ececec"/>
<rect x="460.27" y="45.63" width="4.38" height="4.38" fill="#a6a6a6"/>
<rect x="463.45" y="45.63" width="4.38" height="4.38" fill="#7f7f7f"/>
<rect x="466.63" y="45.63" width="4.38" height="4.38" fill="#f6f6f6"/>
<rect x="469.81" y="45.63" width="4.38" height="4.38" fill="#878787"/>
<rect x="472.99" y="45.63" width="4.38" height="4.38" fill="#949494"/>
<rect x="476.17" y="45.63" width="4.38" height="4.38" fill="#a7a7a7"/>
<rect x="479.34" y="45.63" width="4.38" height="4.38" fill="#696969"/>
<rect x="482.52" y="45.63" width="3.18" height="4.38" fill="#c6c6c6"/>
<rect x="384.00" y="48.81" width="4.38" height="4.38" fill="#a8a8a8"/>
<rect x="387.18" y="48.81" width="4.38" height="4.38" fill="#969696"/>
<rect x="390.36" y="48.81" width="4.38" height="4.38" fill="#bdbdbd"/>
<rect x="393.53" y="48.81" width="4.38" height="4.38" fill="#252525"/>
<rect x="396.71" y="48.81" width="4.38" height="4.38" fill="#979797"/>
<rect x="399.89" y="48.81" width="4.38" height="4.38" fill="#a6a6a6"/>
<rect x="403.07" y="48.81" width="4.38" height="4.38" fill="#515151"/>
<rect x="406.25" y="48.81" width="4.38" height="4.38" fill="#acacac"/>
<rect x="409.43" y="48.81" width="4.38" height="4.38" fill="#979797"/>
<rect x="412.60" y="48.81" width="4.38" height="4.38" fill="#9b9b9b"/>
<rect x="415.78" y="48.81" width="4.38" height="4.38" fill="#a0a0a0"/>
<rect x="418.96" y="48.81" width="4.38" height="4.38" fill="#b2b2b2"/>
<rect x="422.14" y="48.81" width="4.38" height="4.38" fill="#adadad"/>
<rect x="425.32" y="48.81" width="4.38" height="4.38" fill="#757575"/>
<rect x="428.49" y="48.81" width="4.38" height="4.38" fill="#989898"/>
<rect x="431.67" y="48.81" width="4.38" height="4.38" fill="#959595"/>
<rect x="434.85" y="48.81" width="4.38" height="4.38" fill="#9d9d9d"/>
<rect x="438.03" y="48.81" width="4.38" height="4.38" fill="#868686"/>
<rect x="441.21" y="48.81" width="4.38" height="4.38" fill="#c1c1c1"/>
<rect x="444.38" y="48.81" width="4.38" height="4.38" fill="#cdcdcd"/>
<rect x="447.56" y="48.81" width="4.38" height="4.38" fill="#d5d5d5"/>
<rect x="450.74" y="48.81" width="4.38" height="4.38" fill="#e4e4e4"/>
<rect x="453.92" y="48.81" width="4.38" height="4.38" fill="#d4d4d4"/>
<rect x="457.10" y="48.81" width="4.38" height="4.38" fill="#8b8b8b"/>
<rect x="460.27" y="48.81" width="4.38" height="4.38" fill="#858585"/>
<rect x="463.45" y="48.81" width="4.38" height="4.38" fill="#8d8d8d"/>
<rect x="466.63" y="48.81" width="4.38" height="4.38" fill="#b1b1b1"/>
<rect x="469.81" y="48.81" width="4.38" height="4.38" fill="#979797"/>
<rect x="472.99" y="48.81" width="4.38" height="4.38" fill="#c1c1c1"/>
<rect x="476.17" y="48.81" width="4.38" height="4.38" fill="#dadada"/>
<rect x="479.34" y="48.81" width="4.38" height="4.38" fill="#8c8c8c"/>
<rect x="482.52" y="48.81" width="3.18" height="4.38" fill="#c1c1c1"/>
<rect x="384.00" y="51.99" width="4.38" height="4.38" fill="#6c6c6c"/>
<rect x="387.18" y="51.99" width="4.38" height="4.38" fill="#909090"/>
<rect x="390.36" y="51.99" width="4.38" height="4.38" fill="#545454"/>
<rect x="393.53" y="51.99" width="4.38" height="4.38" fill="#afafaf"/>
<rect x="396.71" y="51.99" width="4.38" height="4.38" fill="#d5d5d5"/>
<rect x="399.89" y="51.99" width="4.38" height="4.38" fill="#707070"/>
<rect x="403.07" y="51.99" width="4.38" height="4.38" fill="#8f8f8f"/>
<rect x="406.25" y="51.99" width="4.38" height="4.38" fill="#d6d6d6"/>
<rect x="409.43" y="51.99" width="4.38" height="4.38" fill="#a9a9a9"/>
<rect x="412.60" y="51.99" width="4.38" height="4.38" fill="#a3a3a3"/>
<rect x="415.78" y="51.99" width="4.38" height="4.38" fill="#929292"/>
<rect x="418.96" y="51.99" width="4.38" height="4.38" fill="#c2c2c2"/>
<rect x="422.14" y="51.99" width="4.38" height="4.38" fill="#a8a8a8"/>
<rect x="425.32" y="51.99" width="4.38" height="4.38" fill="#737373"/>
<rect x="428.49" y="51.99" width="4.38" height="4.38" fill="#404040"/>
<rect x="431.67" y="51.99" width="4.38" height="4.38" fill="#373737"/>
<rect x="434.85" y="51.99" width="4.38" height="4.38" fill="#b5b5b5"/>
<rect x="438.03" y="51.99" width="4.38" height="4.38" fill="#929292"/>
<rect x="441.21" y="51.99" width="4.38" height="4.38" fill="#d3d3d3"/>
<rect x="444.38" y="51.99" width="4.38" height="4.38" fill="#afafaf"/>
<rect x="447.56" y="51.99" width="4.38" height="4.38" fill="#6c6c6c"/>
<rect x="450.74" y="51.99" width="4.38" height="4.38" fill="#a7a7a7"/>
<rect x="453.92" y="51.99" width="4.38" height="4.38" fill="#c9c9c9"/>
<rect x="457.10" y="51.99" width="4.38" height="4.38" fill="#7a7a7a"/>
<rect x="460.27" y="51.99" width="4.38" height="4.38" fill="#898989"/>
<rect x="463.45" y="51.99" width="4.38" height="4.38" fill="#dedede"/>
<rect x="466.63" y="51.99" width="4.38" height="4.38" fill="#5a5a5a"/>
<rect x="469.81" y="51.99" width="4.38" height="4.38" fill="#737373"/>
<rect x="472.99" y="51.99" width="4.38" height="4.38" fill="#c4c4c4"/>
<rect x="476.17" y="51.99" width="4.38" height="4.38" fill="#a4a4a4"/>
<rect x="479.34" y="51.99" width="4.38" height="4.38" fill="#717171"/>
<rect x="482.52" y="51.99" width="3.18" height="4.38" fill="#656565"/>
<rect x="384.00" y="55.17" width="4.38" height="4.38" fill="#bbbbbb"/>
<rect x="387.18" y="55.17" width="4.38" height="4.38" fill="#acacac"/>
<rect x="390.36" y="55.17" width="4.38" height="4.38" fill="#d4d4d4"/>
<rect x="393.53" y="55.17" width="4.38" height="4.38" fill="#a8a8a8"/>
<rect x="396.71" y="55.17" width="4.38" height="4.38" fill="#7d7d7d"/>
<rect x="399.89" y="55.17" width="4.38" height="4.38" fill="#e9e9e9"/>
<rect x="403.07" y="55.17" width="4.38" height="4.38" fill="#6d6d6d"/>
<rect x="406.25" y="55.17" width="4.38" height="4.38" fill="#979797"/>
<rect x="409.43" y="55.17" width="4.38" height="4.38" fill="#999999"/>
<rect x="412.60" y="55.17" width="4.38" height="4.38" fill="#d2d2d2"/>
<rect x="415.78" y="55.17" width="4.38" height="4.38" fill="#7f7f7f"/>
<rect x="418.96" y="55.17" width="4.38" height="4.38" fill="#929292"/>
<rect x="422.14" y="55.17" width="4.38" height="4.38" fill="#595959"/>
<rect x="425.32" y="55.17" width="4.38" height="4.38" fill="#a9a9a9"/>
<rect x="428.49" y="55.17" width="4.38" height="4.38" fill="#adadad"/>
<rect x="431.67" y="55.17" width="4.38" height="4.38" fill="#b5b5b5"/>
<rect x="434.85" y="55.17" width="4.38" height="4.38" fill="#797979"/>
<rect x="438.03" y="55.17" width="4.38" height="4.38" fill="#a5a5a5"/>
<rect x="441.21" y="55.17" width="4.38" height="4.38" fill="#7b7b7b"/>
<rect x="444.38" y="55.17" width="4.38" height="4.38" fill="#8a8a8a"/>
<rect x="447.56" y="55.17" width="4.38" height="4.38" fill="#999999"/>
<rect x="450.74" y="55.17" width="4.38" height="4.38" fill="#cdcdcd"/>
<rect x="453.92" y="55.17" width="4.38" height="4.38" fill="#8b8b8b"/>
<rect x="457.10" y="55.17" width="4.38" height="4.38" fill="#a3a3a3"/>
<rect x="460.27" y="55.17" width="4.38" height="4.38" fill="#7c7c7c"/>
<rect x="463.45" y="55.17" width="4.38" height="4.38" fill="#868686"/>
<rect x="466.63" y="55.17" width="4.38" height="4.38" fill="#818181"/>
<rect x="469.81" y="55.17" width="4.38" height="4.38" fill="#969696"/>
<rect x="472.99" y="55.17" width="4.38" height="4.38" fill="#b9b9b9"/>
<rect x="476.17" y="55.17" width="4.38" height="4.38" fill="#727272"/>
<rect x="479.34" y="55.17" width="4.38" height="4.38" fill="#b7b7b7"/>
<rect x="482.52" y="55.17" width="3.18" height="4.38" fill="#787878"/>
<rect x="384.00" y="58.35" width="4.38" height="4.38" fill="#909090"/>
<rect x="387.18" y="58.35" width="4.38" height="4.38" fill="#8d8d8d"/>
<rect x="390.36" y="58.35" width="4.38" height="4.38" fill="#c5c5c5"/>
<rect x="393.53" y="58.35" width="4.38" height="4.38" fill="#a5a5a5"/>
<rect x="396.71" y="58.35" width="4.38" height="4.38" fill="#c4c4c4"/>
<rect x="399.89" y="58.35" width="4.38" height="4.38" fill="#8e8e8e"/>
<rect x="403.07" y="58.35" width="4.38" height="4.38" fill="#929292"/>
<rect x="406.25" y="58.35" width="4.38" height="4.38" fill="#d8d8d8"/>
<rect x="409.43" y="58.35" width="4.38" height="4.38" fill="#5d5d5d"/>
<rect x="412.60" y="58.35" width="4.38" height="4.38" fill="#7a7a7a"/>
<rect x="415.78" y="58.35" width="4.38" height="4.38" fill="#949494"/>
<rect x="418.96" y="58.35" width="4.38" height="4.38" fill="#e0e0e0"/>
<rect x="422.14" y="58.35" width="4.38" height="4.38" fill="#848484"/>
<rect x="425.32" y="58.35" width="4.38" height="4.38" fill="#b9b9b9"/>
<rect x="428.49" y="58.35" width="4.38" height="4.38" fill="#d7d7d7"/>
<rect x="431.67" y="58.35" width="4.38" height="4.38" fill="#929292"/>
<rect x="434.85" y="58.35" width="4.38" height="4.38" fill="#959595"/>
<rect x="438.03" y="58.35" width="4.38" height="4.38" fill="#dadada"/>
<rect x="441.21" y="58.35" width="4.38" height="4.38" fill="#868686"/>
<rect x="444.38" y="58.35" width="4.38" height="4.38" fill="#737373"/>
<rect x="447.56" y="58.35" width="4.38" height="4.38" fill="#bababa"/>
<rect x="450.74" y="58.35" width="4.38" height="4.38" fill="#888888"/>
<rect x="453.92" y="58.35" width="4.38" height="4.38" fill="#cccccc"/>
<rect x="457.10" y="58.35" width="4.38" height="4.38" fill="#afafaf"/>
<rect x="460.27" y="58.35" width="4.38" height="4.38" fill="#595959"/>
<rect x="463.45" y="58.35" width="4.38" height="4.38" fill="#a6a6a6"/>
<rect x="466.63" y="58.35" width="4.38" height="4.38" fill="#9b9b9b"/>
<rect x="469.81" y="58.35" width="4.38" height="4.38" fill="#828282"/>
<rect x="472.99" y="58.35" width="4.38" height="4.38" fill="#c5c5c5"/>
<rect x="476.17" y="58.35" width="4.38" height="4.38" fill="#585858"/>
<rect x="479.34" y="58.35" width="4.38" height="4.38" fill="#6c6c6c"/>
<rect x="482.52" y="58.35" width="3.18" height="4.38" fill="#888888"/>
<rect x="384.00" y="61.53" width="4.38" height="4.38" fill="#838383"/>
<rect x="387.18" y="61.53" width="4.38" height="4.38" fill="#808080"/>
<rect x="390.36" y="61.53" width="4.38" height="4.38" fill="#626262"/>
<rect x="393.53" y="61.53" width="4.38" height="4.38" fill="#8c8c8c"/>
<rect x="396.71" y="61.53" width="4.38" height="4.38" fill="#6f6f6f"/>
<rect x="399.89" y="61.53" width="4.38" height="4.38" fill="#8a8a8a"/>
<rect x="403.07" y="61.53" width="4.38" height="4.38" fill="#a5a5a5"/>
<rect x="406.25" y="61.53" width="4.38" height="4.38" fill="#787878"/>
<rect x="409.43" y="61.53" width="4.38" height="4.38" fill="#7a7a7a"/>
<rect x="412.60" y="61.53" width="4.38" height="4.38" fill="#757575"/>
<rect x="415.78" y="61.53" width="4.38" height="4.38" fill="#7a7a7a"/>
<rect x="418.96" y="61.53" width="4.38" height="4.38" fill="#5f5f5f"/>
<rect x="422.14" y="61.53" width="4.38" height="4.38" fill="#6e6e6e"/>
<rect x="425.32" y="61.53" width="4.38" height="4.38" fill="#9f9f9f"/>
<rect x="428.49" y="61.53" width="4.38" height="4.38" fill="#797979"/>
<rect x="431.67" y="61.53" width="4.38" height="4.38" fill="#ffffff"/>
<rect x="434.85" y="61.53" width="4.38" height="4.38" fill="#7c7c7c"/>
<rect x="438.03" y="61.53" width="4.38" height="4.38" fill="#acacac"/>
<rect x="441.21" y="61.53" width="4.38" height="4.38" fill="#616161"/>
<rect x="444.38" y="61.53" width="4.38" height="4.38" fill="#909090"/>
<rect x="447.56" y="61.53" width="4.38" height="4.38" fill="#868686"/>
<rect x="450.74" y="61.53" width="4.38" height="4.38" fill="#979797"/>
<rect x="453.92" y="61.53" width="4.38" height="4.38" fill="#cdcdcd"/>
<rect x="457.10" y="61.53" width="4.38" height="4.38" fill="#949494"/>
<rect x="460.27" y="61.53" width="4.38" height="4.38" fill="#6d6d6d"/>
<rect x="463.45" y="61.53" width="4.38" height="4.38" fill="#9f9f9f"/>
<rect x="466.63" y="61.53" width="4.38" height="4.38" fill="#767676"/>
<rect x="469.81" y="61.53" width="4.38" height="4.38" fill="#969696"/>
<rect x="472.99" y="61.53" width="4.38" height="4.38" fill="#d7d7d7"/>
<rect x="476.17" y="61.53" width="4.38" height="4.38" fill="#bfbfbf"/>
<rect x="479.34" y="61.53" width="4.38" height="4.38" fill="#c4c4c4"/>
<rect x="482.52" y="61.53" width="3.18" height="4.38" fill="#b0b0b0"/>
<rect x="384.00" y="64.70" width="4.38" height="4.38" fill="#8a8a8a"/>
<rect x="387.18" y="64.70" width="4.38" height="4.38" fill="#888888"/>
<rect x="390.36" y="64.70" width="4.38" height="4.38" fill="#b6b6b6"/>
<rect x="393.53" y="64.70" width="4.38" height="4.38" fill="#c2c2c2"/>
<rect x="396.71" y="64.70" width="4.38" height="4.38" fill="#aeaeae"/>
<rect x="399.89" y="64.70" width="4.38" height="4.38" fill="#7e7e7e"/>
<rect x="403.07" y="64.70" width="4.38" height="4.38" fill="#e2e2e2"/>
<rect x="406.25" y="64.70" width="4.38" height="4.38" fill="#d2d2d2"/>
<rect x="409.43" y="64.70" width="4.38" height="4.38" fill="#949494"/>
<rect x="412.60" y="64.70" width="4.38" height="4.38" fill="#a3a3a3"/>
<rect x="415.78" y="64.70" width="4.38" height="4.38" fill="#b4b4b4"/>
<rect x="418.96" y="64.70" width="4.38" height="4.38" fill="#a0a0a0"/>
<rect x="422.14" y="64.70" width="4.38" height="4.38" fill="#989898"/>
<rect x="425.32" y="64.70" width="4.38" height="4.38" fill="#afafaf"/>
<rect x="428.49" y="64.70" width="4.38" height="4.38" fill="#9c9c9c"/>
<rect x="431.67" y="64.70" width="4.38" height="4.38" fill="#a4a4a4"/>
<rect x="434.85" y="64.70" width="4.38" height="4.38" fill="#5f5f5f"/>
<rect x="438.03" y="64.70" width="4.38" height="4.38" fill="#5f5f5f"/>
<rect x="441.21" y="64.70" width="4.38" height="4.38" fill="#dedede"/>
<rect x="444.38" y="64.70" width="4.38" height="4.38" fill="#636363"/>
<rect x="447.56" y="64.70" width="4.38" height="4.38" fill="#aeaeae"/>
<rect x="450.74" y="64.70" width="4.38" height="4.38" fill="#a8a8a8"/>
<rect x="453.92" y="64.70" width="4.38" height="4.38" fill="#a4a4a4"/>
<rect x="457.10" y="64.70" width="4.38" height="4.38" fill="#828282"/>
<rect x="460.27" y="64.70" width="4.38" height="4.38" fill="#c2c2c2"/>
<rect x="463.45" y="64.70" width="4.38" height="4.38" fill="#a9a9a9"/>
<rect x="466.63" y="64.70" width="4.38" height="4.38" fill="#8f8f8f"/>
<rect x="469.81" y="64.70" width="4.38" height="4.38" fill="#676767"/>
<rect x="472.99" y="64.70" width="4.38" height="4.38" fill="#939393"/>
<rect x="476.17" y="64.70" width="4.38" height="4.38" fill="#858585"/>
<rect x="479.34" y="64.70" width="4.38" height="4.38" fill="#6d6d6d"/>
<rect x="482.52" y="64.70" width="3.18" height="4.38" fill="#aaaaaa"/>
<rect x="384.00" y="67.88" width="4.38" height="4.38" fill="#a1a1a1"/>
<rect x="387.18" y="67.88" width="4.38" height="4.38" fill="#939393"/>
<rect x="390.36" y="67.88" width="4.38" height="4.38" fill="#c7c7c7"/>
<rect x="393.53" y="67.88" width="4.38" height="4.38" fill="#bababa"/>
<rect x="396.71" y="67.88" width="4.38" height="4.38" fill="#f4f4f4"/>
<rect x="399.89" y="67.88" width="4.38" height="4.38" fill="#b2b2b2"/>
<rect x="403.07" y="67.88" width="4.38" height="4.38" fill="#797979"/>
<rect x="406.25" y="67.88" width="4.38" height="4.38" fill="#c1c1c1"/>
<rect x="409.43" y="67.88" width="4.38" height="4.38" fill="#f5f5f5"/>
<rect x="412.60" y="67.88" width="4.38" height="4.38" fill="#a7a7a7"/>
<rect x="415.78" y="67.88" width="4.38" height="4.38" fill="#969696"/>
<rect x="418.96" y="67.88" width="4.38" height="4.38" fill="#878787"/>
<rect x="422.14" y="67.88" width="4.38" height="4.38" fill="#e5e5e5"/>
<rect x="425.32" y="67.88" width="4.38" height="4.38" fill="#969696"/>
<rect x="428.49" y="67.88" width="4.38" height="4.38" fill="#949494"/>
<rect x="431.67" y="67.88" width="4.38" height="4.38" fill="#a9a9a9"/>
<rect x="434.85" y="67.88" width="4.38" height="4.38" fill="#686868"/>
<rect x="438.03" y="67.88" width="4.38" height="4.38" fill="#939393"/>
<rect x="441.21" y="67.88" width="4.38" height="4.38" fill="#6e6e6e"/>
<rect x="444.38" y="67.88" width="4.38" height="4.38" fill="#989898"/>
<rect x="447.56" y="67.88" width="4.38" height="4.38" fill="#b0b0b0"/>
<rect x="450.74" y="67.88" width="4.38" height="4.38" fill="#c1c1c1"/>
<rect x="453.92" y="67.88" width="4.38" height="4.38" fill="#8e8e8e"/>
<rect x="457.10" y="67.88" width="4.38" height="4.38" fill="#bdbdbd"/>
<rect x="460.27" y="67.88" width="4.38" height="4.38" fill="#8f8f8f"/>
<rect x="463.45" y="67.88" width="4.38" height="4.38" fill="#5f5f5f"/>
<rect x="466.63" y="67.88" width="4.38" height="4.38" fill="#b4b4b4"/>
<rect x="469.81" y="67.88" width="4.38" height="4.38" fill="#969696"/>
<rect x="472.99" y="67.88" width="4.38" height="4.38" fill="#a2a2a2"/>
<rect x="476.17" y="67.88" width="4.38" height="4.38" fill="#3b3b3b"/>
<rect x="479.34" y="67.88" width="4.38" height="4.38" fill="#a6a6a6"/>
<rect x="482.52" y="67.88" width="3.18" height="4.38" fill="#a8a8a8"/>
<rect x="384.00" y="71.06" width="4.38" height="4.38" fill="#919191"/>
<rect x="387.18" y="71.06" width="4.38" height="4.38" fill="#f0f0f0"/>
<rect x="390.36" y="71.06" width="4.38" height="4.38" fill="#bababa"/>
<rect x="393.53" y="71.06" width="4.38" height="4.38" fill="#b4b4b4"/>
<rect x="396.71" y="71.06" width="4.38" height="4.38" fill="#414141"/>
<rect x="399.89" y="71.06" width="4.38" height="4.38" fill="#555555"/>
<rect x="403.07" y="71.06" width="4.38" height="4.38" fill="#d8d8d8"/>
<rect x="406.25" y="71.06" width="4.38" height="4.38" fill="#aeaeae"/>
<rect x="409.43" y="71.06" width="4.38" height="4.38" fill="#c2c2c2"/>
<rect x="412.60" y="71.06" width="4.38" height="4.38" fill="#919191"/>
<rect x="415.78" y="71.06" width="4.38" height="4.38" fill="#9b9b9b"/>
<rect x="418.96" y="71.06" width="4.38" height="4.38" fill="#b6b6b6"/>
<rect x="422.14" y="71.06" width="4.38" height="4.38" fill="#828282"/>
<rect x="425.32" y="71.06" width="4.38" height="4.38" fill="#d2d2d2"/>
<rect x="428.49" y="71.06" width="4.38" height="4.38" fill="#767676"/>
<rect x="431.67" y="71.06" width="4.38" height="4.38" fill="#a9a9a9"/>
<rect x="434.85" y="71.06" width="4.38" height="4.38" fill="#969696"/>
<rect x="438.03" y="71.06" width="4.38" height="4.38" fill="#aeaeae"/>
<rect x="441.21" y="71.06" width="4.38" height="4.38" fill="#d0d0d0"/>
<rect x="444.38" y="71.06" width="4.38" height="4.38" fill="#767676"/>
<rect x="447.56" y="71.06" width="4.38" height="4.38" fill="#b2b2b2"/>
<rect x="450.74" y="71.06" width="4.38" height="4.38" fill="#a6a6a6"/>
<rect x="453.92" y="71.06" width="4.38" height="4.38" fill="#c1c1c1"/>
<rect x="457.10" y="71.06" width="4.38" height="4.38" fill="#a0a0a0"/>
<rect x="460.27" y="71.06" width="4.38" height="4.38" fill="#8f8f8f"/>
<rect x="463.45" y="71.06" width="4.38" height="4.38" fill="#b4b4b4"/>
<rect x="466.63" y="71.06" width="4.38" height="4.38" fill="#d4d4d4"/>
<rect x="469.81" y="71.06" width="4.38" height="4.38" fill="#c0c0c0"/>
<rect x="472.99" y="71.06" width="4.38" height="4.38" fill="#a7a7a7"/>
<rect x="476.17" y="71.06" width="4.38" height="4.38" fill="#b2b2b2"/>
<rect x="479.34" y="71.06" width="4.38" height="4.38" fill="#676767"/>
<rect x="482.52" y="71.06" width="3.18" height="4.38" fill="#8d8d8d"/>
<rect x="384.00" y="74.24" width="4.38" height="4.38" fill="#878787"/>
<rect x="387.18" y="74.24" width="4.38" height="4.38" fill="#a0a0a0"/>
<rect x="390.36" y="74.24" width="4.38" height="4.38" fill="#b1b1b1"/>
<rect x="393.53" y="74.24" width="4.38" height="4.38" fill="#ebebeb"/>
<rect x="396.71" y="74.24" width="4.38" height="4.38" fill="#878787"/>
<rect x="399.89" y="74.24" width="4.38" height="4.38" fill="#7f7f7f"/>
<rect x="403.07" y="74.24" width="4.38" height="4.38" fill="#c7c7c7"/>
<rect x="406.25" y="74.24" width="4.38" height="4.38" fill="#a7a7a7"/>
<rect x="409.43" y="74.24" width="4.38" height="4.38" fill="#808080"/>
<rect x="412.60" y="74.24" width="4.38" height="4.38" fill="#dbdbdb"/>
<rect x="415.78" y="74.24" width="4.38" height="4.38" fill="#9a9a9a"/>
<rect x="418.96" y="74.24" width="4.38" height="4.38" fill="#959595"/>
<rect x="422.14" y="74.24" width="4.38" height="4.38" fill="#8a8a8a"/>
<rect x="425.32" y="74.24" width="4.38" height="4.38" fill="#7f7f7f"/>
<rect x="428.49" y="74.24" width="4.38" height="4.38" fill="#a5a5a5"/>
<rect x="431.67" y="74.24" width="4.38" height="4.38" fill="#7d7d7d"/>
<rect x="434.85" y="74.24" width="4.38" height="4.38" fill="#fefefe"/>
<rect x="438.03" y="74.24" width="4.38" height="4.38" fill="#aeaeae"/>
<rect x="441.21" y="74.24" width="4.38" height="4.38" fill="#989898"/>
<rect x="444.38" y="74.24" width="4.38" height="4.38" fill="#848484"/>
<rect x="447.56" y="74.24" width="4.38" height="4.38" fill="#ababab"/>
<rect x="450.74" y="74.24" width="4.38" height="4.38" fill="#c6c6c6"/>
<rect x="453.92" y="74.24" width="4.38" height="4.38" fill="#aaaaaa"/>
<rect x="457.10" y="74.24" width="4.38" height="4.38" fill="#757575"/>
<rect x="460.27" y="74.24" width="4.38" height="4.38" fill="#989898"/>
<rect x="463.45" y="74.24" width="4.38" height="4.38" fill="#606060"/>
<rect x="466.63" y="74.24" width="4.38" height="4.38" fill="#d6d6d6"/>
<rect x="469.81" y="74.24" width="4.38" height="4.38" fill="#bababa"/>
<rect x="472.99" y="74.24" width="4.38" height="4.38" fill="#a8a8a8"/>
<rect x="476.17" y="74.24" width="4.38" height="4.38" fill="#ababab"/>
<rect x="479.34" y="74.24" width="4.38" height="4.38" fill="#8b8b8b"/>
<rect x="482.52" y="74.24" width="3.18" height="4.38" fill="#9b9b9b"/>
<rect x="384.00" y="77.42" width="4.38" height="4.38" fill="#b6b6b6"/>
<rect x="387.18" y="77.42" width="4.38" height="4.38" fill="#a8a8a8"/>
<rect x="390.36" y="77.42" width="4.38" height="4.38" fill="#a9a9a9"/>
<rect x="393.53" y="77.42" width="4.38" height="4.38" fill="#acacac"/>
<rect x="396.71" y="77.42" width="4.38" height="4.38" fill="#c7c7c7"/>
<rect x="399.89" y="77.42" width="4.38" height="4.38" fill="#959595"/>
<rect x="403.07" y="77.42" width="4.38" height="4.38" fill="#bababa"/>
<rect x="406.25" y="77.42" width="4.38" height="4.38" fill="#828282"/>
<rect x="409.43" y="77.42" width="4.38" height="4.38" fill="#8a8a8a"/>
<rect x="412.60" y="77.42" width="4.38" height="4.38" fill="#858585"/>
<rect x="415.78" y="77.42" width="4.38" height="4.38" fill="#c1c1c1"/>
<rect x="418.96" y="77.42" width="4.38" height="4.38" fill="#959595"/>
<rect x="422.14" y="77.42" width="4.38" height="4.38" fill="#cfcfcf"/>
<rect x="425.32" y="77.42" width="4.38" height="4.38" fill="#7a7a7a"/>
<rect x="428.49" y="77.42" width="4.38" height="4.38" fill="#afafaf"/>
<rect x="431.67" y="77.42" width="4.38" height="4.38" fill="#757575"/>
<rect x="434.85" y="77.42" width="4.38" height="4.38" fill="#cbcbcb"/>
<rect x="438.03" y="77.42" width="4.38" height="4.38" fill="#878787"/>
<rect x="441.21" y="77.42" width="4.38" height="4.38" fill="#b2b2b2"/>
<rect x="444.38" y="77.42" width="4.38" height="4.38" fill="#878787"/>
<rect x="447.56" y="77.42" width="4.38" height="4.38" fill="#848484"/>
<rect x="450.74" y="77.42" width="4.38" height="4.38" fill="#aaaaaa"/>
<rect x="453.92" y="77.42" width="4.38" height="4.38" fill="#606060"/>
<rect x="457.10" y="77.42" width="4.38" height="4.38" fill="#747474"/>
<rect x="460.27" y="77.42" width="4.38" height="4.38" fill="#dadada"/>
<rect x="463.45" y="77.42" width="4.38" height="4.38" fill="#828282"/>
<rect x="466.63" y="77.42" width="4.38" height="4.38" fill="#bfbfbf"/>
<rect x="469.81" y="77.42" width="4.38" height="4.38" fill="#808080"/>
<rect x="472.99" y="77.42" width="4.38" height="4.38" fill="#636363"/>
<rect x="476.17" y="77.42" width="4.38" height="4.38" fill="#919191"/>
<rect x="479.34" y="77.42" width="4.38" height="4.38" fill="#c1c1c1"/>
<rect x="482.52" y="77.42" width="3.18" height="4.38" fill="#a0a0a0"/>
<rect x="384.00" y="80.59" width="4.38" height="4.38" fill="#848484"/>
<rect x="387.18" y="80.59" width="4.38" height="4.38" fill="#bcbcbc"/>
<rect x="390.36" y="80.59" width="4.38" height="4.38" fill="#acacac"/>
<rect x="393.53" y="80.59" width="4.38" height="4.38" fill="#7a7a7a"/>
<rect x="396.71" y="80.59" width="4.38" height="4.38" fill="#c3c3c3"/>
<rect x="399.89" y="80.59" width="4.38" height="4.38" fill="#cbcbcb"/>
<rect x="403.07" y="80.59" width="4.38" height="4.38" fill="#979797"/>
<rect x="406.25" y="80.59" width="4.38" height="4.38" fill="#a5a5a5"/>
<rect x="409.43" y="80.59" width="4.38" height="4.38" fill="#969696"/>
<rect x="412.60" y="80.59" width="4.38" height="4.38" fill="#767676"/>
<rect x="415.78" y="80.59" width="4.38" height="4.38" fill="#bebebe"/>
<rect x="418.96" y="80.59" width="4.38" height="4.38" fill="#7a7a7a"/>
<rect x="422.14" y="80.59" width="4.38" height="4.38" fill="#b4b4b4"/>
<rect x="425.32" y="80.59" width="4.38" height="4.38" fill="#8c8c8c"/>
<rect x="428.49" y="80.59" width="4.38" height="4.38" fill="#797979"/>
<rect x="431.67" y="80.59" width="4.38" height="4.38" fill="#b7b7b7"/>
<rect x="434.85" y="80.59" width="4.38" height="4.38" fill="#a8a8a8"/>
<rect x="438.03" y="80.59" width="4.38" height="4.38" fill="#e5e5e5"/>
<rect x="441.21" y="80.59" width="4.38" height="4.38" fill="#9d9d9d"/>
<rect x="444.38" y="80.59" width="4.38" height="4.38" fill="#a5a5a5"/>
<rect x="447.56" y="80.59" width="4.38" height="4.38" fill="#a4a4a4"/>
<rect x="450.74" y="80.59" width="4.38" height="4.38" fill="#969696"/>
<rect x="453.92" y="80.59" width="4.38" height="4.38" fill="#d1d1d1"/>
<rect x="457.10" y="80.59" width="4.38" height="4.38" fill="#d8d8d8"/>
<rect x="460.27" y="80.59" width="4.38" height="4.38" fill="#b9b9b9"/>
<rect x="463.45" y="80.59" width="4.38" height="4.38" fill="#7a7a7a"/>
<rect x="466.63" y="80.59" width="4.38" height="4.38" fill="#b1b1b1"/>
<rect x="469.81" y="80.59" width="4.38" height="4.38" fill="#a2a2a2"/>
<rect x="472.99" y="80.59" width="4.38" height="4.38" fill="#8f8f8f"/>
<rect x="476.17" y="80.59" width="4.38" height="4.38" fill="#656565"/>
<rect x="479.34" y="80.59" width="4.38" height="4.38" fill="#c1c1c1"/>
<rect x="482.52" y="80.59" width="3.18" height="4.38" fill="#cdcdcd"/>
<rect x="384.00" y="83.77" width="4.38" height="4.38" fill="#e2e2e2"/>
<rect x="387.18" y="83.77" width="4.38" height="4.38" fill="#e9e9e9"/>
<rect x="390.36" y="83.77" width="4.38" height="4.38" fill="#a8a8a8"/>
<rect x="393.53" y="83.77" width="4.38" height="4.38" fill="#343434"/>
<rect x="396.71" y="83.77" width="4.38" height="4.38" fill="#bbbbbb"/>
<rect x="399.89" y="83.77" width="4.38" height="4.38" fill="#a6a6a6"/>
<rect x="403.07" y="83.77" width="4.38" height="4.38" fill="#bababa"/>
<rect x="406.25" y="83.77" width="4.38" height="4.38" fill="#8c8c8c"/>
<rect x="409.43" y="83.77" width="4.38" height="4.38" fill="#7a7a7a"/>
<rect x="412.60" y="83.77" width="4.38" height="4.38" fill="#b3b3b3"/>
<rect x="415.78" y="83.77" width="4.38" height="4.38" fill="#959595"/>
<rect x="418.96" y="83.77" width="4.38" height="4.38" fill="#a4a4a4"/>
<rect x="422.14" y="83.77" width="4.38" height="4.38" fill="#afafaf"/>
<rect x="425.32" y="83.77" width="4.38" height="4.38" fill="#a4a4a4"/>
<rect x="428.49" y="83.77" width="4.38" height="4.38" fill="#696969"/>
<rect x="431.67" y="83.77" width="4.38" height="4.38" fill="#b5b5b5"/>
<rect x="434.85" y="83.77" width="4.38" height="4.38" fill="#8d8d8d"/>
<rect x="438.03" y="83.77" width="4.38" height="4.38" fill="#979797"/>
<rect x="441.21" y="83.77" width="4.38" height="4.38" fill="#afafaf"/>
<rect x="444.38" y="83.77" width="4.38" height="4.38" fill="#686868"/>
<rect x="447.56" y="83.77" width="4.38" height="4.38" fill="#959595"/>
<rect x="450.74" y="83.77" width="4.38" height="4.38" fill="#5a5a5a"/>
<rect x="453.92" y="83.77" width="4.38" height="4.38" fill="#8a8a8a"/>
<rect x="457.10" y="83.77" width="4.38" height="4.38" fill="#ababab"/>
<rect x="460.27" y="83.77" width="4.38" height="4.38" fill="#999999"/>
<rect x="463.45" y="83.77" width="4.38" height="4.38" fill="#949494"/>
<rect x="466.63" y="83.77" width="4.38" height="4.38" fill="#b4b4b4"/>
<rect x="469.81" y="83.77" width="4.38" height="4.38" fill="#8f8f8f"/>
<rect x="472.99" y="83.77" width="4.38" height="4.38" fill="#616161"/>
<rect x="476.17" y="83.77" width="4.38" height="4.38" fill="#c5c5c5"/>
<rect x="479.34" y="83.77" width="4.38" height="4.38" fill="#a5a5a5"/>
<rect x="482.52" y="83.77" width="3.18" height="4.38" fill="#bababa"/>
<rect x="384.00" y="86.95" width="4.38" height="4.38" fill="#808080"/>
<rect x="387.18" y="86.95" width="4.38" height="4.38" fill="#535353"/>
<rect x="390.36" y="86.95" width="4.38" height="4.38" fill="#8a8a8a"/>
<rect x="393.53" y="86.95" width="4.38" height="4.38" fill="#858585"/>
<rect x="396.71" y="86.95" width="4.38" height="4.38" fill="#d7d7d7"/>
<rect x="399.89" y="86.95" width="4.38" height="4.38" fill="#535353"/>
<rect x="403.07" y="86.95" width="4.38" height="4.38" fill="#9c9c9c"/>
<rect x="406.25" y="86.95" width="4.38" height="4.38" fill="#949494"/>
<rect x="409.43" y="86.95" width="4.38" height="4.38" fill="#989898"/>
<rect x="412.60" y="86.95" width="4.38" height="4.38" fill="#959595"/>
<rect x="415.78" y="86.95" width="4.38" height="4.38" fill="#a2a2a2"/>
<rect x="418.96" y="86.95" width="4.38" height="4.38" fill="#bababa"/>
<rect x="422.14" y="86.95" width="4.38" height="4.38" fill="#5c5c5c"/>
<rect x="425.32" y="86.95" width="4.38" height="4.38" fill="#b9b9b9"/>
<rect x="428.49" y="86.95" width="4.38" height="4.38" fill="#8f8f8f"/>
<rect x="431.67" y="86.95" width="4.38" height="4.38" fill="#747474"/>
<rect x="434.85" y="86.95" width="4.38" height="4.38" fill="#535353"/>
<rect x="438.03" y="86.95" width="4.38" height="4.38" fill="#545454"/>
<rect x="441.21" y="86.95" width="4.38" height="4.38" fill="#969696"/>
<rect x="444.38" y="86.95" width="4.38" height="4.38" fill="#6e6e6e"/>
<rect x="447.56" y="86.95" width="4.38" height="4.38" fill="#6e6e6e"/>
<rect x="450.74" y="86.95" width="4.38" height="4.38" fill="#868686"/>
<rect x="453.92" y="86.95" width="4.38" height="4.38" fill="#999999"/>
<rect x="457.10" y="86.95" width="4.38" height="4.38" fill="#878787"/>
<rect x="460.27" y="86.95" width="4.38" height="4.38" fill="#6e6e6e"/>
<rect x="463.45" y="86.95" width="4.38" height="4.38" fill="#818181"/>
<rect x="466.63" y="86.95" width="4.38" height="4.38" fill="#929292"/>
<rect x="469.81" y="86.95" width="4.38" height="4.38" fill="#717171"/>
<rect x="472.99" y="86.95" width="4.38" height="4.38" fill="#bbbbbb"/>
<rect x="476.17" y="86.95" width="4.38" height="4.38" fill="#c9c9c9"/>
<rect x="479.34" y="86.95" width="4.38" height="4.38" fill="#cacaca"/>
<rect x="482.52" y="86.95" width="3.18" height="4.38" fill="#8d8d8d"/>
<rect x="384.00" y="90.13" width="4.38" height="4.38" fill="#cdcdcd"/>
<rect x="387.18" y="90.13" width="4.38" height="4.38" fill="#878787"/>
<rect x="390.36" y="90.13" width="4.38" height="4.38" fill="#ebebeb"/>
<rect x="393.53" y="90.13" width="4.38" height="4.38" fill="#4d4d4d"/>
<rect x="396.71" y="90.13" width="4.38" height="4.38" fill="#a2a2a2"/>
<rect x="399.89" y="90.13" width="4.38" height="4.38" fill="#adadad"/>
<rect x="403.07" y="90.13" width="4.38" height="4.38" fill="#9a9a9a"/>
<rect x="406.25" y="90.13" width="4.38" height="4.38" fill="#b0b0b0"/>
<rect x="409.43" y="90.13" width="4.38" height="4.38" fill="#e5e5e5"/>
<rect x="412.60" y="90.13" width="4.38" height="4.38" fill="#989898"/>
<rect x="415.78" y="90.13" width="4.38" height="4.38" fill="#b9b9b9"/>
<rect x="418.96" y="90.13" width="4.38" height="4.38" fill="#898989"/>
<rect x="422.14" y="90.13" width="4.38" height="4.38" fill="#6b6b6b"/>
<rect x="425.32" y="90.13" width="4.38" height="4.38" fill="#737373"/>
<rect x="428.49" y="90.13" width="4.38" height="4.38" fill="#bababa"/>
<rect x="431.67" y="90.13" width="4.38" height="4.38" fill="#a7a7a7"/>
<rect x="434.85" y="90.13" width="4.38" height="4.38" fill="#656565"/>
<rect x="438.03" y="90.13" width="4.38" height="4.38" fill="#a6a6a6"/>
<rect x="441.21" y="90.13" width="4.38" height="4.38" fill="#b1b1b1"/>
<rect x="444.38" y="90.13" width="4.38" height="4.38" fill="#adadad"/>
<rect x="447.56" y="90.13" width="4.38" height="4.38" fill="#c5c5c5"/>
<rect x="450.74" y="90.13" width="4.38" height="4.38" fill="#646464"/>
<rect x="453.92" y="90.13" width="4.38" height="4.38" fill="#787878"/>
<rect x="457.10" y="90.13" width="4.38" height="4.38" fill="#737373"/>
<rect x="460.27" y="90.13" width="4.38" height="4.38" fill="#a1a1a1"/>
<rect x="463.45" y="90.13" width="4.38" height="4.38" fill="#cdcdcd"/>
<rect x="466.63" y="90.13" width="4.38" height="4.38" fill="#8b8b8b"/>
<rect x="469.81" y="90.13" width="4.38" height="4.38" fill="#a9a9a9"/>
<rect x="472.99" y="90.13" width="4.38" height="4.38" fill="#bcbcbc"/>
<rect x="476.17" y="90.13" width="4.38" height="4.38" fill="#8b8b8b"/>
<rect x="479.34" y="90.13" width="4.38" height="4.38" fill="#bababa"/>
<rect x="482.52" y="90.13" width="3.18" height="4.38" fill="#989898"/>
<rect x="384.00" y="93.31" width="4.38" height="4.38" fill="#8b8b8b"/>
<rect x="387.18" y="93.31" width="4.38" height="4.38" fill="#888888"/>
<rect x="390.36" y="93.31" width="4.38" height="4.38" fill="#e2e2e2"/>
<rect x="393.53" y="93.31" width="4.38" height="4.38" fill="#7c7c7c"/>
<rect x="396.71" y="93.31" width="4.38" height="4.38" fill="#c8c8c8"/>
<rect x="399.89" y="93.31" width="4.38" height="4.38" fill="#8d8d8d"/>
<rect x="403.07" y="93.31" width="4.38" height="4.38" fill="#717171"/>
<rect x="406.25" y="93.31" width="4.38" height="4.38" fill="#dedede"/>
<rect x="409.43" y="93.31" width="4.38" height="4.38" fill="#adadad"/>
<rect x="412.60" y="93.31" width="4.38" height="4.38" fill="#767676"/>
<rect x="415.78" y="93.31" width="4.38" height="4.38" fill="#949494"/>
<rect x="418.96" y="93.31" width="4.38" height="4.38" fill="#818181"/>
<rect x="422.14" y="93.31" width="4.38" height="4.38" fill="#797979"/>
<rect x="425.32" y="93.31" width="4.38" height="4.38" fill="#999999"/>
<rect x="428.49" y="93.31" width="4.38" height="4.38" fill="#c6c6c6"/>
<rect x="431.67" y="93.31" width="4.38" height="4.38" fill="#686868"/>
<rect x="434.85" y="93.31" width="4.38" height="4.38" fill="#b0b0b0"/>
<rect x="438.03" y="93.31" width="4.38" height="4.38" fill="#666666"/>
<rect x="441.21" y="93.31" width="4.38" height="4.38" fill="#9a9a9a"/>
<rect x="444.38" y="93.31" width="4.38" height="4.38" fill="#666666"/>
<rect x="447.56" y="93.31" width="4.38" height="4.38" fill="#6a6a6a"/>
<rect x="450.74" y="93.31" width="4.38" height="4.38" fill="#838383"/>
<rect x="453.92" y="93.31" width="4.38" height="4.38" fill="#c2c2c2"/>
<rect x="457.10" y="93.31" width="4.38" height="4.38" fill="#bbbbbb"/>
<rect x="460.27" y="93.31" width="4.38" height="4.38" fill="#979797"/>
<rect x="463.45" y="93.31" width="4.38" height="4.38" fill="#909090"/>
<rect x="466.63" y="93.31" width="4.38" height="4.38" fill="#a0a0a0"/>
<rect x="469.81" y="93.31" width="4.38" height="4.38" fill="#ffffff"/>
<rect x="472.99" y="93.31" width="4.38" height="4.38" fill="#a9a9a9"/>
<rect x="476.17" y="93.31" width="4.38" height="4.38" fill="#979797"/>
<rect x="479.34" y="93.31" width="4.38" height="4.38" fill="#8a8a8a"/>
<rect x="482.52" y="93.31" width="3.18" height="4.38" fill="#909090"/>
<rect x="384.00" y="96.48" width="4.38" height="4.38" fill="#424242"/>
<rect x="387.18" y="96.48" width="4.38" height="4.38" fill="#ebebeb"/>
<rect x="390.36" y="96.48" width="4.38" height="4.38" fill="#acacac"/>
<rect x="393.53" y="96.48" width="4.38" height="4.38" fill="#989898"/>
<rect x="396.71" y="96.48" width="4.38" height="4.38" fill="#ffffff"/>
<rect x="399.89" y="96.48" width="4.38" height="4.38" fill="#616161"/>
<rect x="403.07" y="96.48" width="4.38" height="4.38" fill="#6d6d6d"/>
<rect x="406.25" y="96.48" width="4.38" height="4.38" fill="#c6c6c6"/>
<rect x="409.43" y="96.48" width="4.38" height="4.38" fill="#9c9c9c"/>
<rect x="412.60" y="96.48" width="4.38" height="4.38" fill="#bdbdbd"/>
<rect x="415.78" y="96.48" width="4.38" height="4.38" fill="#cacaca"/>
<rect x="418.96" y="96.48" width="4.38" height="4.38" fill="#e1e1e1"/>
<rect x="422.14" y="96.48" width="4.38" height="4.38" fill="#b5b5b5"/>
<rect x="425.32" y="96.48" width="4.38" height="4.38" fill="#848484"/>
<rect x="428.49" y="96.48" width="4.38" height="4.38" fill="#5d5d5d"/>
<rect x="431.67" y="96.48" width="4.38" height="4.38" fill="#a1a1a1"/>
<rect x="434.85" y="96.48" width="4.38" height="4.38" fill="#595959"/>
<rect x="438.03" y="96.48" width="4.38" height="4.38" fill="#9e9e9e"/>
<rect x="441.21" y="96.48" width="4.38" height="4.38" fill="#7e7e7e"/>
<rect x="444.38" y="96.48" width="4.38" height="4.38" fill="#aaaaaa"/>
<rect x="447.56" y="96.48" width="4.38" height="4.38" fill="#b6b6b6"/>
<rect x="450.74" y="96.48" width="4.38" height="4.38" fill="#9a9a9a"/>
<rect x="453.92" y="96.48" width="4.38" height="4.38" fill="#686868"/>
<rect x="457.10" y="96.48" width="4.38" height="4.38" fill="#a1a1a1"/>
<rect x="460.27" y="96.48" width="4.38" height="4.38" fill="#808080"/>
<rect x="463.45" y="96.48" width="4.38" height="4.38" fill="#a7a7a7"/>
<rect x="466.63" y="96.48" width="4.38" height="4.38" fill="#8a8a8a"/>
<rect x="469.81" y="96.48" width="4.38" height="4.38" fill="#f4f4f4"/>
<rect x="472.99" y="96.48" width="4.38" height="4.38" fill="#878787"/>
<rect x="476.17" y="96.48" width="4.38" height="4.38" fill="#535353"/>
<rect x="479.34" y="96.48" width="4.38" height="4.38" fill="#797979"/>
<rect x="482.52" y="96.48" width="3.18" height="4.38" fill="#9f9f9f"/>
<rect x="384.00" y="99.66" width="4.38" height="4.38" fill="#858585"/>
<rect x="387.18" y="99.66" width="4.38" height="4.38" fill="#9c9c9c"/>
<rect x="390.36" y="99.66" width="4.38" height="4.38" fill="#6e6e6e"/>
<rect x="393.53" y="99.66" width="4.38" height="4.38" fill="#646464"/>
<rect x="396.71" y="99.66" width="4.38" height="4.38" fill="#bfbfbf"/>
<rect x="399.89" y="99.66" width="4.38" height="4.38" fill="#ababab"/>
<rect x="403.07" y="99.66" width="4.38" height="4.38" fill="#7f7f7f"/>
<rect x="406.25" y="99.66" width="4.38" height="4.38" fill="#808080"/>
<rect x="409.43" y="99.66" width="4.38" height="4.38" fill="#acacac"/>
<rect x="412.60" y="99.66" width="4.38" height="4.38" fill="#b5b5b5"/>
<rect x="415.78" y="99.66" width="4.38" height="4.38" fill="#7d7d7d"/>
<rect x="418.96" y="99.66" width="4.38" height="4.38" fill="#5b5b5b"/>
<rect x="422.14" y="99.66" width="4.38" height="4.38" fill="#bebebe"/>
<rect x="425.32" y="99.66" width="4.38" height="4.38" fill="#808080"/>
<rect x="428.49" y="99.66" width="4.38" height="4.38" fill="#565656"/>
<rect x="431.67" y="99.66" width="4.38" height="4.38" fill="#949494"/>
<rect x="434.85" y="99.66" width="4.38" height="4.38" fill="#a4a4a4"/>
<rect x="438.03" y="99.66" width="4.38" height="4.38" fill="#c0c0c0"/>
<rect x="441.21" y="99.66" width="4.38" height="4.38" fill="#8b8b8b"/>
<rect x="444.38" y="99.66" width="4.38" height="4.38" fill="#a6a6a6"/>
<rect x="447.56" y="99.66" width="4.38" height="4.38" fill="#6b6b6b"/>
<rect x="450.74" y="99.66" width="4.38" height="4.38" fill="#adadad"/>
<rect x="453.92" y="99.66" width="4.38" height="4.38" fill="#616161"/>
<rect x="457.10" y="99.66" width="4.38" height="4.38" fill="#b3b3b3"/>
<rect x="460.27" y="99.66" width="4.38" height="4.38" fill="#a2a2a2"/>
<rect x="463.45" y="99.66" width="4.38" height="4.38" fill="#626262"/>
<rect x="466.63" y="99.66" width="4.38" height="4.38" fill="#848484"/>
<rect x="469.81" y="99.66" width="4.38" height="4.38" fill="#dadada"/>
<rect x="472.99" y="99.66" width="4.38" height="4.38" fill="#737373"/>
<rect x="476.17" y="99.66" width="4.38" height="4.38" fill="#5d5d5d"/>
<rect x="479.34" y="99.66" width="4.38" height="4.38" fill="#919191"/>
<rect x="482.52" y="99.66" width="3.18" height="4.38" fill="#a2a2a2"/>
<rect x="384.00" y="102.84" width="4.38" height="4.38" fill="#8a8a8a"/>
<rect x="387.18" y="102.84" width="4.38" height="4.38" fill="#939393"/>
<rect x="390.36" y="102.84" width="4.38" height="4.38" fill="#b9b9b9"/>
<rect x="393.53" y="102.84" width="4.38" height="4.38" fill="#959595"/>
<rect x="396.71" y="102.84" width="4.38" height="4.38" fill="#b1b1b1"/>
<rect x="399.89" y="102.84" width="4.38" height="4.38" fill="#585858"/>
<rect x="403.07" y="102.84" width="4.38" height="4.38" fill="#8e8e8e"/>
<rect x="406.25" y="102.84" width="4.38" height="4.38" fill="#989898"/>
<rect x="409.43" y="102.84" width="4.38" height="4.38" fill="#c3c3c3"/>
<rect x="412.60" y="102.84" width="4.38" height="4.38" fill="#adadad"/>
<rect x="415.78" y="102.84" width="4.38" height="4.38" fill="#a4a4a4"/>
<rect x="418.96" y="102.84" width="4.38" height="4.38" fill="#c5c5c5"/>
<rect x="422.14" y="102.84" width="4.38" height="4.38" fill="#a2a2a2"/>
<rect x="425.32" y="102.84" width="4.38" height="4.38" fill="#ffffff"/>
<rect x="428.49" y="102.84" width="4.38" height="4.38" fill="#797979"/>
<rect x="431.67" y="102.84" width="4.38" height="4.38" fill="#a0a0a0"/>
<rect x="434.85" y="102.84" width="4.38" height="4.38" fill="#e2e2e2"/>
<rect x="438.03" y="102.84" width="4.38" height="4.38" fill="#bababa"/>
<rect x="441.21" y="102.84" width="4.38" height="4.38" fill="#a8a8a8"/>
<rect x="444.38" y="102.84" width="4.38" height="4.38" fill="#c2c2c2"/>
<rect x="447.56" y="102.84" width="4.38" height="4.38" fill="#8a8a8a"/>
<rect x="450.74" y="102.84" width="4.38" height="4.38" fill="#a1a1a1"/>
<rect x="453.92" y="102.84" width="4.38" height="4.38" fill="#a3a3a3"/>
<rect x="457.10" y="102.84" width="4.38" height="4.38" fill="#e6e6e6"/>
<rect x="460.27" y="102.84" width="4.38" height="4.38" fill="#a9a9a9"/>
<rect x="463.45" y="102.84" width="4.38" height="4.38" fill="#ebebeb"/>
<rect x="466.63" y="102.84" width="4.38" height="4.38" fill="#9b9b9b"/>
<rect x="469.81" y="102.84" width="4.38" height="4.38" fill="#a6a6a6"/>
<rect x="472.99" y="102.84" width="4.38" height="4.38" fill="#5c5c5c"/>
<rect x="476.17" y="102.84" width="4.38" height="4.38" fill="#b4b4b4"/>
<rect x="479.34" y="102.84" width="4.38" height="4.38" fill="#515151"/>
<rect x="482.52" y="102.84" width="3.18" height="4.38" fill="#b6b6b6"/>
<rect x="384.00" y="106.02" width="4.38" height="4.38" fill="#747474"/>
<rect x="387.18" y="106.02" width="4.38" height="4.38" fill="#919191"/>
<rect x="390.36" y="106.02" width="4.38" height="4.38" fill="#373737"/>
<rect x="393.53" y="106.02" width="4.38" height="4.38" fill="#818181"/>
<rect x="396.71" y="106.02" width="4.38" height="4.38" fill="#a5a5a5"/>
<rect x="399.89" y="106.02" width="4.38" height="4.38" fill="#9c9c9c"/>
<rect x="403.07" y="106.02" width="4.38" height="4.38" fill="#8e8e8e"/>
<rect x="406.25" y="106.02" width="4.38" height="4.38" fill="#cdcdcd"/>
<rect x="409.43" y="106.02" width="4.38" height="4.38" fill="#a9a9a9"/>
<rect x="412.60" y="106.02" width="4.38" height="4.38" fill="#9c9c9c"/>
<rect x="415.78" y="106.02" width="4.38" height="4.38" fill="#a3a3a3"/>
<rect x="418.96" y="106.02" width="4.38" height="4.38" fill="#737373"/>
<rect x="422.14" y="106.02" width="4.38" height="4.38" fill="#959595"/>
<rect x="425.32" y="106.02" width="4.38" height="4.38" fill="#515151"/>
<rect x="428.49" y="106.02" width="4.38" height="4.38" fill="#323232"/>
<rect x="431.67" y="106.02" width="4.38" height="4.38" fill="#8e8e8e"/>
<rect x="434.85" y="106.02" width="4.38" height="4.38" fill="#bebebe"/>
<rect x="438.03" y="106.02" width="4.38" height="4.38" fill="#717171"/>
<rect x="441.21" y="106.02" width="4.38" height="4.38" fill="#aaaaaa"/>
<rect x="444.38" y="106.02" width="4.38" height="4.38" fill="#585858"/>
<rect x="447.56" y="106.02" width="4.38" height="4.38" fill="#9a9a9a"/>
<rect x="450.74" y="106.02" width="4.38" height="4.38" fill="#9c9c9c"/>
<rect x="453.92" y="106.02" width="4.38" height="4.38" fill="#9b9b9b"/>
<rect x="457.10" y="106.02" width="4.38" height="4.38" fill="#646464"/>
<rect x="460.27" y="106.02" width="4.38" height="4.38" fill="#b0b0b0"/>
<rect x="463.45" y="106.02" width="4.38" height="4.38" fill="#b5b5b5"/>
<rect x="466.63" y="106.02" width="4.38" height="4.38" fill="#b0b0b0"/>
<rect x="469.81" y="106.02" width="4.38" height="4.38" fill="#f2f2f2"/>
<rect x="472.99" y="106.02" width="4.38" height="4.38" fill="#8e8e8e"/>
<rect x="476.17" y="106.02" width="4.38" height="4.38" fill="#a3a3a3"/>
<rect x="479.34" y="106.02" width="4.38" height="4.38" fill="#cacaca"/>
<rect x="482.52" y="106.02" width="3.18" height="4.38" fill="#686868"/>
<rect x="384.00" y="109.20" width="4.38" height="4.38" fill="#8e8e8e"/>
<rect x="387.18" y="109.20" width="4.38" height="4.38" fill="#7d7d7d"/>
<rect x="390.36" y="109.20" width="4.38" height="4.38" fill="#aeaeae"/>
<rect x="393.53" y="109.20" width="4.38" height="4.38" fill="#686868"/>
<rect x="396.71" y="109.20" width="4.38" height="4.38" fill="#a1a1a1"/>
<rect x="399.89" y="109.20" width="4.38" height="4.38" fill="#747474"/>
<rect x="403.07" y="109.20" width="4.38" height="4.38" fill="#838383"/>
<rect x="406.25" y="109.20" width="4.38" height="4.38" fill="#373737"/>
<rect x="409.43" y="109.20" width="4.38" height="4.38" fill="#a4a4a4"/>
<rect x="412.60" y="109.20" width="4.38" height="4.38" fill="#a5a5a5"/>
<rect x="415.78" y="109.20" width="4.38" height="4.38" fill="#959595"/>
<rect x="418.96" y="109.20" width="4.38" height="4.38" fill="#838383"/>
<rect x="422.14" y="109.20" width="4.38" height="4.38" fill="#a5a5a5"/>
<rect x="425.32" y="109.20" width="4.38" height="4.38" fill="#d4d4d4"/>
<rect x="428.49" y="109.20" width="4.38" height="4.38" fill="#bdbdbd"/>
<rect x="431.67" y="109.20" width="4.38" height="4.38" fill="#818181"/>
<rect x="434.85" y="109.20" width="4.38" height="4.38" fill="#a5a5a5"/>
<rect x="438.03" y="109.20" width="4.38" height="4.38" fill="#929292"/>
<rect x="441.21" y="109.20" width="4.38" height="4.38" fill="#b1b1b1"/>
<rect x="444.38" y="109.20" width="4.38" height="4.38" fill="#7e7e7e"/>
<rect x="447.56" y="109.20" width="4.38" height="4.38" fill="#d5d5d5"/>
<rect x="450.74" y="109.20" width="4.38" height="4.38" fill="#7f7f7f"/>
<rect x="453.92" y="109.20" width="4.38" height="4.38" fill="#767676"/>
<rect x="457.10" y="109.20" width="4.38" height="4.38" fill="#aaaaaa"/>
<rect x="460.27" y="109.20" width="4.38" height="4.38" fill="#dbdbdb"/>
<rect x="463.45" y="109.20" width="4.38" height="4.38" fill="#5d5d5d"/>
<rect x="466.63" y="109.20" width="4.38" height="4.38" fill="#9f9f9f"/>
<rect x="469.81" y="109.20" width="4.38" height="4.38" fill="#b4b4b4"/>
<rect x="472.99" y="109.20" width="4.38" height="4.38" fill="#ffffff"/>
<rect x="476.17" y="109.20" width="4.38" height="4.38" fill="#646464"/>
<rect x="479.34" y="109.20" width="4.38" height="4.38" fill="#c7c7c7"/>
<rect x="482.52" y="109.20" width="3.18" height="4.38" fill="#818181"/>
<rect x="384.00" y="112.38" width="4.38" height="4.38" fill="#9f9f9f"/>
<rect x="387.18" y="112.38" width="4.38" height="4.38" fill="#696969"/>
<rect x="390.36" y="112.38" width="4.38" height="4.38" fill="#949494"/>
<rect x="393.53" y="112.38" width="4.38" height="4.38" fill="#8e8e8e"/>
<rect x="396.71" y="112.38" width="4.38" height="4.38" fill="#a3a3a3"/>
<rect x="399.89" y="112.38" width="4.38" height="4.38" fill="#797979"/>
<rect x="403.07" y="112.38" width="4.38" height="4.38" fill="#828282"/>
<rect x="406.25" y="112.38" width="4.38" height="4.38" fill="#8f8f8f"/>
<rect x="409.43" y="112.38" width="4.38" height="4.38" fill="#9d9d9d"/>
<rect x="412.60" y="112.38" width="4.38" height="4.38" fill="#969696"/>
<rect x="415.78" y="112.38" width="4.38" height="4.38" fill="#acacac"/>
<rect x="418.96" y="112.38" width="4.38" height="4.38" fill="#b4b4b4"/>
<rect x="422.14" y="112.38" width="4.38" height="4.38" fill="#a8a8a8"/>
<rect x="425.32" y="112.38" width="4.38" height="4.38" fill="#838383"/>
<rect x="428.49" y="112.38" width="4.38" height="4.38" fill="#616161"/>
<rect x="431.67" y="112.38" width="4.38" height="4.38" fill="#7a7a7a"/>
<rect x="434.85" y="112.38" width="4.38" height="4.38" fill="#828282"/>
<rect x="438.03" y="112.38" width="4.38" height="4.38" fill="#919191"/>
<rect x="441.21" y="112.38" width="4.38" height="4.38" fill="#bebebe"/>
<rect x="444.38" y="112.38" width="4.38" height="4.38" fill="#989898"/>
<rect x="447.56" y="112.38" width="4.38" height="4.38" fill="#767676"/>
<rect x="450.74" y="112.38" width="4.38" height="4.38" fill="#686868"/>
<rect x="453.92" y="112.38" width="4.38" height="4.38" fill="#969696"/>
<rect x="457.10" y="112.38" width="4.38" height="4.38" fill="#909090"/>
<rect x="460.27" y="112.38" width="4.38" height="4.38" fill="#717171"/>
<rect x="463.45" y="112.38" width="4.38" height="4.38" fill="#5b5b5b"/>
<rect x="466.63" y="112.38" width="4.38" height="4.38" fill="#8c8c8c"/>
<rect x="469.81" y="112.38" width="4.38" height="4.38" fill="#a8a8a8"/>
<rect x="472.99" y="112.38" width="4.38" height="4.38" fill="#a1a1a1"/>
<rect x="476.17" y="112.38" width="4.38" height="4.38" fill="#626262"/>
<rect x="479.34" y="112.38" width="4.38" height="4.38" fill="#898989"/>
<rect x="482.52" y="112.38" width="3.18" height="4.38" fill="#929292"/>
<rect x="384.00" y="115.55" width="4.38" height="4.38" fill="#818181"/>
<rect x="387.18" y="115.55" width="4.38" height="4.38" fill="#bcbcbc"/>
<rect x="390.36" y="115.55" width="4.38" height="4.38" fill="#808080"/>
<rect x="393.53" y="115.55" width="4.38" height="4.38" fill="#d6d6d6"/>
<rect x="396.71" y="115.55" width="4.38" height="4.38" fill="#c0c0c0"/>
<rect x="399.89" y="115.55" width="4.38" height="4.38" fill="#a8a8a8"/>
<rect x="403.07" y="115.55" width="4.38" height="4.38" fill="#a4a4a4"/>
<rect x="406.25" y="115.55" width="4.38" height="4.38" fill="#d0d0d0"/>
<rect x="409.43" y="115.55" width="4.38" height="4.38" fill="#8d8d8d"/>
<rect x="412.60" y="115.55" width="4.38" height="4.38" fill="#ababab"/>
<rect x="415.78" y="115.55" width="4.38" height="4.38" fill="#929292"/>
<rect x="418.96" y="115.55" width="4.38" height="4.38" fill="#d5d5d5"/>
<rect x="422.14" y="115.55" width="4.38" height="4.38" fill="#909090"/>
<rect x="425.32" y="115.55" width="4.38" height="4.38" fill="#929292"/>
<rect x="428.49" y="115.55" width="4.38" height="4.38" fill="#383838"/>
<rect x="431.67" y="115.55" width="4.38" height="4.38" fill="#a5a5a5"/>
<rect x="434.85" y="115.55" width="4.38" height="4.38" fill="#8e8e8e"/>
<rect x="438.03" y="115.55" width="4.38" height="4.38" fill="#b1b1b1"/>
<rect x="441.21" y="115.55" width="4.38" height="4.38" fill="#646464"/>
<rect x="444.38" y="115.55" width="4.38" height="4.38" fill="#7b7b7b"/>
<rect x="447.56" y="115.55" width="4.38" height="4.38" fill="#cdcdcd"/>
<rect x="450.74" y="115.55" width="4.38" height="4.38" fill="#7e7e7e"/>
<rect x="453.92" y="115.55" width="4.38" height="4.38" fill="#a3a3a3"/>
<rect x="457.10" y="115.55" width="4.38" height="4.38" fill="#bebebe"/>
<rect x="460.27" y="115.55" width="4.38" height="4.38" fill="#9e9e9e"/>
<rect x="463.45" y="115.55" width="4.38" height="4.38" fill="#9e9e9e"/>
<rect x="466.63" y="115.55" width="4.38" height="4.38" fill="#c9c9c9"/>
<rect x="469.81" y="115.55" width="4.38" height="4.38" fill="#878787"/>
<rect x="472.99" y="115.55" width="4.38" height="4.38" fill="#b1b1b1"/>
<rect x="476.17" y="115.55" width="4.38" height="4.38" fill="#919191"/>
<rect x="479.34" y="115.55" width="4.38" height="4.38" fill="#717171"/>
<rect x="482.52" y="115.55" width="3.18" height="4.38" fill="#9d9d9d"/>
<rect x="384.00" y="118.73" width="4.38" height="4.38" fill="#818181"/>
<rect x="387.18" y="118.73" width="4.38" height="4.38" fill="#949494"/>
<rect x="390.36" y="118.73" width="4.38" height="4.38" fill="#8a8a8a"/>
<rect x="393.53" y="118.73" width="4.38" height="4.38" fill="#afafaf"/>
<rect x="396.71" y="118.73" width="4.38" height="4.38" fill="#767676"/>
<rect x="399.89" y="118.73" width="4.38" height="4.38" fill="#bebebe"/>
<rect x="403.07" y="118.73" width="4.38" height="4.38" fill="#acacac"/>
<rect x="406.25" y="118.73" width="4.38" height="4.38" fill="#cacaca"/>
<rect x="409.43" y="118.73" width="4.38" height="4.38" fill="#8b8b8b"/>
<rect x="412.60" y="118.73" width="4.38" height="4.38" fill="#c0c0c0"/>
<rect x="415.78" y="118.73" width="4.38" height="4.38" fill="#767676"/>
<rect x="418.96" y="118.73" width="4.38" height="4.38" fill="#b3b3b3"/>
<rect x="422.14" y="118.73" width="4.38" height="4.38" fill="#939393"/>
<rect x="425.32" y="118.73" width="4.38" height="4.38" fill="#727272"/>
<rect x="428.49" y="118.73" width="4.38" height="4.38" fill="#bababa"/>
<rect x="431.67" y="118.73" width="4.38" height="4.38" fill="#d3d3d3"/>
<rect x="434.85" y="118.73" width="4.38" height="4.38" fill="#e0e0e0"/>
<rect x="438.03" y="118.73" width="4.38" height="4.38" fill="#adadad"/>
<rect x="441.21" y="118.73" width="4.38" height="4.38" fill="#939393"/>
<rect x="444.38" y="118.73" width="4.38" height="4.38" fill="#d4d4d4"/>
<rect x="447.56" y="118.73" width="4.38" height="4.38" fill="#787878"/>
<rect x="450.74" y="118.73" width="4.38" height="4.38" fill="#a1a1a1"/>
<rect x="453.92" y="118.73" width="4.38" height="4.38" fill="#646464"/>
<rect x="457.10" y="118.73" width="4.38" height="4.38" fill="#a1a1a1"/>
<rect x="460.27" y="118.73" width="4.38" height="4.38" fill="#a6a6a6"/>
<rect x="463.45" y="118.73" width="4.38" height="4.38" fill="#8d8d8d"/>
<rect x="466.63" y="118.73" width="4.38" height="4.38" fill="#c4c4c4"/>
<rect x="469.81" y="118.73" width="4.38" height="4.38" fill="#979797"/>
<rect x="472.99" y="118.73" width="4.38" height="4.38" fill="#aeaeae"/>
<rect x="476.17" y="118.73" width="4.38" height="4.38" fill="#b0b0b0"/>
<rect x="479.34" y="118.73" width="4.38" height="4.38" fill="#979797"/>
<rect x="482.52" y="118.73" width="3.18" height="4.38" fill="#3b3b3b"/>
<rect x="384.00" y="121.91" width="4.38" height="4.38" fill="#757575"/>
<rect x="387.18" y="121.91" width="4.38" height="4.38" fill="#9e9e9e"/>
<rect x="390.36" y="121.91" width="4.38" height="4.38" fill="#636363"/>
<rect x="393.53" y="121.91" width="4.38" height="4.38" fill="#b3b3b3"/>
<rect x="396.71" y="121.91" width="4.38" height="4.38" fill="#b3b3b3"/>
<rect x="399.89" y="121.91" width="4.38" height="4.38" fill="#ababab"/>
<rect x="403.07" y="121.91" width="4.38" height="4.38" fill="#898989"/>
<rect x="406.25" y="121.91" width="4.38" height="4.38" fill="#a7a7a7"/>
<rect x="409.43" y="121.91" width="4.38" height="4.38" fill="#6c6c6c"/>
<rect x="412.60" y="121.91" width="4.38" height="4.38" fill="#7e7e7e"/>
<rect x="415.78" y="121.91" width="4.38" height="4.38" fill="#acacac"/>
<rect x="418.96" y="121.91" width="4.38" height="4.38" fill="#828282"/>
<rect x="422.14" y="121.91" width="4.38" height="4.38" fill="#929292"/>
<rect x="425.32" y="121.91" width="4.38" height="4.38" fill="#9b9b9b"/>
<rect x="428.49" y="121.91" width="4.38" height="4.38" fill="#c3c3c3"/>
<rect x="431.67" y="121.91" width="4.38" height="4.38" fill="#828282"/>
<rect x="434.85" y="121.91" width="4.38" height="4.38" fill="#868686"/>
<rect x="438.03" y="121.91" width="4.38" height="4.38" fill="#818181"/>
<rect x="441.21" y="121.91" width="4.38" height="4.38" fill="#5c5c5c"/>
<rect x="444.38" y="121.91" width="4.38" height="4.38" fill="#a2a2a2"/>
<rect x="447.56" y="121.91" width="4.38" height="4.38" fill="#4d4d4d"/>
<rect x="450.74" y="121.91" width="4.38" height="4.38" fill="#7c7c7c"/>
<rect x="453.92" y="121.91" width="4.38" height="4.38" fill="#cccccc"/>
<rect x="457.10" y="121.91" width="4.38" height="4.38" fill="#9b9b9b"/>
<rect x="460.27" y="121.91" width="4.38" height="4.38" fill="#454545"/>
<rect x="463.45" y="121.91" width="4.38" height="4.38" fill="#757575"/>
<rect x="466.63" y="121.91" width="4.38" height="4.38" fill="#d9d9d9"/>
<rect x="469.81" y="121.91" width="4.38" height="4.38" fill="#909090"/>
<rect x="472.99" y="121.91" width="4.38" height="4.38" fill="#e0e0e0"/>
<rect x="476.17" y="121.91" width="4.38" height="4.38" fill="#858585"/>
<rect x="479.34" y="121.91" width="4.38" height="4.38" fill="#3e3e3e"/>
<rect x="482.52" y="121.91" width="3.18" height="4.38" fill="#a4a4a4"/>
<rect x="384.00" y="125.09" width="4.38" height="4.38" fill="#727272"/>
<rect x="387.18" y="125.09" width="4.38" height="4.38" fill="#727272"/>
<rect x="390.36" y="125.09" width="4.38" height="4.38" fill="#848484"/>
<rect x="393.53" y="125.09" width="4.38" height="4.38" fill="#727272"/>
<rect x="396.71" y="125.09" width="4.38" height="4.38" fill="#bababa"/>
<rect x="399.89" y="125.09" width="4.38" height="4.38" fill="#c4c4c4"/>
<rect x="403.07" y="125.09" width="4.38" height="4.38" fill="#929292"/>
<rect x="406.25" y="125.09" width="4.38" height="4.38" fill="#bebebe"/>
<rect x="409.43" y="125.09" width="4.38" height="4.38" fill="#808080"/>
<rect x="412.60" y="125.09" width="4.38" height="4.38" fill="#8e8e8e"/>
<rect x="415.78" y="125.09" width="4.38" height="4.38" fill="#5b5b5b"/>
<rect x="418.96" y="125.09" width="4.38" height="4.38" fill="#c9c9c9"/>
<rect x="422.14" y="125.09" width="4.38" height="4.38" fill="#868686"/>
<rect x="425.32" y="125.09" width="4.38" height="4.38" fill="#cacaca"/>
<rect x="428.49" y="125.09" width="4.38" height="4.38" fill="#cacaca"/>
<rect x="431.67" y="125.09" width="4.38" height="4.38" fill="#aeaeae"/>
<rect x="434.85" y="125.09" width="4.38" height="4.38" fill="#a4a4a4"/>
<rect x="438.03" y="125.09" width="4.38" height="4.38" fill="#747474"/>
<rect x="441.21" y="125.09" width="4.38" height="4.38" fill="#bcbcbc"/>
<rect x="444.38" y="125.09" width="4.38" height="4.38" fill="#b3b3b3"/>
<rect x="447.56" y="125.09" width="4.38" height="4.38" fill="#c5c5c5"/>
<rect x="450.74" y="125.09" width="4.38" height="4.38" fill="#a9a9a9"/>
<rect x="453.92" y="125.09" width="4.38" height="4.38" fill="#6d6d6d"/>
<rect x="457.10" y="125.09" width="4.38" height="4.38" fill="#717171"/>
<rect x="460.27" y="125.09" width="4.38" height="4.38" fill="#bfbfbf"/>
<rect x="463.45" y="125.09" width="4.38" height="4.38" fill="#dadada"/>
<rect x="466.63" y="125.09" width="4.38" height="4.38" fill="#929292"/>
<rect x="469.81" y="125.09" width="4.38" height="4.38" fill="#999999"/>
<rect x="472.99" y="125.09" width="4.38" height="4.38" fill="#a8a8a8"/>
<rect x="476.17" y="125.09" width="4.38" height="4.38" fill="#a4a4a4"/>
<rect x="479.34" y="125.09" width="4.38" height="4.38" fill="#a7a7a7"/>
<rect x="482.52" y="125.09" width="3.18" height="4.38" fill="#929292"/>
<rect x="384.00" y="128.27" width="4.38" height="4.38" fill="#979797"/>
<rect x="387.18" y="128.27" width="4.38" height="4.38" fill="#b5b5b5"/>
<rect x="390.36" y="128.27" width="4.38" height="4.38" fill="#9d9d9d"/>
<rect x="393.53" y="128.27" width="4.38" height="4.38" fill="#848484"/>
<rect x="396.71" y="128.27" width="4.38" height="4.38" fill="#a6a6a6"/>
<rect x="399.89" y="128.27" width="4.38" height="4.38" fill="#727272"/>
<rect x="403.07" y="128.27" width="4.38" height="4.38" fill="#828282"/>
<rect x="406.25" y="128.27" width="4.38" height="4.38" fill="#747474"/>
<rect x="409.43" y="128.27" width="4.38" height="4.38" fill="#a6a6a6"/>
<rect x="412.60" y="128.27" width="4.38" height="4.38" fill="#b3b3b3"/>
<rect x="415.78" y="128.27" width="4.38" height="4.38" fill="#8d8d8d"/>
<rect x="418.96" y="128.27" width="4.38" height="4.38" fill="#797979"/>
<rect x="422.14" y="128.27" width="4.38" height="4.38" fill="#adadad"/>
<rect x="425.32" y="128.27" width="4.38" height="4.38" fill="#a4a4a4"/>
<rect x="428.49" y="128.27" width="4.38" height="4.38" fill="#606060"/>
<rect x="431.67" y="128.27" width="4.38" height="4.38" fill="#bfbfbf"/>
<rect x="434.85" y="128.27" width="4.38" height="4.38" fill="#bebebe"/>
<rect x="438.03" y="128.27" width="4.38" height="4.38" fill="#919191"/>
<rect x="441.21" y="128.27" width="4.38" height="4.38" fill="#989898"/>
<rect x="444.38" y="128.27" width="4.38" height="4.38" fill="#979797"/>
<rect x="447.56" y="128.27" width="4.38" height="4.38" fill="#888888"/>
<rect x="450.74" y="128.27" width="4.38" height="4.38" fill="#ababab"/>
<rect x="453.92" y="128.27" width="4.38" height="4.38" fill="#7f7f7f"/>
<rect x="457.10" y="128.27" width="4.38" height="4.38" fill="#8e8e8e"/>
<rect x="460.27" y="128.27" width="4.38" height="4.38" fill="#9f9f9f"/>
<rect x="463.45" y="128.27" width="4.38" height="4.38" fill="#5a5a5a"/>
<rect x="466.63" y="128.27" width="4.38" height="4.38" fill="#868686"/>
<rect x="469.81" y="128.27" width="4.38" height="4.38" fill="#6a6a6a"/>
<rect x="472.99" y="128.27" width="4.38" height="4.38" fill="#888888"/>
<rect x="476.17" y="128.27" width="4.38" height="4.38" fill="#868686"/>
<rect x="479.34" y="128.27" width="4.38" height="4.38" fill="#919191"/>
<rect x="482.52" y="128.27" width="3.18" height="4.38" fill="#9d9d9d"/>
<rect x="384.00" y="131.44" width="4.38" height="4.38" fill="#575757"/>
<rect x="387.18" y="131.44" width="4.38" height="4.38" fill="#bababa"/>
<rect x="390.36" y="131.44" width="4.38" height="4.38" fill="#949494"/>
<rect x="393.53" y="131.44" width="4.38" height="4.38" fill="#b5b5b5"/>
<rect x="396.71" y="131.44" width="4.38" height="4.38" fill="#4f4f4f"/>
<rect x="399.89" y="131.44" width="4.38" height="4.38" fill="#cbcbcb"/>
<rect x="403.07" y="131.44" width="4.38" height="4.38" fill="#8c8c8c"/>
<rect x="406.25" y="131.44" width="4.38" height="4.38" fill="#a3a3a3"/>
<rect x="409.43" y="131.44" width="4.38" height="4.38" fill="#9b9b9b"/>
<rect x="412.60" y="131.44" width="4.38" height="4.38" fill="#949494"/>
<rect x="415.78" y="131.44" width="4.38" height="4.38" fill="#858585"/>
<rect x="418.96" y="131.44" width="4.38" height="4.38" fill="#4b4b4b"/>
<rect x="422.14" y="131.44" width="4.38" height="4.38" fill="#c6c6c6"/>
<rect x="425.32" y="131.44" width="4.38" height="4.38" fill="#dddddd"/>
<rect x="428.49" y="131.44" width="4.38" height="4.38" fill="#808080"/>
<rect x="431.67" y="131.44" width="4.38" height="4.38" fill="#cacaca"/>
<rect x="434.85" y="131.44" width="4.38" height="4.38" fill="#bbbbbb"/>
<rect x="438.03" y="131.44" width="4.38" height="4.38" fill="#a5a5a5"/>
<rect x="441.21" y="131.44" width="4.38" height="4.38" fill="#939393"/>
<rect x="444.38" y="131.44" width="4.38" height="4.38" fill="#afafaf"/>
<rect x="447.56" y="131.44" width="4.38" height="4.38" fill="#808080"/>
<rect x="450.74" y="131.44" width="4.38" height="4.38" fill="#8c8c8c"/>
<rect x="453.92" y="131.44" width="4.38" height="4.38" fill="#848484"/>
<rect x="457.10" y="131.44" width="4.38" height="4.38" fill="#7d7d7d"/>
<rect x="460.27" y="131.44" width="4.38" height="4.38" fill="#848484"/>
<rect x="463.45" y="131.44" width="4.38" height="4.38" fill="#b0b0b0"/>
<rect x="466.63" y="131.44" width="4.38" height="4.38" fill="#b2b2b2"/>
<rect x="469.81" y="131.44" width="4.38" height="4.38" fill="#7a7a7a"/>
<rect x="472.99" y="131.44" width="4.38" height="4.38" fill="#969696"/>
<rect x="476.17" y="131.44" width="4.38" height="4.38" fill="#929292"/>
<rect x="479.34" y="131.44" width="4.38" height="4.38" fill="#575757"/>
<rect x="482.52" y="131.44" width="3.18" height="4.38" fill="#c4c4c4"/>
<rect x="384.00" y="134.62" width="4.38" height="3.18" fill="#424242"/>
<rect x="387.18" y="134.62" width="4.38" height="3.18" fill="#7c7c7c"/>
<rect x="390.36" y="134.62" width="4.38" height="3.18" fill="#b7b7b7"/>
<rect x="393.53" y="134.62" width="4.38" height="3.18" fill="#aaaaaa"/>
<rect x="396.71" y="134.62" width="4.38" height="3.18" fill="#adadad"/>
<rect x="399.89" y="134.62" width="4.38" height="3.18" fill="#989898"/>
<rect x="403.07" y="134.62" width="4.38" height="3.18" fill="#e8e8e8"/>
<rect x="406.25" y="134.62" width="4.38" height="3.18" fill="#9d9d9d"/>
<rect x="409.43" y="134.62" width="4.38" height="3.18" fill="#a7a7a7"/>
<rect x="412.60" y="134.62" width="4.38" height="3.18" fill="#7f7f7f"/>
<rect x="415.78" y="134.62" width="4.38" height="3.18" fill="#7c7c7c"/>
<rect x="418.96" y="134.62" width="4.38" height="3.18" fill="#cfcfcf"/>
<rect x="422.14" y="134.62" width="4.38" height="3.18" fill="#cfcfcf"/>
<rect x="425.32" y="134.62" width="4.38" height="3.18" fill="#575757"/>
<rect x="428.49" y="134.62" width="4.38" height="3.18" fill="#868686"/>
<rect x="431.67" y="134.62" width="4.38" height="3.18" fill="#cbcbcb"/>
<rect x="434.85" y="134.62" width="4.38" height="3.18" fill="#9f9f9f"/>
<rect x="438.03" y="134.62" width="4.38" height="3.18" fill="#c0c0c0"/>
<rect x="441.21" y="134.62" width="4.38" height="3.18" fill="#575757"/>
<rect x="444.38" y="134.62" width="4.38" height="3.18" fill="#a3a3a3"/>
<rect x="447.56" y="134.62" width="4.38" height="3.18" fill="#9c9c9c"/>
<rect x="450.74" y="134.62" width="4.38" height="3.18" fill="#9e9e9e"/>
<rect x="453.92" y="134.62" width="4.38" height="3.18" fill="#838383"/>
<rect x="457.10" y="134.62" width="4.38" height="3.18" fill="#9a9a9a"/>
<rect x="460.27" y="134.62" width="4.38" height="3.18" fill="#dfdfdf"/>
<rect x="463.45" y="134.62" width="4.38" height="3.18" fill="#737373"/>
<rect x="466.63" y="134.62" width="4.38" height="3.18" fill="#999999"/>
<rect x="469.81" y="134.62" width="4.38" height="3.18" fill="#909090"/>
<rect x="472.99" y="134.62" width="4.38" height="3.18" fill="#929292"/>
<rect x="476.17" y="134.62" width="4.38" height="3.18" fill="#e1e1e1"/>
<rect x="479.34" y="134.62" width="4.38" height="3.18" fill="#d8d8d8"/>
<rect x="482.52" y="134.62" width="3.18" height="3.18" fill="#8e8e8e"/>
</g>
<rect x="384.00" y="36.10" width="101.70" height="101.70" fill="none" stroke="#000" stroke-opacity="0.55" stroke-width="0.5"/>
<g stroke="#00ffff" fill="#00ffff">
<line x1="49.6" y1="130.7" x2="73.8" y2="130.7" stroke-width="1.8"/>
<path d="M138.2 131.0 L138.2 116.5 M138.2 131.0 L124.0 131.0" stroke-width="1.4" fill="none"/>
<path d="M138.2 111.2 L140.5 117.9 L135.9 117.9 Z" stroke="none"/>
<path d="M117.8 131.0 L124.9 128.8 L124.9 133.2 Z" stroke="none"/>
</g>
<text x="57.6" y="126.3" font-size="9.8" class="c">1"</text>
<text x="134.2" y="109.9" font-size="10.2" class="c">N</text>
<text x="111.0" y="133.3" font-size="10.2" class="c">E</text>
<g stroke="#00ffff" stroke-width="1.5" fill="none">
<path d="M402.2 84.9 H412.8 M407.5 79.6 V90.2"/>
<path d="M429.2 83.5 H439.8 M434.5 78.2 V88.8"/>
</g>
<text x="401.3" y="75.9" font-size="12.6" class="c">Q2</text>
<text x="428.2" y="73.9" font-size="12.6" class="c">Q1</text>
<defs><clipPath id="axc"><rect x="38.20" y="175.65" width="487.30" height="137.55"/></clipPath></defs>
<g clip-path="url(#axc)" fill="none" stroke-linejoin="round" stroke-linecap="butt">
<path d="M38.50,298.78 L38.95,293.88 L39.40,293.97 L39.85,289.41 L40.30,288.76 L40.75,283.10 L41.20,282.23 L41.65,285.56 L42.10,294.31 L42.55,286.84 L43.00,290.70 L43.45,290.29 L43.90,293.58 L44.35,293.44 L44.80,296.26 L45.25,296.83 L45.70,299.69 L46.15,297.46 L46.60,293.23 L47.05,301.98 L47.50,298.56 L47.95,294.57 L48.40,289.17 L48.85,294.76 L49.30,293.40 L49.75,293.54 L50.20,287.80 L50.65,298.69 L51.10,295.70 L51.55,290.58 L52.00,292.62 L52.45,291.50 L52.90,294.11 L53.35,295.75 L53.80,287.52 L54.25,274.63 L54.70,277.89 L55.15,286.95 L55.60,288.66 L56.05,277.58 L56.50,274.93 L56.95,287.34 L57.40,292.08 L57.85,285.12 L58.30,294.97 L58.75,299.55 L59.20,299.30 L59.65,303.13 L60.10,302.86 L60.55,300.99 L61.00,301.00 L61.45,298.48 L61.90,291.28 L62.35,287.02 L62.80,287.82 L63.25,286.31 L63.70,273.02 L64.15,268.91 L64.60,259.04 L65.05,234.47 L65.50,261.19 L65.95,291.41 L66.40,267.89 L66.85,257.40 L67.30,234.92 L67.75,215.99 L68.20,219.83 L68.65,233.91 L69.10,244.13 L69.55,246.66 L70.00,241.67 L70.45,238.35 L70.90,233.66 L71.35,234.90 L71.80,235.45 L72.25,235.95 L72.70,237.83 L73.15,239.87 L73.60,245.10 L74.05,243.18 L74.50,238.21 L74.95,237.76 L75.40,232.88 L75.85,233.49 L76.30,234.30 L76.75,239.67 L77.20,241.54 L77.65,244.03 L78.10,247.76 L78.55,251.59 L79.00,256.36 L79.45,253.37 L79.90,257.57 L80.35,260.10 L80.80,258.34 L81.25,260.72 L81.70,265.22 L82.15,263.90 L82.60,265.25 L83.05,263.86 L83.50,270.06 L83.95,268.06 L84.40,268.32 L84.85,266.12 L85.30,271.33 L85.75,275.28 L86.20,272.93 L86.65,270.38 L87.10,269.81 L87.55,268.51 L88.00,271.30 L88.45,273.81 L88.90,271.05 L89.35,272.94 L89.80,273.54 L90.25,273.37 L90.70,271.31 L91.15,275.43 L91.60,275.82 L92.05,274.26 L92.50,274.41 L92.95,275.88 L93.40,276.12 L93.85,273.99 L94.30,272.39 L94.75,273.80 L95.20,275.77 L95.65,280.12 L96.10,288.28 L96.55,282.58 L97.00,277.41 L97.45,277.57 L97.90,277.23 L98.35,275.42 L98.80,277.88 L99.25,276.62 L99.70,280.42 L100.00,279.86 L100.70,277.10 L101.40,277.64 L102.10,275.42 L102.80,274.79 L103.50,276.94 L104.20,275.11 L104.90,275.79 L105.60,274.99 L106.30,277.35 L107.00,278.78 L107.70,278.07 L108.40,277.28 L109.10,275.41 L109.80,276.71 L110.50,277.05 L111.20,276.68 L111.90,274.48 L112.60,277.37 L113.30,273.77 L114.00,278.49 L114.70,277.39 L115.40,274.89 L116.10,275.47 L116.80,277.81 L117.50,276.52 L118.20,277.52 L118.90,274.83 L119.60,275.34 L120.30,277.43 L121.00,275.48 L121.70,276.70 L122.40,276.10 L123.10,275.73 L123.80,276.62 L124.50,274.72 L125.20,274.38 L125.90,274.08 L126.60,272.50 L127.30,274.30 L128.00,275.73 L128.70,273.35 L129.40,271.41 L130.10,270.88 L130.80,269.07 L131.50,267.82 L132.20,268.52 L132.90,267.74 L133.60,268.55 L134.30,264.66 L135.00,266.50 L135.70,267.74 L136.40,267.87 L137.10,267.01 L137.80,264.24 L138.50,266.21 L139.20,271.12 L139.90,269.44 L140.60,269.78 L141.30,270.18 L142.00,271.64 L142.70,274.21 L143.40,273.35 L144.10,275.74 L144.80,279.20 L145.50,277.29 L146.20,277.78 L146.90,277.11 L147.60,287.14 L148.30,283.24 L149.00,277.71 L149.70,277.98 L150.40,280.60 L151.10,281.70 L151.80,278.59 L152.50,278.28 L153.20,279.52 L153.90,282.98 L154.60,278.68 L155.30,279.60 L156.00,280.13 L156.70,279.24 L157.40,280.56 L158.10,277.86 L158.80,278.76 L159.50,279.69 L160.20,278.36 L160.90,278.88 L161.60,281.27 L162.30,279.08 L163.00,279.59 L163.70,281.65 L164.40,279.92 L165.10,278.22 L165.80,279.89 L166.50,276.68 L167.20,276.23 L167.90,279.40 L168.60,278.05 L169.30,275.78 L170.00,279.43 L170.70,281.55 L171.40,280.71 L172.10,286.42 L172.80,286.23 L173.50,277.58 L174.20,280.94 L174.90,277.17 L175.60,275.67 L176.30,282.35 L177.00,278.90 L177.70,278.87 L178.40,280.45 L179.10,280.50 L179.80,272.94 L180.50,273.82 L181.20,269.14 L181.90,262.93 L182.60,261.10 L183.30,266.25 L184.00,261.65 L184.70,258.30 L185.40,256.22 L186.10,254.31 L186.80,258.79 L187.50,259.40 L188.20,260.35 L188.90,261.03 L189.60,263.37 L190.30,270.49 L191.00,271.01 L191.70,273.88 L192.40,271.96 L193.10,273.80 L193.80,276.20 L194.50,277.36 L195.20,276.12 L195.90,275.23 L196.60,279.06 L197.30,278.52 L198.00,277.94 L198.70,278.34 L199.40,277.20 L200.10,283.87 L200.80,282.55 L201.50,292.56 L202.20,278.68 L202.90,272.21 L203.60,291.22 L204.30,271.05 L205.00,267.19 L205.70,279.92 L206.40,287.68 L207.10,261.42 L207.80,286.72 L208.50,270.72 L209.20,282.91 L209.90,283.66 L210.60,279.13 L211.30,279.44 L212.00,275.64 L212.70,276.26 L213.40,280.22 L214.10,271.34 L214.80,275.05 L215.50,277.71 L216.20,278.55 L216.90,279.93 L217.60,279.83 L218.30,275.46 L219.00,276.60 L219.70,279.16 L220.40,273.49 L221.10,280.92 L221.80,276.89 L222.50,274.47 L223.20,285.81 L223.90,280.93 L224.60,269.97 L225.30,284.85 L226.00,272.97 L226.70,285.39 L227.40,277.20 L228.10,285.38 L228.80,282.88 L229.50,281.55 L230.20,282.50 L230.90,273.99 L231.60,274.98 L232.30,274.81 L233.00,278.48 L233.70,270.75 L234.40,274.04 L235.10,277.81 L235.80,285.07 L236.50,275.96 L237.20,276.16 L237.90,279.08 L238.60,275.91 L239.30,275.65 L240.00,281.09 L240.70,276.75 L241.40,277.86 L242.10,278.04 L242.80,281.28 L243.50,281.86 L244.20,279.03 L244.90,272.72 L245.60,268.50 L246.30,281.35 L247.00,284.56 L247.70,281.19 L248.40,283.46 L249.10,281.50 L249.80,277.76 L250.50,283.69 L251.20,276.81 L251.90,276.00 L252.60,272.80 L253.30,271.50 L254.00,275.10 L254.70,269.63 L255.40,281.49 L256.10,278.14 L256.80,278.53 L257.50,277.36 L258.20,274.89 L258.90,280.37 L259.60,272.00 L260.30,273.74 L261.00,277.39 L261.70,276.85 L262.40,282.40 L263.10,288.18 L263.80,278.71 L264.50,277.02 L265.20,277.23 L265.90,282.16 L266.60,279.52 L267.30,271.01 L268.00,274.73 L268.70,274.99 L269.40,278.26 L270.10,274.19 L270.80,272.00 L271.50,273.76 L272.20,277.80 L272.90,275.09 L273.60,279.08 L274.30,276.79 L275.00,273.38 L275.70,277.14 L276.40,275.82 L277.10,269.73 L277.80,275.03 L278.50,271.46 L279.20,274.74 L279.90,277.14 L280.60,272.73 L281.30,273.37 L282.00,278.24 L282.70,274.80 L283.40,271.45 L284.10,264.44 L284.80,270.46 L285.50,268.03 L286.20,265.35 L286.90,266.06 L287.60,267.86 L288.30,261.38 L289.00,262.77 L289.70,275.06 L290.40,265.04 L291.10,267.13 L291.80,266.68 L292.50,270.44 L293.20,269.18 L293.90,266.80 L294.60,268.46 L295.30,269.15 L296.00,272.27 L296.70,273.43 L297.40,274.04 L298.10,280.93 L298.80,271.07 L299.50,277.72 L300.20,277.83 L300.90,278.79 L301.60,278.02 L302.30,286.14 L303.00,279.27 L303.70,284.00 L304.40,283.36 L305.10,286.17 L305.80,285.91 L306.50,279.17 L307.20,282.55 L307.90,281.54 L308.60,281.88 L309.30,284.95 L310.00,283.72 L310.70,285.46 L311.40,282.76 L312.10,288.49 L312.80,283.19 L313.50,279.44 L314.20,278.66 L314.90,278.92 L315.60,280.90 L316.30,285.35 L317.00,279.84 L317.70,281.03 L318.40,281.83 L319.10,286.17 L319.80,281.57 L320.50,278.68 L321.20,280.66 L321.90,283.51 L322.60,281.33 L323.30,282.93 L324.00,282.47 L324.70,280.61 L325.40,282.08 L326.10,282.89 L326.80,282.05 L327.50,285.50 L328.20,286.04 L328.90,281.89 L329.60,284.97 L330.30,281.76 L331.00,288.52 L331.70,280.04 L332.40,283.70 L333.10,278.80 L333.80,290.36 L334.50,288.17 L335.20,279.64 L335.90,283.13 L336.60,282.75 L337.30,283.27 L338.00,283.20 L338.70,282.19 L339.40,286.46 L340.10,284.18 L340.80,280.21 L341.50,283.29 L342.20,285.49 L342.90,283.57 L343.60,281.04 L344.30,284.43 L345.00,284.40 L345.70,282.63 L346.40,281.69 L347.10,280.05 L347.80,284.37 L348.50,283.13 L349.20,281.31 L349.90,289.16 L350.60,283.76 L351.30,282.94 L352.00,284.41 L352.70,286.46 L353.40,282.70 L354.10,281.01 L354.80,284.53 L355.50,285.58 L356.20,284.91 L356.90,280.32 L357.60,281.17 L358.30,284.31 L359.00,287.29 L359.70,287.74 L360.40,285.33 L361.10,285.34 L361.80,283.87 L362.50,287.48 L363.20,284.93 L363.90,284.90 L412.50,280.37 L413.20,278.41 L413.90,282.46 L414.60,282.63 L415.30,286.86 L416.00,286.26 L416.70,281.69 L417.40,282.05 L418.10,289.50 L418.80,281.58 L419.50,282.58 L420.20,282.87 L420.90,286.68 L421.60,283.77 L422.30,285.67 L423.00,283.23 L423.70,280.58 L424.40,283.17 L425.10,282.45 L425.80,285.25 L426.50,286.76 L427.20,284.68 L427.90,282.66 L428.60,281.85 L429.30,284.97 L430.00,284.40 L430.70,285.73 L431.40,288.35 L432.10,284.88 L432.80,284.43 L433.50,285.93 L434.20,285.52 L434.90,288.62 L435.60,285.19 L436.30,282.79 L437.00,285.43 L437.70,284.36 L438.40,284.69 L439.10,286.89 L439.80,285.22 L440.50,287.05 L441.20,280.45 L441.90,285.24 L442.60,287.52 L443.30,288.31 L444.00,282.97 L444.70,284.52 L445.40,284.90 L446.10,287.99 L446.80,286.58 L447.50,287.72 L448.20,283.65 L448.90,286.49 L449.60,282.18 L450.30,284.64 L451.00,286.10 L451.70,283.16 L452.40,289.18 L453.10,286.93 L453.80,286.14 L454.50,283.53 L455.20,283.47 L455.90,284.68 L456.60,288.34 L457.30,286.09 L458.00,287.01 L458.70,282.81 L459.40,285.65 L460.10,283.72 L460.80,281.34 L461.50,284.51 L462.20,282.95 L462.90,284.61 L463.60,283.63 L464.30,283.38 L465.00,283.16 L465.70,282.79 L466.40,283.31 L467.10,279.08 L467.80,283.15 L468.50,281.29 L469.20,281.93 L469.90,285.02 L470.60,279.08 L471.30,280.00 L472.00,282.36 L472.70,280.71 L473.40,281.54 L474.10,277.33 L474.80,273.93 L475.50,273.10 L476.20,275.88 L476.90,275.09 L477.60,269.94 L478.30,267.18 L479.00,269.87 L479.70,268.69 L480.40,274.01 L481.10,273.27 L481.80,273.91 L482.50,276.89 L483.20,277.87 L483.90,277.33 L484.60,280.35 L485.30,281.55 L486.00,278.98 L486.70,280.16 L487.40,282.56 L488.10,280.34 L488.80,282.26 L489.50,280.40 L490.20,281.70 L490.90,282.35 L491.60,283.34 L492.30,281.81 L493.00,282.37 L493.70,279.17 L494.40,282.58 L495.10,284.89 L495.80,279.13 L496.50,286.20 L497.20,279.96 L497.90,284.28 L498.60,280.47 L499.30,283.16 L500.00,281.93 L500.70,282.88 L501.40,283.18 L502.10,282.17 L502.80,284.20 L503.50,282.34 L504.20,285.04 L504.90,284.49 L505.60,284.15 L506.30,283.49 L507.00,281.30 L507.70,284.81 L508.40,284.88 L509.10,285.36 L509.80,284.18 L510.50,282.57 L511.20,284.81 L511.90,284.08 L512.60,284.60 L513.30,283.50 L514.00,287.06 L514.70,282.70 L515.40,282.17 L516.10,285.16 L516.80,283.90 L517.50,285.34 L518.20,282.15 L518.90,282.80 L519.60,279.02 L520.30,284.26 L521.00,285.41 L521.70,284.77 L522.40,286.10 L523.10,283.67 L523.80,283.53 L524.50,282.53 L525.20,283.41" stroke="#1f77b4" stroke-width="1.5"/>
<path d="M38.50,296.75 L38.95,294.32 L39.40,298.38 L39.85,302.69 L40.30,299.39 L40.75,303.25 L41.20,299.01 L41.65,295.82 L42.10,300.70 L42.55,300.45 L43.00,299.47 L43.45,299.05 L43.90,297.02 L44.35,297.34 L44.80,296.41 L45.25,299.81 L45.70,295.38 L46.15,296.46 L46.60,299.54 L47.05,298.92 L47.50,299.27 L47.95,301.55 L48.40,294.44 L48.85,297.21 L49.30,298.48 L49.75,296.47 L50.20,299.17 L50.65,299.21 L51.10,296.27 L51.55,300.80 L52.00,300.27 L52.45,301.54 L52.90,299.12 L53.35,295.15 L53.80,297.71 L54.25,293.10 L54.70,296.78 L55.15,295.05 L55.60,297.57 L56.05,294.15 L56.50,291.91 L56.95,297.03 L57.40,300.20 L57.85,297.80 L58.30,296.73 L58.75,300.29 L59.20,295.14 L59.65,301.87 L60.10,298.33 L60.55,296.76 L61.00,299.11 L61.45,297.18 L61.90,298.79 L62.35,300.62 L62.80,299.56 L63.25,293.90 L63.70,298.62 L64.15,294.58 L64.60,292.68 L65.05,293.64 L65.50,289.56 L65.95,289.29 L66.40,287.96 L66.85,286.43 L67.30,285.97 L67.75,283.50 L68.20,281.46 L68.65,275.27 L69.10,277.04 L69.55,276.65 L70.00,278.50 L70.45,278.27 L70.90,283.43 L71.35,280.74 L71.80,282.45 L72.25,282.78 L72.70,284.64 L73.15,284.48 L73.60,281.80 L74.05,282.55 L74.50,286.17 L74.95,283.81 L75.40,285.02 L75.85,282.81 L76.30,284.16 L76.75,284.27 L77.20,285.98 L77.65,286.29 L78.10,287.72 L78.55,289.31 L79.00,288.33 L79.45,286.12 L79.90,286.27 L80.35,289.65 L80.80,289.86 L81.25,289.94 L81.70,290.20 L82.15,290.93 L82.60,290.44 L83.05,288.80 L83.50,288.85 L83.95,287.72 L84.40,290.31 L84.85,293.04 L85.30,291.07 L85.75,291.82 L86.20,290.97 L86.65,291.56 L87.10,289.46 L87.55,291.83 L88.00,290.83 L88.45,288.65 L88.90,290.97 L89.35,293.05 L89.80,289.95 L90.25,290.52 L90.70,290.48 L91.15,290.35 L91.60,292.36 L92.05,292.47 L92.50,291.22 L92.95,293.52 L93.40,292.73 L93.85,290.71 L94.30,293.85 L94.75,292.37 L95.20,291.90 L95.65,293.39 L96.10,293.89 L96.55,291.82 L97.00,294.56 L97.45,290.84 L97.90,293.35 L98.35,292.03 L98.80,293.06 L99.25,292.89 L99.70,290.51 L100.00,291.49 L100.70,290.98 L101.40,293.00 L102.10,291.97 L102.80,292.97 L103.50,291.64 L104.20,291.12 L104.90,291.09 L105.60,291.09 L106.30,292.39 L107.00,291.05 L107.70,292.18 L108.40,290.22 L109.10,291.91 L109.80,290.42 L110.50,292.14 L111.20,291.03 L111.90,291.52 L112.60,293.39 L113.30,291.06 L114.00,292.81 L114.70,293.77 L115.40,291.67 L116.10,290.60 L116.80,291.04 L117.50,292.78 L118.20,293.73 L118.90,294.79 L119.60,292.58 L120.30,292.45 L121.00,292.06 L121.70,290.53 L122.40,292.08 L123.10,293.03 L123.80,293.06 L124.50,292.86 L125.20,292.52 L125.90,291.41 L126.60,292.06 L127.30,291.74 L128.00,291.49 L128.70,291.31 L129.40,290.77 L130.10,290.14 L130.80,292.41 L131.50,291.58 L132.20,291.33 L132.90,291.32 L133.60,290.23 L134.30,290.29 L135.00,291.72 L135.70,289.25 L136.40,290.48 L137.10,290.31 L137.80,291.72 L138.50,290.27 L139.20,291.51 L139.90,292.24 L140.60,291.16 L141.30,292.44 L142.00,292.59 L142.70,291.02 L143.40,290.73 L144.10,292.36 L144.80,290.68 L145.50,290.51 L146.20,290.59 L146.90,291.49 L147.60,292.21 L148.30,290.29 L149.00,292.34 L149.70,291.47 L150.40,290.80 L151.10,290.19 L151.80,291.69 L152.50,291.73 L153.20,291.46 L153.90,291.78 L154.60,290.85 L155.30,290.90 L156.00,290.22 L156.70,292.07 L157.40,291.24 L158.10,292.76 L158.80,292.44 L159.50,290.54 L160.20,292.30 L160.90,293.99 L161.60,292.59 L162.30,292.57 L163.00,293.92 L163.70,291.83 L164.40,291.17 L165.10,292.57 L165.80,291.03 L166.50,294.17 L167.20,291.27 L167.90,292.05 L168.60,289.72 L169.30,292.02 L170.00,292.06 L170.70,292.03 L171.40,292.81 L172.10,293.08 L172.80,289.66 L173.50,290.94 L174.20,290.79 L174.90,290.78 L175.60,293.70 L176.30,285.43 L177.00,294.40 L177.70,288.09 L178.40,291.32 L179.10,287.21 L179.80,290.89 L180.50,286.39 L181.20,287.91 L181.90,285.40 L182.60,283.61 L183.30,288.06 L184.00,288.03 L184.70,291.10 L185.40,287.80 L186.10,286.57 L186.80,288.05 L187.50,287.73 L188.20,288.18 L188.90,290.69 L189.60,287.37 L190.30,289.74 L191.00,290.93 L191.70,288.27 L192.40,289.39 L193.10,289.52 L193.80,290.40 L194.50,291.71 L195.20,289.96 L195.90,292.44 L196.60,291.17 L197.30,292.93 L198.00,293.18 L198.70,290.04 L199.40,294.07 L200.10,285.86 L200.80,296.59 L201.50,287.91 L202.20,292.96 L202.90,289.05 L203.60,289.35 L204.30,298.64 L205.00,289.72 L205.70,293.14 L206.40,295.46 L207.10,288.17 L207.80,290.78 L208.50,292.99 L209.20,295.59 L209.90,292.67 L210.60,292.05 L211.30,295.10 L212.00,286.74 L212.70,294.29 L213.40,296.71 L214.10,287.73 L214.80,287.36 L215.50,296.23 L216.20,291.47 L216.90,295.74 L217.60,290.89 L218.30,293.49 L219.00,295.72 L219.70,290.22 L220.40,294.51 L221.10,291.56 L221.80,294.07 L222.50,288.55 L223.20,290.04 L223.90,293.60 L224.60,297.55 L225.30,291.75 L226.00,294.79 L226.70,289.92 L227.40,289.06 L228.10,292.66 L228.80,290.64 L229.50,295.72 L230.20,291.43 L230.90,289.03 L231.60,295.87 L232.30,291.11 L233.00,292.23 L233.70,290.84 L234.40,292.66 L235.10,292.97 L235.80,290.14 L236.50,292.74 L237.20,291.77 L237.90,295.84 L238.60,291.97 L239.30,291.32 L240.00,293.16 L240.70,292.95 L241.40,297.20 L242.10,295.12 L242.80,293.44 L243.50,293.54 L244.20,288.16 L244.90,291.19 L245.60,295.43 L246.30,287.98 L247.00,295.87 L247.70,295.34 L248.40,294.75 L249.10,293.00 L249.80,287.39 L250.50,293.43 L251.20,291.72 L251.90,295.97 L252.60,293.82 L253.30,287.49 L254.00,290.13 L254.70,290.95 L255.40,289.69 L256.10,291.68 L256.80,291.75 L257.50,295.11 L258.20,295.99 L258.90,294.25 L259.60,293.55 L260.30,294.53 L261.00,291.40 L261.70,289.12 L262.40,292.89 L263.10,296.05 L263.80,295.37 L264.50,290.74 L265.20,291.25 L265.90,292.38 L266.60,291.55 L267.30,290.57 L268.00,292.72 L268.70,292.19 L269.40,293.45 L270.10,296.62 L270.80,292.53 L271.50,292.78 L272.20,291.92 L272.90,293.70 L273.60,291.82 L274.30,291.83 L275.00,293.31 L275.70,294.34 L276.40,293.68 L277.10,291.69 L277.80,290.64 L278.50,288.80 L279.20,292.26 L279.90,291.09 L280.60,289.73 L281.30,293.66 L282.00,290.63 L282.70,292.52 L283.40,292.29 L284.10,290.20 L284.80,291.92 L285.50,290.87 L286.20,293.37 L286.90,291.52 L287.60,292.91 L288.30,291.92 L289.00,286.51 L289.70,291.39 L290.40,291.83 L291.10,292.19 L291.80,292.88 L292.50,288.54 L293.20,292.88 L293.90,287.68 L294.60,292.23 L295.30,289.82 L296.00,291.81 L296.70,293.19 L297.40,292.50 L298.10,290.00 L298.80,292.63 L299.50,295.73 L300.20,289.27 L300.90,293.75 L301.60,293.17 L302.30,290.15 L303.00,295.59 L303.70,293.62 L304.40,291.71 L305.10,291.75 L305.80,291.87 L306.50,294.53 L307.20,291.31 L307.90,293.69 L308.60,292.62 L309.30,294.53 L310.00,289.99 L310.70,293.60 L311.40,293.10 L312.10,293.91 L312.80,292.31 L313.50,295.27 L314.20,293.15 L314.90,293.37 L315.60,290.21 L316.30,293.55 L317.00,293.30 L317.70,292.74 L318.40,291.22 L319.10,289.51 L319.80,292.21 L320.50,292.09 L321.20,290.18 L321.90,292.85 L322.60,292.22 L323.30,293.97 L324.00,293.21 L324.70,294.28 L325.40,289.21 L326.10,291.61 L326.80,291.77 L327.50,294.68 L328.20,292.76 L328.90,294.14 L329.60,294.15 L330.30,295.29 L331.00,294.09 L331.70,288.47 L332.40,294.01 L333.10,291.80 L333.80,291.34 L334.50,292.17 L335.20,291.67 L335.90,294.67 L336.60,290.33 L337.30,289.39 L338.00,292.91 L338.70,294.17 L339.40,294.39 L340.10,295.25 L340.80,291.95 L341.50,291.56 L342.20,290.10 L342.90,295.20 L343.60,291.55 L344.30,291.83 L345.00,293.44 L345.70,294.49 L346.40,292.51 L347.10,289.26 L347.80,295.17 L348.50,294.02 L349.20,293.91 L349.90,293.27 L350.60,291.18 L351.30,293.84 L352.00,296.88 L352.70,295.17 L353.40,295.20 L354.10,292.62 L354.80,292.79 L355.50,294.99 L356.20,291.85 L356.90,296.14 L357.60,293.39 L358.30,290.88 L359.00,295.72 L359.70,292.07 L360.40,291.35 L361.10,293.85 L361.80,292.82 L362.50,295.58 L363.20,292.53 L363.90,293.17 L412.50,291.79 L413.20,291.80 L413.90,293.13 L414.60,294.31 L415.30,292.56 L416.00,292.94 L416.70,293.81 L417.40,295.70 L418.10,292.83 L418.80,291.09 L419.50,293.48 L420.20,293.38 L420.90,293.25 L421.60,291.85 L422.30,294.85 L423.00,291.30 L423.70,289.30 L424.40,291.74 L425.10,292.37 L425.80,291.79 L426.50,291.72 L427.20,292.96 L427.90,292.64 L428.60,292.74 L429.30,291.64 L430.00,289.65 L430.70,292.22 L431.40,289.45 L432.10,293.67 L432.80,291.31 L433.50,293.42 L434.20,292.21 L434.90,292.52 L435.60,295.07 L436.30,292.72 L437.00,291.81 L437.70,291.94 L438.40,294.41 L439.10,294.35 L439.80,291.51 L440.50,293.74 L441.20,289.53 L441.90,291.91 L442.60,291.87 L443.30,292.57 L444.00,293.40 L444.70,291.94 L445.40,292.62 L446.10,290.24 L446.80,292.08 L447.50,291.95 L448.20,290.82 L448.90,290.93 L449.60,295.06 L450.30,289.56 L451.00,294.36 L451.70,293.65 L452.40,292.66 L453.10,293.34 L453.80,289.74 L454.50,292.19 L455.20,293.78 L455.90,292.74 L456.60,293.31 L457.30,293.14 L458.00,291.65 L458.70,291.43 L459.40,292.37 L460.10,293.94 L460.80,292.97 L461.50,290.79 L462.20,291.29 L462.90,292.40 L463.60,290.86 L464.30,294.40 L465.00,292.70 L465.70,291.60 L466.40,291.12 L467.10,289.96 L467.80,291.15 L468.50,290.70 L469.20,290.72 L469.90,292.21 L470.60,290.80 L471.30,288.36 L472.00,289.12 L472.70,290.31 L473.40,289.65 L474.10,287.08 L474.80,287.07 L475.50,286.47 L476.20,287.10 L476.90,288.92 L477.60,288.88 L478.30,290.75 L479.00,286.71 L479.70,286.77 L480.40,285.41 L481.10,289.59 L481.80,286.24 L482.50,287.96 L483.20,288.67 L483.90,288.65 L484.60,290.77 L485.30,289.49 L486.00,290.95 L486.70,290.46 L487.40,289.71 L488.10,290.86 L488.80,289.41 L489.50,291.53 L490.20,291.49 L490.90,291.68 L491.60,290.74 L492.30,290.79 L493.00,289.87 L493.70,291.76 L494.40,292.32 L495.10,291.07 L495.80,289.05 L496.50,290.34 L497.20,294.16 L497.90,291.46 L498.60,292.17 L499.30,291.90 L500.00,290.50 L500.70,291.57 L501.40,291.78 L502.10,293.84 L502.80,291.79 L503.50,292.66 L504.20,291.30 L504.90,290.15 L505.60,292.82 L506.30,291.93 L507.00,290.77 L507.70,293.84 L508.40,292.57 L509.10,293.58 L509.80,292.44 L510.50,291.72 L511.20,292.05 L511.90,289.61 L512.60,290.48 L513.30,291.30 L514.00,290.00 L514.70,288.91 L515.40,292.03 L516.10,291.76 L516.80,291.04 L517.50,290.04 L518.20,294.25 L518.90,291.56 L519.60,287.78 L520.30,291.41 L521.00,288.79 L521.70,288.02 L522.40,290.35 L523.10,288.23 L523.80,291.33 L524.50,293.80 L525.20,292.03" stroke="#ff7f0e" stroke-width="1.5"/>
</g>
<path d="M59.58 313.20 v-3.20 M59.58 175.65 v3.20 M125.45 313.20 v-5.70 M125.45 175.65 v5.70 M183.55 313.20 v-3.20 M183.55 175.65 v3.20 M235.53 313.20 v-5.70 M235.53 175.65 v5.70 M325.47 313.20 v-5.70 M325.47 175.65 v5.70 M401.52 313.20 v-5.70 M401.52 175.65 v5.70 M467.39 313.20 v-5.70 M467.39 175.65 v5.70 M38.20 303.40 h5.70 M525.50 303.40 h-5.70 M38.20 293.56 h3.20 M525.50 293.56 h-3.20 M38.20 283.72 h3.20 M525.50 283.72 h-3.20 M38.20 273.88 h3.20 M525.50 273.88 h-3.20 M38.20 264.04 h5.70 M525.50 264.04 h-5.70 M38.20 254.20 h3.20 M525.50 254.20 h-3.20 M38.20 244.36 h3.20 M525.50 244.36 h-3.20 M38.20 234.52 h3.20 M525.50 234.52 h-3.20 M38.20 224.68 h5.70 M525.50 224.68 h-5.70 M38.20 214.84 h3.20 M525.50 214.84 h-3.20 M38.20 205.00 h3.20 M525.50 205.00 h-3.20 M38.20 195.16 h3.20 M525.50 195.16 h-3.20 M38.20 185.32 h5.70 M525.50 185.32 h-5.70" stroke="#000" stroke-width="1.05" fill="none"/>
<rect x="38.20" y="175.65" width="487.30" height="137.55" fill="none" stroke="#000" stroke-width="1.2"/>
<text x="125.45" y="325.9" font-size="13.2" text-anchor="middle">8000</text>
<text x="235.53" y="325.9" font-size="13.2" text-anchor="middle">10000</text>
<text x="325.47" y="325.9" font-size="13.2" text-anchor="middle">12000</text>
<text x="401.52" y="325.9" font-size="13.2" text-anchor="middle">14000</text>
<text x="467.39" y="325.9" font-size="13.2" text-anchor="middle">16000</text>
<text x="34.8" y="307.90" font-size="13.2" text-anchor="end">0</text>
<text x="34.8" y="268.54" font-size="13.2" text-anchor="end">2</text>
<text x="34.8" y="229.18" font-size="13.2" text-anchor="end">4</text>
<text x="34.8" y="189.82" font-size="13.2" text-anchor="end">6</text>
<text x="38.7" y="172.9" font-size="13.0">1e−17</text>
<text x="281.5" y="342.6" font-size="15.03" text-anchor="middle">Observed Wavelength [Angstrom]</text>
<text transform="translate(20.0 315.7) rotate(-90)" font-size="15.0"><tspan x="0" y="0">Flux [erg s</tspan><tspan x="64.9" y="-9.2" font-size="10.5">−1</tspan><tspan x="80.4" y="0">cm</tspan><tspan x="99.3" y="-9.2" font-size="10.5">−2</tspan><tspan x="115.0" y="0">Å</tspan><tspan x="125.9" y="-9.2" font-size="10.5">−1</tspan><tspan x="137.6" y="0">]</tspan></text>
<text x="64.40" y="191.4" font-size="11.2">Lyα</text>
<text x="132.90" y="191.4" font-size="11.2">Si IV</text>
<text x="184.20" y="191.4" font-size="11.2">C IV</text>
<text x="287.90" y="191.4" font-size="11.2">C III]</text>
<text x="477.70" y="191.4" font-size="11.2">Mg II</text>
<path d="M67.50 196.5 V205.3 M135.90 196.5 V205.3 M186.90 196.5 V205.3 M289.90 196.5 V205.3 M479.10 196.5 V205.3" stroke="#000" stroke-width="1.9" fill="none"/>
<path d="M384.0 198.8 H411.6" stroke="#1f77b4" stroke-width="1.3"/>
<path d="M384.0 217.7 H411.6" stroke="#ff7f0e" stroke-width="1.3"/>
<text x="424.2" y="204.1" font-size="13.0">Q1</text>
<text x="424.2" y="222.8" font-size="13.0">Q2</text>
</svg></body></html>
